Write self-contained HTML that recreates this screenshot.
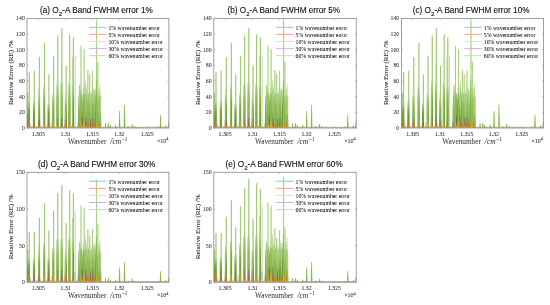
<!DOCTYPE html><html><head><meta charset="utf-8"><style>html,body{margin:0;padding:0;background:#fff;}svg{display:block}</style></head><body>
<svg width="550" height="305" viewBox="0 0 550 305">
<defs><filter id="bl" x="-2%" y="-2%" width="104%" height="104%"><feGaussianBlur stdDeviation="0.3"/></filter><linearGradient id="gb" x1="0" y1="0" x2="0" y2="1"><stop offset="0" stop-color="rgb(162,202,118)" stop-opacity="0.62"/><stop offset="0.35" stop-color="rgb(120,170,56)" stop-opacity="0.93"/><stop offset="1" stop-color="rgb(100,145,40)" stop-opacity="1"/></linearGradient><linearGradient id="gc" x1="0" y1="0" x2="0" y2="1"><stop offset="0" stop-color="rgb(120,172,55)" stop-opacity="0"/><stop offset="0.4" stop-color="rgb(110,160,45)" stop-opacity="0.7"/><stop offset="1" stop-color="rgb(100,145,40)" stop-opacity="0.9"/></linearGradient></defs>
<rect width="550" height="305" fill="#fff"/>
<filter id="gbl" x="0" y="0" width="100%" height="100%"><feGaussianBlur stdDeviation="0.25"/></filter><g filter="url(#gbl)">
<clipPath id="c0"><rect x="27" y="18.4" width="141.9" height="109.6"/></clipPath>
<g clip-path="url(#c0)" filter="url(#bl)">
<rect x="78.4" y="95.12" width="22" height="32.88" fill="url(#gb)" fill-opacity="0.7"/>
<path d="M77.6 128L78.3 102.75L78.9 102.75L79.6 128Z" fill="rgb(130,180,70)" fill-opacity="0.55"/>
<path d="M78.18 128L78.88 91.49L79.48 91.49L80.18 128Z" fill="rgb(130,180,70)" fill-opacity="0.55"/>
<path d="M78.71 128L79.41 95.45L80.01 95.45L80.71 128Z" fill="rgb(130,180,70)" fill-opacity="0.55"/>
<path d="M79.39 128L80.09 111.91L80.69 111.91L81.39 128Z" fill="rgb(130,180,70)" fill-opacity="0.55"/>
<path d="M80.15 128L80.85 112.62L81.45 112.62L82.15 128Z" fill="rgb(130,180,70)" fill-opacity="0.55"/>
<path d="M80.87 128L81.57 111.5L82.17 111.5L82.87 128Z" fill="rgb(130,180,70)" fill-opacity="0.55"/>
<path d="M81.41 128L82.11 99.29L82.71 99.29L83.41 128Z" fill="rgb(130,180,70)" fill-opacity="0.55"/>
<path d="M82.32 128L83.02 109.64L83.62 109.64L84.32 128Z" fill="rgb(130,180,70)" fill-opacity="0.55"/>
<path d="M82.94 128L83.64 92.3L84.24 92.3L84.94 128Z" fill="rgb(130,180,70)" fill-opacity="0.55"/>
<path d="M83.91 128L84.61 94.03L85.21 94.03L85.91 128Z" fill="rgb(130,180,70)" fill-opacity="0.55"/>
<path d="M84.61 128L85.31 80.28L85.91 80.28L86.61 128Z" fill="rgb(130,180,70)" fill-opacity="0.55"/>
<path d="M85.13 128L85.83 84.34L86.43 84.34L87.13 128Z" fill="rgb(130,180,70)" fill-opacity="0.55"/>
<path d="M85.78 128L86.48 108.94L87.08 108.94L87.78 128Z" fill="rgb(130,180,70)" fill-opacity="0.55"/>
<path d="M86.33 128L87.03 103.28L87.63 103.28L88.33 128Z" fill="rgb(130,180,70)" fill-opacity="0.55"/>
<path d="M87.24 128L87.94 107.68L88.54 107.68L89.24 128Z" fill="rgb(130,180,70)" fill-opacity="0.55"/>
<path d="M88.03 128L88.73 91.9L89.33 91.9L90.03 128Z" fill="rgb(130,180,70)" fill-opacity="0.55"/>
<path d="M88.72 128L89.42 95.04L90.02 95.04L90.72 128Z" fill="rgb(130,180,70)" fill-opacity="0.55"/>
<path d="M89.25 128L89.95 111.86L90.55 111.86L91.25 128Z" fill="rgb(130,180,70)" fill-opacity="0.55"/>
<path d="M89.85 128L90.55 90.47L91.15 90.47L91.85 128Z" fill="rgb(130,180,70)" fill-opacity="0.55"/>
<path d="M90.57 128L91.27 103.09L91.87 103.09L92.57 128Z" fill="rgb(130,180,70)" fill-opacity="0.55"/>
<path d="M91.36 128L92.06 98.3L92.66 98.3L93.36 128Z" fill="rgb(130,180,70)" fill-opacity="0.55"/>
<path d="M92.01 128L92.71 86.55L93.31 86.55L94.01 128Z" fill="rgb(130,180,70)" fill-opacity="0.55"/>
<path d="M92.86 128L93.56 105.5L94.16 105.5L94.86 128Z" fill="rgb(130,180,70)" fill-opacity="0.55"/>
<path d="M93.65 128L94.35 95.82L94.95 95.82L95.65 128Z" fill="rgb(130,180,70)" fill-opacity="0.55"/>
<path d="M94.58 128L95.28 88.78L95.88 88.78L96.58 128Z" fill="rgb(130,180,70)" fill-opacity="0.55"/>
<path d="M95.23 128L95.93 80.15L96.53 80.15L97.23 128Z" fill="rgb(130,180,70)" fill-opacity="0.55"/>
<path d="M95.79 128L96.49 99.51L97.09 99.51L97.79 128Z" fill="rgb(130,180,70)" fill-opacity="0.55"/>
<path d="M96.67 128L97.37 108.67L97.97 108.67L98.67 128Z" fill="rgb(130,180,70)" fill-opacity="0.55"/>
<path d="M97.41 128L98.11 112.56L98.71 112.56L99.41 128Z" fill="rgb(130,180,70)" fill-opacity="0.55"/>
<path d="M98.24 128L98.94 87.57L99.54 87.57L100.24 128Z" fill="rgb(130,180,70)" fill-opacity="0.55"/>
<path d="M99.03 128L99.73 83.75L100.33 83.75L101.03 128Z" fill="rgb(130,180,70)" fill-opacity="0.55"/>
<rect x="78.55" y="95.91" width="0.9" height="32.09" fill="rgb(100,145,45)" fill-opacity="0.6"/>
<rect x="80.03" y="97.99" width="0.9" height="30.01" fill="rgb(100,145,45)" fill-opacity="0.6"/>
<rect x="81.39" y="93.3" width="0.9" height="34.7" fill="rgb(100,145,45)" fill-opacity="0.6"/>
<rect x="83.15" y="99.89" width="0.9" height="28.11" fill="rgb(100,145,45)" fill-opacity="0.6"/>
<rect x="84.68" y="107.34" width="0.9" height="20.66" fill="rgb(100,145,45)" fill-opacity="0.6"/>
<rect x="86.24" y="96.78" width="0.9" height="31.22" fill="rgb(100,145,45)" fill-opacity="0.6"/>
<rect x="88.03" y="93.63" width="0.9" height="34.37" fill="rgb(100,145,45)" fill-opacity="0.6"/>
<rect x="89.26" y="101.48" width="0.9" height="26.52" fill="rgb(100,145,45)" fill-opacity="0.6"/>
<rect x="90.8" y="108.02" width="0.9" height="19.98" fill="rgb(100,145,45)" fill-opacity="0.6"/>
<rect x="92.17" y="105.4" width="0.9" height="22.6" fill="rgb(100,145,45)" fill-opacity="0.6"/>
<rect x="93.26" y="107.37" width="0.9" height="20.63" fill="rgb(100,145,45)" fill-opacity="0.6"/>
<rect x="94.87" y="106.1" width="0.9" height="21.9" fill="rgb(100,145,45)" fill-opacity="0.6"/>
<rect x="96.07" y="101.39" width="0.9" height="26.61" fill="rgb(100,145,45)" fill-opacity="0.6"/>
<rect x="97.77" y="106.98" width="0.9" height="21.02" fill="rgb(100,145,45)" fill-opacity="0.6"/>
<rect x="99.13" y="98.54" width="0.9" height="29.46" fill="rgb(100,145,45)" fill-opacity="0.6"/>
<rect x="78.4" y="113.91" width="21.9" height="14.09" fill="rgb(105,150,45)" fill-opacity="0.35"/>
<path d="M79.5 128L80.05 88.86L80.95 88.86L81.5 128Z" fill="url(#gb)" fill-opacity="1"/>
<path d="M82.6 128L83.15 87.29L84.05 87.29L84.6 128Z" fill="url(#gb)" fill-opacity="1"/>
<path d="M86 128L86.55 91.99L87.45 91.99L88 128Z" fill="url(#gb)" fill-opacity="1"/>
<path d="M88 128L88.55 96.69L89.45 96.69L90 128Z" fill="url(#gb)" fill-opacity="1"/>
<path d="M90.6 128L91.15 93.55L92.05 93.55L92.6 128Z" fill="url(#gb)" fill-opacity="1"/>
<path d="M93 128L93.55 88.86L94.45 88.86L95 128Z" fill="url(#gb)" fill-opacity="1"/>
<path d="M95.4 128L95.95 84.94L96.85 84.94L97.4 128Z" fill="url(#gb)" fill-opacity="1"/>
<path d="M97 128L97.55 90.42L98.45 90.42L99 128Z" fill="url(#gb)" fill-opacity="1"/>
<rect x="27.2" y="92.77" width="1.2" height="35.23" fill="rgb(168,207,125)" fill-opacity="0.95"/>
<rect x="27.6" y="93.48" width="0.4" height="34.52" fill="rgb(120,172,55)" fill-opacity="0.5"/>
<rect x="26.4" y="107.65" width="2.15" height="20.35" fill="url(#gb)"/>
<rect x="26.8" y="110.7" width="1.4" height="17.3" fill="url(#gc)"/>
<rect x="28.6" y="72.03" width="1.2" height="55.97" fill="rgb(168,207,125)" fill-opacity="0.95"/>
<rect x="29" y="73.15" width="0.4" height="54.85" fill="rgb(120,172,55)" fill-opacity="0.5"/>
<rect x="27.8" y="102.25" width="2.15" height="25.75" fill="url(#gb)"/>
<rect x="28.2" y="106.11" width="1.4" height="21.89" fill="url(#gc)"/>
<rect x="33.7" y="70.62" width="1.2" height="57.38" fill="rgb(168,207,125)" fill-opacity="0.95"/>
<rect x="34.1" y="71.76" width="0.4" height="56.24" fill="rgb(120,172,55)" fill-opacity="0.5"/>
<rect x="32.9" y="101.6" width="2.15" height="26.4" fill="url(#gb)"/>
<rect x="33.3" y="105.56" width="1.4" height="22.44" fill="url(#gc)"/>
<rect x="38.8" y="56.76" width="1.2" height="71.24" fill="rgb(168,207,125)" fill-opacity="0.95"/>
<rect x="39.2" y="58.18" width="0.4" height="69.82" fill="rgb(120,172,55)" fill-opacity="0.5"/>
<rect x="38" y="95.23" width="2.15" height="32.77" fill="url(#gb)"/>
<rect x="38.4" y="100.15" width="1.4" height="27.85" fill="url(#gc)"/>
<rect x="43.9" y="42.67" width="1.2" height="85.33" fill="rgb(168,207,125)" fill-opacity="0.95"/>
<rect x="44.3" y="44.38" width="0.4" height="83.62" fill="rgb(120,172,55)" fill-opacity="0.5"/>
<rect x="43.1" y="88.75" width="2.15" height="39.25" fill="url(#gb)"/>
<rect x="43.5" y="94.64" width="1.4" height="33.36" fill="url(#gc)"/>
<rect x="48.3" y="74.53" width="1.2" height="53.47" fill="rgb(168,207,125)" fill-opacity="0.95"/>
<rect x="48.7" y="75.6" width="0.4" height="52.4" fill="rgb(120,172,55)" fill-opacity="0.5"/>
<rect x="47.5" y="103.4" width="2.15" height="24.6" fill="url(#gb)"/>
<rect x="47.9" y="107.09" width="1.4" height="20.91" fill="url(#gc)"/>
<rect x="53" y="55.98" width="1.2" height="72.02" fill="rgb(168,207,125)" fill-opacity="0.95"/>
<rect x="53.4" y="57.42" width="0.4" height="70.58" fill="rgb(120,172,55)" fill-opacity="0.5"/>
<rect x="52.2" y="94.87" width="2.15" height="33.13" fill="url(#gb)"/>
<rect x="52.6" y="99.84" width="1.4" height="28.16" fill="url(#gc)"/>
<rect x="57.2" y="35.23" width="1.2" height="92.77" fill="rgb(168,207,125)" fill-opacity="0.95"/>
<rect x="57.6" y="37.09" width="0.4" height="90.91" fill="rgb(120,172,55)" fill-opacity="0.5"/>
<rect x="56.4" y="85.33" width="2.15" height="42.67" fill="url(#gb)"/>
<rect x="56.8" y="91.73" width="1.4" height="36.27" fill="url(#gc)"/>
<rect x="61.3" y="28.03" width="1.2" height="99.97" fill="rgb(168,207,125)" fill-opacity="0.95"/>
<rect x="61.7" y="30.03" width="0.4" height="97.97" fill="rgb(120,172,55)" fill-opacity="0.5"/>
<rect x="60.5" y="82.59" width="2.15" height="45.41" fill="url(#gb)"/>
<rect x="60.9" y="89.41" width="1.4" height="38.59" fill="url(#gc)"/>
<rect x="65.5" y="65.61" width="1.2" height="62.39" fill="rgb(168,207,125)" fill-opacity="0.95"/>
<rect x="65.9" y="66.85" width="0.4" height="61.15" fill="rgb(120,172,55)" fill-opacity="0.5"/>
<rect x="64.7" y="99.3" width="2.15" height="28.7" fill="url(#gb)"/>
<rect x="65.1" y="103.6" width="1.4" height="24.4" fill="url(#gc)"/>
<rect x="69.1" y="34.06" width="1.2" height="93.94" fill="rgb(168,207,125)" fill-opacity="0.95"/>
<rect x="69.5" y="35.94" width="0.4" height="92.06" fill="rgb(120,172,55)" fill-opacity="0.5"/>
<rect x="68.3" y="84.79" width="2.15" height="43.21" fill="url(#gb)"/>
<rect x="68.7" y="91.27" width="1.4" height="36.73" fill="url(#gc)"/>
<rect x="72.8" y="37.19" width="1.2" height="90.81" fill="rgb(168,207,125)" fill-opacity="0.95"/>
<rect x="73.2" y="39" width="0.4" height="89" fill="rgb(120,172,55)" fill-opacity="0.5"/>
<rect x="72" y="86.23" width="2.15" height="41.77" fill="url(#gb)"/>
<rect x="72.4" y="92.49" width="1.4" height="35.51" fill="url(#gc)"/>
<rect x="61.05" y="63.81" width="0.9" height="64.19" fill="rgb(165,206,120)" fill-opacity="0.75"/>
<rect x="72.05" y="56.99" width="0.9" height="71.01" fill="rgb(165,206,120)" fill-opacity="0.75"/>
<rect x="74.75" y="55.27" width="0.9" height="72.73" fill="rgb(165,206,120)" fill-opacity="0.75"/>
<rect x="38.35" y="88.86" width="0.9" height="39.14" fill="rgb(165,206,120)" fill-opacity="0.75"/>
<rect x="43.45" y="84.94" width="0.9" height="43.06" fill="rgb(165,206,120)" fill-opacity="0.75"/>
<rect x="52.55" y="92.77" width="0.9" height="35.23" fill="rgb(165,206,120)" fill-opacity="0.75"/>
<rect x="56.75" y="81.03" width="0.9" height="46.97" fill="rgb(165,206,120)" fill-opacity="0.75"/>
<rect x="65.05" y="92.77" width="0.9" height="35.23" fill="rgb(165,206,120)" fill-opacity="0.75"/>
<rect x="68.65" y="82.59" width="0.9" height="45.41" fill="rgb(165,206,120)" fill-opacity="0.75"/>
<rect x="79" y="84.94" width="1.2" height="43.06" fill="rgb(178,214,140)" fill-opacity="0.95"/>
<rect x="79.4" y="85.8" width="0.4" height="42.2" fill="rgb(125,176,62)" fill-opacity="0.45"/>
<path d="M78.6 128L79.3 108.62L79.9 108.62L80.6 128Z" fill="rgb(120,170,55)" fill-opacity="0.55"/>
<rect x="80.4" y="45.8" width="1.2" height="82.2" fill="rgb(178,214,140)" fill-opacity="0.95"/>
<rect x="80.8" y="47.44" width="0.4" height="80.56" fill="rgb(125,176,62)" fill-opacity="0.45"/>
<path d="M80 128L80.7 91.01L81.3 91.01L82 128Z" fill="rgb(120,170,55)" fill-opacity="0.55"/>
<rect x="83.5" y="48.93" width="1.2" height="79.07" fill="rgb(178,214,140)" fill-opacity="0.95"/>
<rect x="83.9" y="50.51" width="0.4" height="77.49" fill="rgb(125,176,62)" fill-opacity="0.45"/>
<path d="M83.1 128L83.8 92.42L84.4 92.42L85.1 128Z" fill="rgb(120,170,55)" fill-opacity="0.55"/>
<rect x="85.4" y="88.86" width="1.2" height="39.14" fill="rgb(178,214,140)" fill-opacity="0.95"/>
<rect x="85.8" y="89.64" width="0.4" height="38.36" fill="rgb(125,176,62)" fill-opacity="0.45"/>
<path d="M85 128L85.7 110.39L86.3 110.39L87 128Z" fill="rgb(120,170,55)" fill-opacity="0.55"/>
<rect x="87.3" y="69.83" width="1.2" height="58.17" fill="rgb(178,214,140)" fill-opacity="0.95"/>
<rect x="87.7" y="71" width="0.4" height="57" fill="rgb(125,176,62)" fill-opacity="0.45"/>
<path d="M86.9 128L87.6 101.83L88.2 101.83L88.9 128Z" fill="rgb(120,170,55)" fill-opacity="0.55"/>
<rect x="89.1" y="73.98" width="1.2" height="54.02" fill="rgb(178,214,140)" fill-opacity="0.95"/>
<rect x="89.5" y="75.06" width="0.4" height="52.94" fill="rgb(125,176,62)" fill-opacity="0.45"/>
<path d="M88.7 128L89.4 103.69L90 103.69L90.7 128Z" fill="rgb(120,170,55)" fill-opacity="0.55"/>
<rect x="90.4" y="92.77" width="1.2" height="35.23" fill="rgb(178,214,140)" fill-opacity="0.95"/>
<rect x="90.8" y="93.48" width="0.4" height="34.52" fill="rgb(125,176,62)" fill-opacity="0.45"/>
<path d="M90 128L90.7 112.15L91.3 112.15L92 128Z" fill="rgb(120,170,55)" fill-opacity="0.55"/>
<rect x="91.9" y="70.62" width="1.2" height="57.38" fill="rgb(178,214,140)" fill-opacity="0.95"/>
<rect x="92.3" y="71.76" width="0.4" height="56.24" fill="rgb(125,176,62)" fill-opacity="0.45"/>
<path d="M91.5 128L92.2 102.18L92.8 102.18L93.5 128Z" fill="rgb(120,170,55)" fill-opacity="0.55"/>
<rect x="93.7" y="90.42" width="1.2" height="37.58" fill="rgb(178,214,140)" fill-opacity="0.95"/>
<rect x="94.1" y="91.17" width="0.4" height="36.83" fill="rgb(125,176,62)" fill-opacity="0.45"/>
<path d="M93.3 128L94 111.09L94.6 111.09L95.3 128Z" fill="rgb(120,170,55)" fill-opacity="0.55"/>
<rect x="95.9" y="19.18" width="1.2" height="108.82" fill="rgb(178,214,140)" fill-opacity="0.95"/>
<rect x="96.3" y="21.36" width="0.4" height="106.64" fill="rgb(125,176,62)" fill-opacity="0.45"/>
<path d="M95.5 128L96.2 79.03L96.8 79.03L97.5 128Z" fill="rgb(120,170,55)" fill-opacity="0.55"/>
<rect x="97.3" y="61.61" width="1.2" height="66.39" fill="rgb(178,214,140)" fill-opacity="0.95"/>
<rect x="97.7" y="62.94" width="0.4" height="65.06" fill="rgb(125,176,62)" fill-opacity="0.45"/>
<path d="M96.9 128L97.6 98.13L98.2 98.13L98.9 128Z" fill="rgb(120,170,55)" fill-opacity="0.55"/>
<rect x="98.6" y="96.69" width="1.2" height="31.31" fill="rgb(178,214,140)" fill-opacity="0.95"/>
<rect x="99" y="97.31" width="0.4" height="30.69" fill="rgb(125,176,62)" fill-opacity="0.45"/>
<path d="M98.2 128L98.9 113.91L99.5 113.91L100.2 128Z" fill="rgb(120,170,55)" fill-opacity="0.55"/>
<rect x="100" y="95.9" width="1.2" height="32.1" fill="rgb(178,214,140)" fill-opacity="0.95"/>
<rect x="100.4" y="96.54" width="0.4" height="31.46" fill="rgb(125,176,62)" fill-opacity="0.45"/>
<path d="M99.6 128L100.3 113.56L100.9 113.56L101.6 128Z" fill="rgb(120,170,55)" fill-opacity="0.55"/>
<path d="M104.7 128L105.25 122.99L105.95 122.99L106.5 128Z" fill="rgb(150,196,100)" fill-opacity="0.85"/>
<path d="M105.15 128L105.45 122.99L105.75 122.99L106.05 128Z" fill="rgb(110,160,45)" fill-opacity="0.8"/>
<path d="M107.5 128L108.05 122.99L108.75 122.99L109.3 128Z" fill="rgb(150,196,100)" fill-opacity="0.85"/>
<path d="M107.95 128L108.25 122.99L108.55 122.99L108.85 128Z" fill="rgb(110,160,45)" fill-opacity="0.8"/>
<path d="M109.4 128L109.95 125.03L110.65 125.03L111.2 128Z" fill="rgb(150,196,100)" fill-opacity="0.85"/>
<path d="M109.85 128L110.15 125.03L110.45 125.03L110.75 128Z" fill="rgb(110,160,45)" fill-opacity="0.8"/>
<path d="M114.8 128L115.35 124.71L116.05 124.71L116.6 128Z" fill="rgb(150,196,100)" fill-opacity="0.85"/>
<path d="M115.25 128L115.55 124.71L115.85 124.71L116.15 128Z" fill="rgb(110,160,45)" fill-opacity="0.8"/>
<path d="M118.7 128L119.25 110.93L119.95 110.93L120.5 128Z" fill="rgb(150,196,100)" fill-opacity="0.85"/>
<path d="M119.15 128L119.45 110.93L119.75 110.93L120.05 128Z" fill="rgb(110,160,45)" fill-opacity="0.8"/>
<path d="M123.6 128L124.15 104.83L124.85 104.83L125.4 128Z" fill="rgb(150,196,100)" fill-opacity="0.85"/>
<path d="M124.05 128L124.35 104.83L124.65 104.83L124.95 128Z" fill="rgb(110,160,45)" fill-opacity="0.8"/>
<path d="M127.3 128L127.85 125.96L128.55 125.96L129.1 128Z" fill="rgb(150,196,100)" fill-opacity="0.85"/>
<path d="M127.75 128L128.05 125.96L128.35 125.96L128.65 128Z" fill="rgb(110,160,45)" fill-opacity="0.8"/>
<path d="M131.2 128L131.75 124.01L132.45 124.01L133 128Z" fill="rgb(150,196,100)" fill-opacity="0.85"/>
<path d="M131.65 128L131.95 124.01L132.25 124.01L132.55 128Z" fill="rgb(110,160,45)" fill-opacity="0.8"/>
<path d="M133.7 128L134.25 126.04L134.95 126.04L135.5 128Z" fill="rgb(150,196,100)" fill-opacity="0.85"/>
<path d="M134.15 128L134.45 126.04L134.75 126.04L135.05 128Z" fill="rgb(110,160,45)" fill-opacity="0.8"/>
<path d="M139.1 128L139.65 127.22L140.35 127.22L140.9 128Z" fill="rgb(150,196,100)" fill-opacity="0.85"/>
<path d="M139.55 128L139.85 127.22L140.15 127.22L140.45 128Z" fill="rgb(110,160,45)" fill-opacity="0.8"/>
<path d="M146.6 128L147.15 127.22L147.85 127.22L148.4 128Z" fill="rgb(150,196,100)" fill-opacity="0.85"/>
<path d="M147.05 128L147.35 127.22L147.65 127.22L147.95 128Z" fill="rgb(110,160,45)" fill-opacity="0.8"/>
<path d="M156.9 128L157.45 126.43L158.15 126.43L158.7 128Z" fill="rgb(150,196,100)" fill-opacity="0.85"/>
<path d="M157.35 128L157.65 126.43L157.95 126.43L158.25 128Z" fill="rgb(110,160,45)" fill-opacity="0.8"/>
<path d="M159.6 128L160.15 115.08L160.85 115.08L161.4 128Z" fill="rgb(150,196,100)" fill-opacity="0.85"/>
<path d="M160.05 128L160.35 115.08L160.65 115.08L160.95 128Z" fill="rgb(110,160,45)" fill-opacity="0.8"/>
<path d="M165.1 128L165.65 125.26L166.35 125.26L166.9 128Z" fill="rgb(150,196,100)" fill-opacity="0.85"/>
<path d="M165.55 128L165.85 125.26L166.15 125.26L166.45 128Z" fill="rgb(110,160,45)" fill-opacity="0.8"/>
<path d="M167.8 128L168.35 121.74L169.05 121.74L169.6 128Z" fill="rgb(150,196,100)" fill-opacity="0.85"/>
<path d="M168.25 128L168.55 121.74L168.85 121.74L169.15 128Z" fill="rgb(110,160,45)" fill-opacity="0.8"/>
<rect x="27" y="126.04" width="73.5" height="1.96" fill="rgb(180,150,70)" fill-opacity="0.2"/>
<path d="M26 128L26.45 122.39L26.75 122.39L27.2 128Z" fill="rgb(225,150,40)" fill-opacity="0.6"/>
<path d="M26.9 128L27.35 122.52L27.65 122.52L28.1 128Z" fill="rgb(217,83,25)" fill-opacity="0.6"/>
<path d="M27.7 128L28.15 122.82L28.45 122.82L28.9 128Z" fill="rgb(225,150,40)" fill-opacity="0.6"/>
<path d="M27.4 128L27.85 123.18L28.15 123.18L28.6 128Z" fill="rgb(217,83,25)" fill-opacity="0.6"/>
<path d="M28.3 128L28.75 121.06L29.05 121.06L29.5 128Z" fill="rgb(225,150,40)" fill-opacity="0.6"/>
<path d="M29.1 128L29.55 120.7L29.85 120.7L30.3 128Z" fill="rgb(225,150,40)" fill-opacity="0.6"/>
<path d="M32.5 128L32.95 125.83L33.25 125.83L33.7 128Z" fill="rgb(217,83,25)" fill-opacity="0.6"/>
<path d="M33.4 128L33.85 123.22L34.15 123.22L34.6 128Z" fill="rgb(225,150,40)" fill-opacity="0.6"/>
<path d="M34.2 128L34.65 123.32L34.95 123.32L35.4 128Z" fill="rgb(217,83,25)" fill-opacity="0.6"/>
<path d="M37.6 128L38.05 120.07L38.35 120.07L38.8 128Z" fill="rgb(217,83,25)" fill-opacity="0.6"/>
<path d="M38.5 128L38.95 124.54L39.25 124.54L39.7 128Z" fill="rgb(217,83,25)" fill-opacity="0.6"/>
<path d="M39.3 128L39.75 122.73L40.05 122.73L40.5 128Z" fill="rgb(200,120,30)" fill-opacity="0.6"/>
<path d="M42.7 128L43.15 123.09L43.45 123.09L43.9 128Z" fill="rgb(237,177,32)" fill-opacity="0.6"/>
<path d="M43.6 128L44.05 120.56L44.35 120.56L44.8 128Z" fill="rgb(225,150,40)" fill-opacity="0.6"/>
<path d="M44.4 128L44.85 123.67L45.15 123.67L45.6 128Z" fill="rgb(225,150,40)" fill-opacity="0.6"/>
<path d="M47.1 128L47.55 123.7L47.85 123.7L48.3 128Z" fill="rgb(200,120,30)" fill-opacity="0.6"/>
<path d="M48 128L48.45 120.7L48.75 120.7L49.2 128Z" fill="rgb(217,83,25)" fill-opacity="0.6"/>
<path d="M48.8 128L49.25 125.09L49.55 125.09L50 128Z" fill="rgb(217,83,25)" fill-opacity="0.6"/>
<path d="M51.8 128L52.25 125.97L52.55 125.97L53 128Z" fill="rgb(200,120,30)" fill-opacity="0.6"/>
<path d="M52.7 128L53.15 120.43L53.45 120.43L53.9 128Z" fill="rgb(237,177,32)" fill-opacity="0.6"/>
<path d="M53.5 128L53.95 121.24L54.25 121.24L54.7 128Z" fill="rgb(237,177,32)" fill-opacity="0.6"/>
<path d="M56 128L56.45 122.89L56.75 122.89L57.2 128Z" fill="rgb(237,177,32)" fill-opacity="0.6"/>
<path d="M56.9 128L57.35 119.1L57.65 119.1L58.1 128Z" fill="rgb(237,177,32)" fill-opacity="0.6"/>
<path d="M57.7 128L58.15 123.09L58.45 123.09L58.9 128Z" fill="rgb(200,120,30)" fill-opacity="0.6"/>
<path d="M60.1 128L60.55 125.22L60.85 125.22L61.3 128Z" fill="rgb(200,120,30)" fill-opacity="0.6"/>
<path d="M61 128L61.45 119.07L61.75 119.07L62.2 128Z" fill="rgb(217,83,25)" fill-opacity="0.6"/>
<path d="M61.8 128L62.25 124.14L62.55 124.14L63 128Z" fill="rgb(225,150,40)" fill-opacity="0.6"/>
<path d="M64.3 128L64.75 119.01L65.05 119.01L65.5 128Z" fill="rgb(217,83,25)" fill-opacity="0.6"/>
<path d="M65.2 128L65.65 124.56L65.95 124.56L66.4 128Z" fill="rgb(200,120,30)" fill-opacity="0.6"/>
<path d="M66 128L66.45 119.03L66.75 119.03L67.2 128Z" fill="rgb(217,83,25)" fill-opacity="0.6"/>
<path d="M67.9 128L68.35 125.75L68.65 125.75L69.1 128Z" fill="rgb(237,177,32)" fill-opacity="0.6"/>
<path d="M68.8 128L69.25 124.54L69.55 124.54L70 128Z" fill="rgb(225,150,40)" fill-opacity="0.6"/>
<path d="M69.6 128L70.05 125.98L70.35 125.98L70.8 128Z" fill="rgb(225,150,40)" fill-opacity="0.6"/>
<path d="M71.6 128L72.05 120.19L72.35 120.19L72.8 128Z" fill="rgb(200,120,30)" fill-opacity="0.6"/>
<path d="M72.5 128L72.95 125.53L73.25 125.53L73.7 128Z" fill="rgb(217,83,25)" fill-opacity="0.6"/>
<path d="M73.3 128L73.75 124.57L74.05 124.57L74.5 128Z" fill="rgb(237,177,32)" fill-opacity="0.6"/>
<path d="M78 128L78.45 125.93L78.75 125.93L79.2 128Z" fill="rgb(225,150,40)" fill-opacity="0.6"/>
<path d="M78.73 128L79.18 123.42L79.48 123.42L79.93 128Z" fill="rgb(200,120,30)" fill-opacity="0.6"/>
<path d="M79.5 128L79.95 125.15L80.25 125.15L80.7 128Z" fill="rgb(200,120,30)" fill-opacity="0.6"/>
<path d="M80.42 128L80.87 120.18L81.17 120.18L81.62 128Z" fill="rgb(237,177,32)" fill-opacity="0.6"/>
<path d="M81.16 128L81.61 119.94L81.91 119.94L82.36 128Z" fill="rgb(237,177,32)" fill-opacity="0.6"/>
<path d="M81.91 128L82.36 121.62L82.66 121.62L83.11 128Z" fill="rgb(225,150,40)" fill-opacity="0.6"/>
<path d="M82.7 128L83.15 119.64L83.45 119.64L83.9 128Z" fill="rgb(237,177,32)" fill-opacity="0.6"/>
<path d="M83.32 128L83.77 120.93L84.07 120.93L84.52 128Z" fill="rgb(237,177,32)" fill-opacity="0.6"/>
<path d="M84.08 128L84.53 120.83L84.83 120.83L85.28 128Z" fill="rgb(237,177,32)" fill-opacity="0.6"/>
<path d="M84.88 128L85.33 121.2L85.63 121.2L86.08 128Z" fill="rgb(200,120,30)" fill-opacity="0.6"/>
<path d="M85.75 128L86.2 119.83L86.5 119.83L86.95 128Z" fill="rgb(217,83,25)" fill-opacity="0.6"/>
<path d="M86.33 128L86.78 123.07L87.08 123.07L87.53 128Z" fill="rgb(217,83,25)" fill-opacity="0.6"/>
<path d="M87.01 128L87.46 125.27L87.76 125.27L88.21 128Z" fill="rgb(225,150,40)" fill-opacity="0.6"/>
<path d="M87.59 128L88.04 124.36L88.34 124.36L88.79 128Z" fill="rgb(200,120,30)" fill-opacity="0.6"/>
<path d="M88.47 128L88.92 124.23L89.22 124.23L89.67 128Z" fill="rgb(200,120,30)" fill-opacity="0.6"/>
<path d="M89.29 128L89.74 123.98L90.04 123.98L90.49 128Z" fill="rgb(237,177,32)" fill-opacity="0.6"/>
<path d="M89.86 128L90.31 119.5L90.61 119.5L91.06 128Z" fill="rgb(217,83,25)" fill-opacity="0.6"/>
<path d="M90.8 128L91.25 125.15L91.55 125.15L92 128Z" fill="rgb(200,120,30)" fill-opacity="0.6"/>
<path d="M91.74 128L92.19 122.1L92.49 122.1L92.94 128Z" fill="rgb(217,83,25)" fill-opacity="0.6"/>
<path d="M92.55 128L93 124.07L93.3 124.07L93.75 128Z" fill="rgb(237,177,32)" fill-opacity="0.6"/>
<path d="M93.35 128L93.8 120.77L94.1 120.77L94.55 128Z" fill="rgb(217,83,25)" fill-opacity="0.6"/>
<path d="M93.96 128L94.41 124.15L94.71 124.15L95.16 128Z" fill="rgb(200,120,30)" fill-opacity="0.6"/>
<path d="M94.52 128L94.97 124.29L95.27 124.29L95.72 128Z" fill="rgb(217,83,25)" fill-opacity="0.6"/>
<path d="M95.28 128L95.73 124.8L96.03 124.8L96.48 128Z" fill="rgb(225,150,40)" fill-opacity="0.6"/>
<path d="M95.85 128L96.3 122.3L96.6 122.3L97.05 128Z" fill="rgb(237,177,32)" fill-opacity="0.6"/>
<path d="M96.48 128L96.93 125.39L97.23 125.39L97.68 128Z" fill="rgb(237,177,32)" fill-opacity="0.6"/>
<path d="M97.12 128L97.57 119.77L97.87 119.77L98.32 128Z" fill="rgb(225,150,40)" fill-opacity="0.6"/>
<path d="M97.69 128L98.14 121.41L98.44 121.41L98.89 128Z" fill="rgb(237,177,32)" fill-opacity="0.6"/>
<path d="M98.42 128L98.87 121.89L99.17 121.89L99.62 128Z" fill="rgb(217,83,25)" fill-opacity="0.6"/>
<path d="M99.15 128L99.6 122.7L99.9 122.7L100.35 128Z" fill="rgb(225,150,40)" fill-opacity="0.6"/>
<rect x="77.67" y="122.64" width="0.8" height="4.97" fill="rgb(0,114,189)" fill-opacity="0.4"/>
<rect x="30.09" y="123.66" width="0.8" height="3.95" fill="rgb(0,114,189)" fill-opacity="0.4"/>
<rect x="62.36" y="123.36" width="0.8" height="4.24" fill="rgb(0,114,189)" fill-opacity="0.4"/>
<rect x="50.92" y="122.52" width="0.8" height="5.09" fill="rgb(0,114,189)" fill-opacity="0.4"/>
<rect x="39.32" y="119.17" width="1" height="6.48" fill="rgb(126,47,142)" fill-opacity="0.35"/>
<rect x="81.67" y="117.51" width="1" height="8.14" fill="rgb(126,47,142)" fill-opacity="0.35"/>
<rect x="81.67" y="118.43" width="1" height="7.22" fill="rgb(126,47,142)" fill-opacity="0.35"/>
<rect x="85.27" y="117.44" width="1" height="8.21" fill="rgb(126,47,142)" fill-opacity="0.35"/>
<rect x="57.02" y="118.52" width="1" height="7.13" fill="rgb(126,47,142)" fill-opacity="0.35"/>
<rect x="92.15" y="117.65" width="1" height="8.01" fill="rgb(126,47,142)" fill-opacity="0.35"/>
<rect x="61.2" y="118.02" width="1" height="7.63" fill="rgb(126,47,142)" fill-opacity="0.35"/>
<rect x="89.76" y="119.05" width="1" height="6.6" fill="rgb(126,47,142)" fill-opacity="0.35"/>
<line x1="27" y1="127.3" x2="168.9" y2="127.3" stroke="rgb(185,170,90)" stroke-width="0.9"/>
</g>
<rect x="27" y="18.4" width="141.9" height="109.6" fill="none" stroke="#8e8e8e" stroke-width="0.85"/>
<g stroke="#999" stroke-width="0.7"><line x1="38.3" y1="128" x2="38.3" y2="126.6"/><line x1="38.3" y1="18.4" x2="38.3" y2="19.8"/><line x1="65.7" y1="128" x2="65.7" y2="126.6"/><line x1="65.7" y1="18.4" x2="65.7" y2="19.8"/><line x1="92.4" y1="128" x2="92.4" y2="126.6"/><line x1="92.4" y1="18.4" x2="92.4" y2="19.8"/><line x1="119.4" y1="128" x2="119.4" y2="126.6"/><line x1="119.4" y1="18.4" x2="119.4" y2="19.8"/><line x1="147.2" y1="128" x2="147.2" y2="126.6"/><line x1="147.2" y1="18.4" x2="147.2" y2="19.8"/><line x1="27" y1="128" x2="28.4" y2="128"/><line x1="168.9" y1="128" x2="167.5" y2="128"/><line x1="27" y1="112.34" x2="28.4" y2="112.34"/><line x1="168.9" y1="112.34" x2="167.5" y2="112.34"/><line x1="27" y1="96.69" x2="28.4" y2="96.69"/><line x1="168.9" y1="96.69" x2="167.5" y2="96.69"/><line x1="27" y1="81.03" x2="28.4" y2="81.03"/><line x1="168.9" y1="81.03" x2="167.5" y2="81.03"/><line x1="27" y1="65.37" x2="28.4" y2="65.37"/><line x1="168.9" y1="65.37" x2="167.5" y2="65.37"/><line x1="27" y1="49.71" x2="28.4" y2="49.71"/><line x1="168.9" y1="49.71" x2="167.5" y2="49.71"/><line x1="27" y1="34.06" x2="28.4" y2="34.06"/><line x1="168.9" y1="34.06" x2="167.5" y2="34.06"/><line x1="27" y1="18.4" x2="28.4" y2="18.4"/><line x1="168.9" y1="18.4" x2="167.5" y2="18.4"/></g>
<g font-family="Liberation Serif, serif" font-size="5.8" fill="#3a3a3a" stroke="#3a3a3a" stroke-width="0.08"><text x="38.3" y="135.8" text-anchor="middle">1.305</text><text x="65.7" y="135.8" text-anchor="middle">1.31</text><text x="92.4" y="135.8" text-anchor="middle">1.315</text><text x="119.4" y="135.8" text-anchor="middle">1.32</text><text x="147.2" y="135.8" text-anchor="middle">1.325</text><text x="24.8" y="129.9" text-anchor="end">0</text><text x="24.8" y="114.24" text-anchor="end">20</text><text x="24.8" y="98.59" text-anchor="end">40</text><text x="24.8" y="82.93" text-anchor="end">60</text><text x="24.8" y="67.27" text-anchor="end">80</text><text x="24.8" y="51.61" text-anchor="end">100</text><text x="24.8" y="35.96" text-anchor="end">120</text><text x="24.8" y="20.3" text-anchor="end">140</text></g>
<text x="156.9" y="142.9" font-family="Liberation Serif, serif" font-size="6" fill="#3a3a3a" stroke="#3a3a3a" stroke-width="0.08">×10<tspan dy="-2.6" font-size="4.2">4</tspan></text>
<g font-family="Liberation Serif, serif" fill="#3a3a3a" stroke="#3a3a3a" stroke-width="0.04"><text x="67.9" y="144.1" font-size="7.25">Wavenumber</text><text x="110.35" y="144.1" font-size="7.5" font-style="italic">/cm</text><text x="121.95" y="141" font-size="5.2">−1</text></g>
<text transform="translate(13.4 72.7) rotate(-90)" text-anchor="middle" font-family="Liberation Serif, serif" font-size="7" fill="#2a2a2a" stroke="#2a2a2a" stroke-width="0.07">Relative Error (RE) /%</text>
<text x="96.4" y="12.6" text-anchor="middle" font-family="Liberation Sans, Arial, sans-serif" font-size="8.2" fill="#111" stroke="#111" stroke-width="0.12">(a) O<tspan dy="3.0" font-size="6.2">2</tspan><tspan dy="-3.0">-A Band FWHM error 1%</tspan></text>
<g font-family="Liberation Serif, serif" font-size="5.78" fill="#000" stroke="#000" stroke-width="0.03"><line x1="89" y1="27.3" x2="106.4" y2="27.3" stroke="rgb(140,196,234)" stroke-width="1"/><text x="108.4" y="29.6">1% wavenumber error</text><line x1="89" y1="34.4" x2="106.4" y2="34.4" stroke="rgb(243,166,142)" stroke-width="1"/><text x="108.4" y="36.7">5% wavenumber error</text><line x1="89" y1="41.5" x2="106.4" y2="41.5" stroke="rgb(250,220,160)" stroke-width="1"/><text x="108.4" y="43.8">10% wavenumber error</text><line x1="89" y1="48.6" x2="106.4" y2="48.6" stroke="rgb(208,176,223)" stroke-width="1"/><text x="108.4" y="50.9">30% wavenumber error</text><line x1="89" y1="55.7" x2="106.4" y2="55.7" stroke="rgb(198,222,175)" stroke-width="1"/><text x="108.4" y="58">60% wavenumber error</text></g>
<clipPath id="c1"><rect x="213.8" y="18.4" width="142.4" height="109.6"/></clipPath>
<g clip-path="url(#c1)" filter="url(#bl)">
<rect x="265.38" y="95.12" width="22.08" height="32.88" fill="url(#gb)" fill-opacity="0.7"/>
<path d="M264.58 128L265.28 102.75L265.88 102.75L266.58 128Z" fill="rgb(130,180,70)" fill-opacity="0.55"/>
<path d="M265.16 128L265.86 91.49L266.46 91.49L267.16 128Z" fill="rgb(130,180,70)" fill-opacity="0.55"/>
<path d="M265.7 128L266.4 95.45L267 95.45L267.7 128Z" fill="rgb(130,180,70)" fill-opacity="0.55"/>
<path d="M266.38 128L267.08 111.91L267.68 111.91L268.38 128Z" fill="rgb(130,180,70)" fill-opacity="0.55"/>
<path d="M267.14 128L267.84 112.62L268.44 112.62L269.14 128Z" fill="rgb(130,180,70)" fill-opacity="0.55"/>
<path d="M267.86 128L268.56 111.5L269.16 111.5L269.86 128Z" fill="rgb(130,180,70)" fill-opacity="0.55"/>
<path d="M268.41 128L269.11 99.29L269.71 99.29L270.41 128Z" fill="rgb(130,180,70)" fill-opacity="0.55"/>
<path d="M269.32 128L270.02 109.64L270.62 109.64L271.32 128Z" fill="rgb(130,180,70)" fill-opacity="0.55"/>
<path d="M269.94 128L270.64 92.3L271.24 92.3L271.94 128Z" fill="rgb(130,180,70)" fill-opacity="0.55"/>
<path d="M270.91 128L271.61 94.03L272.21 94.03L272.91 128Z" fill="rgb(130,180,70)" fill-opacity="0.55"/>
<path d="M271.61 128L272.31 80.28L272.91 80.28L273.61 128Z" fill="rgb(130,180,70)" fill-opacity="0.55"/>
<path d="M272.14 128L272.84 84.34L273.44 84.34L274.14 128Z" fill="rgb(130,180,70)" fill-opacity="0.55"/>
<path d="M272.79 128L273.49 108.94L274.09 108.94L274.79 128Z" fill="rgb(130,180,70)" fill-opacity="0.55"/>
<path d="M273.35 128L274.05 103.28L274.65 103.28L275.35 128Z" fill="rgb(130,180,70)" fill-opacity="0.55"/>
<path d="M274.26 128L274.96 107.68L275.56 107.68L276.26 128Z" fill="rgb(130,180,70)" fill-opacity="0.55"/>
<path d="M275.05 128L275.75 91.9L276.35 91.9L277.05 128Z" fill="rgb(130,180,70)" fill-opacity="0.55"/>
<path d="M275.74 128L276.44 95.04L277.04 95.04L277.74 128Z" fill="rgb(130,180,70)" fill-opacity="0.55"/>
<path d="M276.27 128L276.97 111.86L277.57 111.86L278.27 128Z" fill="rgb(130,180,70)" fill-opacity="0.55"/>
<path d="M276.88 128L277.58 90.47L278.18 90.47L278.88 128Z" fill="rgb(130,180,70)" fill-opacity="0.55"/>
<path d="M277.6 128L278.3 103.09L278.9 103.09L279.6 128Z" fill="rgb(130,180,70)" fill-opacity="0.55"/>
<path d="M278.39 128L279.09 98.3L279.69 98.3L280.39 128Z" fill="rgb(130,180,70)" fill-opacity="0.55"/>
<path d="M279.04 128L279.74 86.55L280.34 86.55L281.04 128Z" fill="rgb(130,180,70)" fill-opacity="0.55"/>
<path d="M279.9 128L280.6 105.5L281.2 105.5L281.9 128Z" fill="rgb(130,180,70)" fill-opacity="0.55"/>
<path d="M280.69 128L281.39 95.82L281.99 95.82L282.69 128Z" fill="rgb(130,180,70)" fill-opacity="0.55"/>
<path d="M281.63 128L282.33 88.78L282.93 88.78L283.63 128Z" fill="rgb(130,180,70)" fill-opacity="0.55"/>
<path d="M282.27 128L282.97 80.15L283.57 80.15L284.27 128Z" fill="rgb(130,180,70)" fill-opacity="0.55"/>
<path d="M282.83 128L283.53 99.51L284.13 99.51L284.83 128Z" fill="rgb(130,180,70)" fill-opacity="0.55"/>
<path d="M283.72 128L284.42 108.67L285.02 108.67L285.72 128Z" fill="rgb(130,180,70)" fill-opacity="0.55"/>
<path d="M284.46 128L285.16 112.56L285.76 112.56L286.46 128Z" fill="rgb(130,180,70)" fill-opacity="0.55"/>
<path d="M285.3 128L286 87.57L286.6 87.57L287.3 128Z" fill="rgb(130,180,70)" fill-opacity="0.55"/>
<path d="M286.09 128L286.79 83.75L287.39 83.75L288.09 128Z" fill="rgb(130,180,70)" fill-opacity="0.55"/>
<rect x="265.53" y="95.91" width="0.9" height="32.09" fill="rgb(100,145,45)" fill-opacity="0.6"/>
<rect x="267.01" y="97.99" width="0.9" height="30.01" fill="rgb(100,145,45)" fill-opacity="0.6"/>
<rect x="268.38" y="93.3" width="0.9" height="34.7" fill="rgb(100,145,45)" fill-opacity="0.6"/>
<rect x="270.15" y="99.89" width="0.9" height="28.11" fill="rgb(100,145,45)" fill-opacity="0.6"/>
<rect x="271.68" y="107.34" width="0.9" height="20.66" fill="rgb(100,145,45)" fill-opacity="0.6"/>
<rect x="273.25" y="96.78" width="0.9" height="31.22" fill="rgb(100,145,45)" fill-opacity="0.6"/>
<rect x="275.05" y="93.63" width="0.9" height="34.37" fill="rgb(100,145,45)" fill-opacity="0.6"/>
<rect x="276.28" y="101.48" width="0.9" height="26.52" fill="rgb(100,145,45)" fill-opacity="0.6"/>
<rect x="277.82" y="108.02" width="0.9" height="19.98" fill="rgb(100,145,45)" fill-opacity="0.6"/>
<rect x="279.2" y="105.4" width="0.9" height="22.6" fill="rgb(100,145,45)" fill-opacity="0.6"/>
<rect x="280.29" y="107.37" width="0.9" height="20.63" fill="rgb(100,145,45)" fill-opacity="0.6"/>
<rect x="281.91" y="106.1" width="0.9" height="21.9" fill="rgb(100,145,45)" fill-opacity="0.6"/>
<rect x="283.12" y="101.39" width="0.9" height="26.61" fill="rgb(100,145,45)" fill-opacity="0.6"/>
<rect x="284.82" y="106.98" width="0.9" height="21.02" fill="rgb(100,145,45)" fill-opacity="0.6"/>
<rect x="286.18" y="98.54" width="0.9" height="29.46" fill="rgb(100,145,45)" fill-opacity="0.6"/>
<rect x="265.38" y="113.91" width="21.98" height="14.09" fill="rgb(105,150,45)" fill-opacity="0.35"/>
<path d="M266.49 128L267.04 88.86L267.94 88.86L268.49 128Z" fill="url(#gb)" fill-opacity="1"/>
<path d="M269.6 128L270.15 87.29L271.05 87.29L271.6 128Z" fill="url(#gb)" fill-opacity="1"/>
<path d="M273.01 128L273.56 91.99L274.46 91.99L275.01 128Z" fill="url(#gb)" fill-opacity="1"/>
<path d="M275.02 128L275.57 96.69L276.47 96.69L277.02 128Z" fill="url(#gb)" fill-opacity="1"/>
<path d="M277.63 128L278.18 93.55L279.08 93.55L279.63 128Z" fill="url(#gb)" fill-opacity="1"/>
<path d="M280.04 128L280.59 88.86L281.49 88.86L282.04 128Z" fill="url(#gb)" fill-opacity="1"/>
<path d="M282.44 128L282.99 84.94L283.89 84.94L284.44 128Z" fill="url(#gb)" fill-opacity="1"/>
<path d="M284.05 128L284.6 90.42L285.5 90.42L286.05 128Z" fill="url(#gb)" fill-opacity="1"/>
<rect x="214" y="92.77" width="1.2" height="35.23" fill="rgb(168,207,125)" fill-opacity="0.95"/>
<rect x="214.4" y="93.48" width="0.4" height="34.52" fill="rgb(120,172,55)" fill-opacity="0.5"/>
<rect x="213.2" y="107.65" width="2.15" height="20.35" fill="url(#gb)"/>
<rect x="213.6" y="110.7" width="1.4" height="17.3" fill="url(#gc)"/>
<rect x="215.41" y="72.03" width="1.2" height="55.97" fill="rgb(168,207,125)" fill-opacity="0.95"/>
<rect x="215.81" y="73.15" width="0.4" height="54.85" fill="rgb(120,172,55)" fill-opacity="0.5"/>
<rect x="214.61" y="102.25" width="2.15" height="25.75" fill="url(#gb)"/>
<rect x="215.01" y="106.11" width="1.4" height="21.89" fill="url(#gc)"/>
<rect x="220.53" y="70.62" width="1.2" height="57.38" fill="rgb(168,207,125)" fill-opacity="0.95"/>
<rect x="220.93" y="71.76" width="0.4" height="56.24" fill="rgb(120,172,55)" fill-opacity="0.5"/>
<rect x="219.73" y="101.6" width="2.15" height="26.4" fill="url(#gb)"/>
<rect x="220.13" y="105.56" width="1.4" height="22.44" fill="url(#gc)"/>
<rect x="225.64" y="56.76" width="1.2" height="71.24" fill="rgb(168,207,125)" fill-opacity="0.95"/>
<rect x="226.04" y="58.18" width="0.4" height="69.82" fill="rgb(120,172,55)" fill-opacity="0.5"/>
<rect x="224.84" y="95.23" width="2.15" height="32.77" fill="url(#gb)"/>
<rect x="225.24" y="100.15" width="1.4" height="27.85" fill="url(#gc)"/>
<rect x="230.76" y="42.67" width="1.2" height="85.33" fill="rgb(168,207,125)" fill-opacity="0.95"/>
<rect x="231.16" y="44.38" width="0.4" height="83.62" fill="rgb(120,172,55)" fill-opacity="0.5"/>
<rect x="229.96" y="88.75" width="2.15" height="39.25" fill="url(#gb)"/>
<rect x="230.36" y="94.64" width="1.4" height="33.36" fill="url(#gc)"/>
<rect x="235.18" y="74.53" width="1.2" height="53.47" fill="rgb(168,207,125)" fill-opacity="0.95"/>
<rect x="235.58" y="75.6" width="0.4" height="52.4" fill="rgb(120,172,55)" fill-opacity="0.5"/>
<rect x="234.38" y="103.4" width="2.15" height="24.6" fill="url(#gb)"/>
<rect x="234.78" y="107.09" width="1.4" height="20.91" fill="url(#gc)"/>
<rect x="239.89" y="55.98" width="1.2" height="72.02" fill="rgb(168,207,125)" fill-opacity="0.95"/>
<rect x="240.29" y="57.42" width="0.4" height="70.58" fill="rgb(120,172,55)" fill-opacity="0.5"/>
<rect x="239.09" y="94.87" width="2.15" height="33.13" fill="url(#gb)"/>
<rect x="239.49" y="99.84" width="1.4" height="28.16" fill="url(#gc)"/>
<rect x="244.11" y="35.23" width="1.2" height="92.77" fill="rgb(168,207,125)" fill-opacity="0.95"/>
<rect x="244.51" y="37.09" width="0.4" height="90.91" fill="rgb(120,172,55)" fill-opacity="0.5"/>
<rect x="243.31" y="85.33" width="2.15" height="42.67" fill="url(#gb)"/>
<rect x="243.71" y="91.73" width="1.4" height="36.27" fill="url(#gc)"/>
<rect x="248.22" y="28.03" width="1.2" height="99.97" fill="rgb(168,207,125)" fill-opacity="0.95"/>
<rect x="248.62" y="30.03" width="0.4" height="97.97" fill="rgb(120,172,55)" fill-opacity="0.5"/>
<rect x="247.42" y="82.59" width="2.15" height="45.41" fill="url(#gb)"/>
<rect x="247.82" y="89.41" width="1.4" height="38.59" fill="url(#gc)"/>
<rect x="252.44" y="65.61" width="1.2" height="62.39" fill="rgb(168,207,125)" fill-opacity="0.95"/>
<rect x="252.84" y="66.85" width="0.4" height="61.15" fill="rgb(120,172,55)" fill-opacity="0.5"/>
<rect x="251.64" y="99.3" width="2.15" height="28.7" fill="url(#gb)"/>
<rect x="252.04" y="103.6" width="1.4" height="24.4" fill="url(#gc)"/>
<rect x="256.05" y="34.06" width="1.2" height="93.94" fill="rgb(168,207,125)" fill-opacity="0.95"/>
<rect x="256.45" y="35.94" width="0.4" height="92.06" fill="rgb(120,172,55)" fill-opacity="0.5"/>
<rect x="255.25" y="84.79" width="2.15" height="43.21" fill="url(#gb)"/>
<rect x="255.65" y="91.27" width="1.4" height="36.73" fill="url(#gc)"/>
<rect x="259.76" y="37.19" width="1.2" height="90.81" fill="rgb(168,207,125)" fill-opacity="0.95"/>
<rect x="260.16" y="39" width="0.4" height="89" fill="rgb(120,172,55)" fill-opacity="0.5"/>
<rect x="258.96" y="86.23" width="2.15" height="41.77" fill="url(#gb)"/>
<rect x="259.36" y="92.49" width="1.4" height="35.51" fill="url(#gc)"/>
<rect x="247.97" y="63.81" width="0.9" height="64.19" fill="rgb(165,206,120)" fill-opacity="0.75"/>
<rect x="259.01" y="56.99" width="0.9" height="71.01" fill="rgb(165,206,120)" fill-opacity="0.75"/>
<rect x="261.72" y="55.27" width="0.9" height="72.73" fill="rgb(165,206,120)" fill-opacity="0.75"/>
<rect x="225.19" y="88.86" width="0.9" height="39.14" fill="rgb(165,206,120)" fill-opacity="0.75"/>
<rect x="230.31" y="84.94" width="0.9" height="43.06" fill="rgb(165,206,120)" fill-opacity="0.75"/>
<rect x="239.44" y="92.77" width="0.9" height="35.23" fill="rgb(165,206,120)" fill-opacity="0.75"/>
<rect x="243.66" y="81.03" width="0.9" height="46.97" fill="rgb(165,206,120)" fill-opacity="0.75"/>
<rect x="251.99" y="92.77" width="0.9" height="35.23" fill="rgb(165,206,120)" fill-opacity="0.75"/>
<rect x="255.6" y="82.59" width="0.9" height="45.41" fill="rgb(165,206,120)" fill-opacity="0.75"/>
<rect x="265.99" y="84.94" width="1.2" height="43.06" fill="rgb(178,214,140)" fill-opacity="0.95"/>
<rect x="266.39" y="85.8" width="0.4" height="42.2" fill="rgb(125,176,62)" fill-opacity="0.45"/>
<path d="M265.59 128L266.29 108.62L266.89 108.62L267.59 128Z" fill="rgb(120,170,55)" fill-opacity="0.55"/>
<rect x="267.39" y="45.8" width="1.2" height="82.2" fill="rgb(178,214,140)" fill-opacity="0.95"/>
<rect x="267.79" y="47.44" width="0.4" height="80.56" fill="rgb(125,176,62)" fill-opacity="0.45"/>
<path d="M266.99 128L267.69 91.01L268.29 91.01L268.99 128Z" fill="rgb(120,170,55)" fill-opacity="0.55"/>
<rect x="270.5" y="48.93" width="1.2" height="79.07" fill="rgb(178,214,140)" fill-opacity="0.95"/>
<rect x="270.9" y="50.51" width="0.4" height="77.49" fill="rgb(125,176,62)" fill-opacity="0.45"/>
<path d="M270.1 128L270.8 92.42L271.4 92.42L272.1 128Z" fill="rgb(120,170,55)" fill-opacity="0.55"/>
<rect x="272.41" y="88.86" width="1.2" height="39.14" fill="rgb(178,214,140)" fill-opacity="0.95"/>
<rect x="272.81" y="89.64" width="0.4" height="38.36" fill="rgb(125,176,62)" fill-opacity="0.45"/>
<path d="M272.01 128L272.71 110.39L273.31 110.39L274.01 128Z" fill="rgb(120,170,55)" fill-opacity="0.55"/>
<rect x="274.31" y="69.83" width="1.2" height="58.17" fill="rgb(178,214,140)" fill-opacity="0.95"/>
<rect x="274.71" y="71" width="0.4" height="57" fill="rgb(125,176,62)" fill-opacity="0.45"/>
<path d="M273.91 128L274.61 101.83L275.21 101.83L275.91 128Z" fill="rgb(120,170,55)" fill-opacity="0.55"/>
<rect x="276.12" y="73.98" width="1.2" height="54.02" fill="rgb(178,214,140)" fill-opacity="0.95"/>
<rect x="276.52" y="75.06" width="0.4" height="52.94" fill="rgb(125,176,62)" fill-opacity="0.45"/>
<path d="M275.72 128L276.42 103.69L277.02 103.69L277.72 128Z" fill="rgb(120,170,55)" fill-opacity="0.55"/>
<rect x="277.43" y="92.77" width="1.2" height="35.23" fill="rgb(178,214,140)" fill-opacity="0.95"/>
<rect x="277.83" y="93.48" width="0.4" height="34.52" fill="rgb(125,176,62)" fill-opacity="0.45"/>
<path d="M277.03 128L277.73 112.15L278.33 112.15L279.03 128Z" fill="rgb(120,170,55)" fill-opacity="0.55"/>
<rect x="278.93" y="70.62" width="1.2" height="57.38" fill="rgb(178,214,140)" fill-opacity="0.95"/>
<rect x="279.33" y="71.76" width="0.4" height="56.24" fill="rgb(125,176,62)" fill-opacity="0.45"/>
<path d="M278.53 128L279.23 102.18L279.83 102.18L280.53 128Z" fill="rgb(120,170,55)" fill-opacity="0.55"/>
<rect x="280.74" y="90.42" width="1.2" height="37.58" fill="rgb(178,214,140)" fill-opacity="0.95"/>
<rect x="281.14" y="91.17" width="0.4" height="36.83" fill="rgb(125,176,62)" fill-opacity="0.45"/>
<path d="M280.34 128L281.04 111.09L281.64 111.09L282.34 128Z" fill="rgb(120,170,55)" fill-opacity="0.55"/>
<rect x="282.94" y="19.18" width="1.2" height="108.82" fill="rgb(178,214,140)" fill-opacity="0.95"/>
<rect x="283.34" y="21.36" width="0.4" height="106.64" fill="rgb(125,176,62)" fill-opacity="0.45"/>
<path d="M282.54 128L283.24 79.03L283.84 79.03L284.54 128Z" fill="rgb(120,170,55)" fill-opacity="0.55"/>
<rect x="284.35" y="61.61" width="1.2" height="66.39" fill="rgb(178,214,140)" fill-opacity="0.95"/>
<rect x="284.75" y="62.94" width="0.4" height="65.06" fill="rgb(125,176,62)" fill-opacity="0.45"/>
<path d="M283.95 128L284.65 98.13L285.25 98.13L285.95 128Z" fill="rgb(120,170,55)" fill-opacity="0.55"/>
<rect x="285.65" y="96.69" width="1.2" height="31.31" fill="rgb(178,214,140)" fill-opacity="0.95"/>
<rect x="286.05" y="97.31" width="0.4" height="30.69" fill="rgb(125,176,62)" fill-opacity="0.45"/>
<path d="M285.25 128L285.95 113.91L286.55 113.91L287.25 128Z" fill="rgb(120,170,55)" fill-opacity="0.55"/>
<rect x="287.06" y="95.9" width="1.2" height="32.1" fill="rgb(178,214,140)" fill-opacity="0.95"/>
<rect x="287.46" y="96.54" width="0.4" height="31.46" fill="rgb(125,176,62)" fill-opacity="0.45"/>
<path d="M286.66 128L287.36 113.56L287.96 113.56L288.66 128Z" fill="rgb(120,170,55)" fill-opacity="0.55"/>
<path d="M291.78 128L292.33 122.99L293.03 122.99L293.58 128Z" fill="rgb(150,196,100)" fill-opacity="0.85"/>
<path d="M292.23 128L292.53 122.99L292.83 122.99L293.13 128Z" fill="rgb(110,160,45)" fill-opacity="0.8"/>
<path d="M294.59 128L295.14 122.99L295.84 122.99L296.39 128Z" fill="rgb(150,196,100)" fill-opacity="0.85"/>
<path d="M295.04 128L295.34 122.99L295.64 122.99L295.94 128Z" fill="rgb(110,160,45)" fill-opacity="0.8"/>
<path d="M296.49 128L297.04 125.03L297.74 125.03L298.29 128Z" fill="rgb(150,196,100)" fill-opacity="0.85"/>
<path d="M296.94 128L297.24 125.03L297.54 125.03L297.84 128Z" fill="rgb(110,160,45)" fill-opacity="0.8"/>
<path d="M301.91 128L302.46 124.71L303.16 124.71L303.71 128Z" fill="rgb(150,196,100)" fill-opacity="0.85"/>
<path d="M302.36 128L302.66 124.71L302.96 124.71L303.26 128Z" fill="rgb(110,160,45)" fill-opacity="0.8"/>
<path d="M305.83 128L306.38 110.93L307.08 110.93L307.63 128Z" fill="rgb(150,196,100)" fill-opacity="0.85"/>
<path d="M306.28 128L306.58 110.93L306.88 110.93L307.18 128Z" fill="rgb(110,160,45)" fill-opacity="0.8"/>
<path d="M310.74 128L311.29 104.83L311.99 104.83L312.54 128Z" fill="rgb(150,196,100)" fill-opacity="0.85"/>
<path d="M311.19 128L311.49 104.83L311.79 104.83L312.09 128Z" fill="rgb(110,160,45)" fill-opacity="0.8"/>
<path d="M314.46 128L315.01 125.96L315.71 125.96L316.26 128Z" fill="rgb(150,196,100)" fill-opacity="0.85"/>
<path d="M314.91 128L315.21 125.96L315.51 125.96L315.81 128Z" fill="rgb(110,160,45)" fill-opacity="0.8"/>
<path d="M318.37 128L318.92 124.01L319.62 124.01L320.17 128Z" fill="rgb(150,196,100)" fill-opacity="0.85"/>
<path d="M318.82 128L319.12 124.01L319.42 124.01L319.72 128Z" fill="rgb(110,160,45)" fill-opacity="0.8"/>
<path d="M320.88 128L321.43 126.04L322.13 126.04L322.68 128Z" fill="rgb(150,196,100)" fill-opacity="0.85"/>
<path d="M321.33 128L321.63 126.04L321.93 126.04L322.23 128Z" fill="rgb(110,160,45)" fill-opacity="0.8"/>
<path d="M326.3 128L326.85 127.22L327.55 127.22L328.1 128Z" fill="rgb(150,196,100)" fill-opacity="0.85"/>
<path d="M326.75 128L327.05 127.22L327.35 127.22L327.65 128Z" fill="rgb(110,160,45)" fill-opacity="0.8"/>
<path d="M333.82 128L334.37 127.22L335.07 127.22L335.62 128Z" fill="rgb(150,196,100)" fill-opacity="0.85"/>
<path d="M334.27 128L334.57 127.22L334.87 127.22L335.17 128Z" fill="rgb(110,160,45)" fill-opacity="0.8"/>
<path d="M344.16 128L344.71 126.43L345.41 126.43L345.96 128Z" fill="rgb(150,196,100)" fill-opacity="0.85"/>
<path d="M344.61 128L344.91 126.43L345.21 126.43L345.51 128Z" fill="rgb(110,160,45)" fill-opacity="0.8"/>
<path d="M346.87 128L347.42 115.08L348.12 115.08L348.67 128Z" fill="rgb(150,196,100)" fill-opacity="0.85"/>
<path d="M347.32 128L347.62 115.08L347.92 115.08L348.22 128Z" fill="rgb(110,160,45)" fill-opacity="0.8"/>
<path d="M352.39 128L352.94 125.26L353.64 125.26L354.19 128Z" fill="rgb(150,196,100)" fill-opacity="0.85"/>
<path d="M352.84 128L353.14 125.26L353.44 125.26L353.74 128Z" fill="rgb(110,160,45)" fill-opacity="0.8"/>
<path d="M355.1 128L355.65 121.74L356.35 121.74L356.9 128Z" fill="rgb(150,196,100)" fill-opacity="0.85"/>
<path d="M355.55 128L355.85 121.74L356.15 121.74L356.45 128Z" fill="rgb(110,160,45)" fill-opacity="0.8"/>
<rect x="213.8" y="126.04" width="73.76" height="1.96" fill="rgb(180,150,70)" fill-opacity="0.2"/>
<path d="M212.8 128L213.25 122.39L213.55 122.39L214 128Z" fill="rgb(225,150,40)" fill-opacity="0.6"/>
<path d="M213.7 128L214.15 122.52L214.45 122.52L214.9 128Z" fill="rgb(217,83,25)" fill-opacity="0.6"/>
<path d="M214.5 128L214.95 122.82L215.25 122.82L215.7 128Z" fill="rgb(225,150,40)" fill-opacity="0.6"/>
<path d="M214.2 128L214.65 123.18L214.95 123.18L215.4 128Z" fill="rgb(217,83,25)" fill-opacity="0.6"/>
<path d="M215.11 128L215.56 121.06L215.86 121.06L216.31 128Z" fill="rgb(225,150,40)" fill-opacity="0.6"/>
<path d="M215.91 128L216.36 120.7L216.66 120.7L217.11 128Z" fill="rgb(225,150,40)" fill-opacity="0.6"/>
<path d="M219.32 128L219.77 125.83L220.07 125.83L220.52 128Z" fill="rgb(217,83,25)" fill-opacity="0.6"/>
<path d="M220.22 128L220.67 123.22L220.97 123.22L221.42 128Z" fill="rgb(225,150,40)" fill-opacity="0.6"/>
<path d="M221.03 128L221.48 123.32L221.78 123.32L222.23 128Z" fill="rgb(217,83,25)" fill-opacity="0.6"/>
<path d="M224.44 128L224.89 120.07L225.19 120.07L225.64 128Z" fill="rgb(217,83,25)" fill-opacity="0.6"/>
<path d="M225.34 128L225.79 124.54L226.09 124.54L226.54 128Z" fill="rgb(217,83,25)" fill-opacity="0.6"/>
<path d="M226.15 128L226.6 122.73L226.9 122.73L227.35 128Z" fill="rgb(200,120,30)" fill-opacity="0.6"/>
<path d="M229.56 128L230.01 123.09L230.31 123.09L230.76 128Z" fill="rgb(237,177,32)" fill-opacity="0.6"/>
<path d="M230.46 128L230.91 120.56L231.21 120.56L231.66 128Z" fill="rgb(225,150,40)" fill-opacity="0.6"/>
<path d="M231.26 128L231.71 123.67L232.01 123.67L232.46 128Z" fill="rgb(225,150,40)" fill-opacity="0.6"/>
<path d="M233.97 128L234.42 123.7L234.72 123.7L235.17 128Z" fill="rgb(200,120,30)" fill-opacity="0.6"/>
<path d="M234.88 128L235.33 120.7L235.63 120.7L236.08 128Z" fill="rgb(217,83,25)" fill-opacity="0.6"/>
<path d="M235.68 128L236.13 125.09L236.43 125.09L236.88 128Z" fill="rgb(217,83,25)" fill-opacity="0.6"/>
<path d="M238.69 128L239.14 125.97L239.44 125.97L239.89 128Z" fill="rgb(200,120,30)" fill-opacity="0.6"/>
<path d="M239.59 128L240.04 120.43L240.34 120.43L240.79 128Z" fill="rgb(237,177,32)" fill-opacity="0.6"/>
<path d="M240.4 128L240.85 121.24L241.15 121.24L241.6 128Z" fill="rgb(237,177,32)" fill-opacity="0.6"/>
<path d="M242.9 128L243.35 122.89L243.65 122.89L244.1 128Z" fill="rgb(237,177,32)" fill-opacity="0.6"/>
<path d="M243.81 128L244.26 119.1L244.56 119.1L245.01 128Z" fill="rgb(237,177,32)" fill-opacity="0.6"/>
<path d="M244.61 128L245.06 123.09L245.36 123.09L245.81 128Z" fill="rgb(200,120,30)" fill-opacity="0.6"/>
<path d="M247.02 128L247.47 125.22L247.77 125.22L248.22 128Z" fill="rgb(200,120,30)" fill-opacity="0.6"/>
<path d="M247.92 128L248.37 119.07L248.67 119.07L249.12 128Z" fill="rgb(217,83,25)" fill-opacity="0.6"/>
<path d="M248.72 128L249.17 124.14L249.47 124.14L249.92 128Z" fill="rgb(225,150,40)" fill-opacity="0.6"/>
<path d="M251.23 128L251.68 119.01L251.98 119.01L252.43 128Z" fill="rgb(217,83,25)" fill-opacity="0.6"/>
<path d="M252.14 128L252.59 124.56L252.89 124.56L253.34 128Z" fill="rgb(200,120,30)" fill-opacity="0.6"/>
<path d="M252.94 128L253.39 119.03L253.69 119.03L254.14 128Z" fill="rgb(217,83,25)" fill-opacity="0.6"/>
<path d="M254.85 128L255.3 125.75L255.6 125.75L256.05 128Z" fill="rgb(237,177,32)" fill-opacity="0.6"/>
<path d="M255.75 128L256.2 124.54L256.5 124.54L256.95 128Z" fill="rgb(225,150,40)" fill-opacity="0.6"/>
<path d="M256.55 128L257 125.98L257.3 125.98L257.75 128Z" fill="rgb(225,150,40)" fill-opacity="0.6"/>
<path d="M258.56 128L259.01 120.19L259.31 120.19L259.76 128Z" fill="rgb(200,120,30)" fill-opacity="0.6"/>
<path d="M259.46 128L259.91 125.53L260.21 125.53L260.66 128Z" fill="rgb(217,83,25)" fill-opacity="0.6"/>
<path d="M260.27 128L260.72 124.57L261.02 124.57L261.47 128Z" fill="rgb(237,177,32)" fill-opacity="0.6"/>
<path d="M264.98 128L265.43 125.93L265.73 125.93L266.18 128Z" fill="rgb(225,150,40)" fill-opacity="0.6"/>
<path d="M265.72 128L266.17 123.42L266.47 123.42L266.92 128Z" fill="rgb(200,120,30)" fill-opacity="0.6"/>
<path d="M266.49 128L266.94 125.15L267.24 125.15L267.69 128Z" fill="rgb(200,120,30)" fill-opacity="0.6"/>
<path d="M267.41 128L267.86 120.18L268.16 120.18L268.61 128Z" fill="rgb(237,177,32)" fill-opacity="0.6"/>
<path d="M268.15 128L268.6 119.94L268.9 119.94L269.35 128Z" fill="rgb(237,177,32)" fill-opacity="0.6"/>
<path d="M268.91 128L269.36 121.62L269.66 121.62L270.11 128Z" fill="rgb(225,150,40)" fill-opacity="0.6"/>
<path d="M269.7 128L270.15 119.64L270.45 119.64L270.9 128Z" fill="rgb(237,177,32)" fill-opacity="0.6"/>
<path d="M270.32 128L270.77 120.93L271.07 120.93L271.52 128Z" fill="rgb(237,177,32)" fill-opacity="0.6"/>
<path d="M271.08 128L271.53 120.83L271.83 120.83L272.28 128Z" fill="rgb(237,177,32)" fill-opacity="0.6"/>
<path d="M271.89 128L272.34 121.2L272.64 121.2L273.09 128Z" fill="rgb(200,120,30)" fill-opacity="0.6"/>
<path d="M272.76 128L273.21 119.83L273.51 119.83L273.96 128Z" fill="rgb(217,83,25)" fill-opacity="0.6"/>
<path d="M273.35 128L273.8 123.07L274.1 123.07L274.55 128Z" fill="rgb(217,83,25)" fill-opacity="0.6"/>
<path d="M274.02 128L274.47 125.27L274.77 125.27L275.22 128Z" fill="rgb(225,150,40)" fill-opacity="0.6"/>
<path d="M274.61 128L275.06 124.36L275.36 124.36L275.81 128Z" fill="rgb(200,120,30)" fill-opacity="0.6"/>
<path d="M275.48 128L275.93 124.23L276.23 124.23L276.68 128Z" fill="rgb(200,120,30)" fill-opacity="0.6"/>
<path d="M276.31 128L276.76 123.98L277.06 123.98L277.51 128Z" fill="rgb(237,177,32)" fill-opacity="0.6"/>
<path d="M276.88 128L277.33 119.5L277.63 119.5L278.08 128Z" fill="rgb(217,83,25)" fill-opacity="0.6"/>
<path d="M277.83 128L278.28 125.15L278.58 125.15L279.03 128Z" fill="rgb(200,120,30)" fill-opacity="0.6"/>
<path d="M278.77 128L279.22 122.1L279.52 122.1L279.97 128Z" fill="rgb(217,83,25)" fill-opacity="0.6"/>
<path d="M279.58 128L280.03 124.07L280.33 124.07L280.78 128Z" fill="rgb(237,177,32)" fill-opacity="0.6"/>
<path d="M280.38 128L280.83 120.77L281.13 120.77L281.58 128Z" fill="rgb(217,83,25)" fill-opacity="0.6"/>
<path d="M281 128L281.45 124.15L281.75 124.15L282.2 128Z" fill="rgb(200,120,30)" fill-opacity="0.6"/>
<path d="M281.56 128L282.01 124.29L282.31 124.29L282.76 128Z" fill="rgb(217,83,25)" fill-opacity="0.6"/>
<path d="M282.32 128L282.77 124.8L283.07 124.8L283.52 128Z" fill="rgb(225,150,40)" fill-opacity="0.6"/>
<path d="M282.9 128L283.35 122.3L283.65 122.3L284.1 128Z" fill="rgb(237,177,32)" fill-opacity="0.6"/>
<path d="M283.52 128L283.97 125.39L284.27 125.39L284.72 128Z" fill="rgb(237,177,32)" fill-opacity="0.6"/>
<path d="M284.17 128L284.62 119.77L284.92 119.77L285.37 128Z" fill="rgb(225,150,40)" fill-opacity="0.6"/>
<path d="M284.74 128L285.19 121.41L285.49 121.41L285.94 128Z" fill="rgb(237,177,32)" fill-opacity="0.6"/>
<path d="M285.47 128L285.92 121.89L286.22 121.89L286.67 128Z" fill="rgb(217,83,25)" fill-opacity="0.6"/>
<path d="M286.2 128L286.65 122.7L286.95 122.7L287.4 128Z" fill="rgb(225,150,40)" fill-opacity="0.6"/>
<rect x="264.65" y="122.64" width="0.8" height="4.97" fill="rgb(0,114,189)" fill-opacity="0.4"/>
<rect x="216.9" y="123.66" width="0.8" height="3.95" fill="rgb(0,114,189)" fill-opacity="0.4"/>
<rect x="249.28" y="123.36" width="0.8" height="4.24" fill="rgb(0,114,189)" fill-opacity="0.4"/>
<rect x="237.81" y="122.52" width="0.8" height="5.09" fill="rgb(0,114,189)" fill-opacity="0.4"/>
<rect x="226.16" y="119.17" width="1" height="6.48" fill="rgb(126,47,142)" fill-opacity="0.35"/>
<rect x="268.66" y="117.51" width="1" height="8.14" fill="rgb(126,47,142)" fill-opacity="0.35"/>
<rect x="268.67" y="118.43" width="1" height="7.22" fill="rgb(126,47,142)" fill-opacity="0.35"/>
<rect x="272.28" y="117.44" width="1" height="8.21" fill="rgb(126,47,142)" fill-opacity="0.35"/>
<rect x="243.92" y="118.52" width="1" height="7.13" fill="rgb(126,47,142)" fill-opacity="0.35"/>
<rect x="279.18" y="117.65" width="1" height="8.01" fill="rgb(126,47,142)" fill-opacity="0.35"/>
<rect x="248.12" y="118.02" width="1" height="7.63" fill="rgb(126,47,142)" fill-opacity="0.35"/>
<rect x="276.79" y="119.05" width="1" height="6.6" fill="rgb(126,47,142)" fill-opacity="0.35"/>
<line x1="213.8" y1="127.3" x2="356.2" y2="127.3" stroke="rgb(185,170,90)" stroke-width="0.9"/>
</g>
<rect x="213.8" y="18.4" width="142.4" height="109.6" fill="none" stroke="#8e8e8e" stroke-width="0.85"/>
<g stroke="#999" stroke-width="0.7"><line x1="225.14" y1="128" x2="225.14" y2="126.6"/><line x1="225.14" y1="18.4" x2="225.14" y2="19.8"/><line x1="252.64" y1="128" x2="252.64" y2="126.6"/><line x1="252.64" y1="18.4" x2="252.64" y2="19.8"/><line x1="279.43" y1="128" x2="279.43" y2="126.6"/><line x1="279.43" y1="18.4" x2="279.43" y2="19.8"/><line x1="306.53" y1="128" x2="306.53" y2="126.6"/><line x1="306.53" y1="18.4" x2="306.53" y2="19.8"/><line x1="334.42" y1="128" x2="334.42" y2="126.6"/><line x1="334.42" y1="18.4" x2="334.42" y2="19.8"/><line x1="213.8" y1="128" x2="215.2" y2="128"/><line x1="356.2" y1="128" x2="354.8" y2="128"/><line x1="213.8" y1="112.34" x2="215.2" y2="112.34"/><line x1="356.2" y1="112.34" x2="354.8" y2="112.34"/><line x1="213.8" y1="96.69" x2="215.2" y2="96.69"/><line x1="356.2" y1="96.69" x2="354.8" y2="96.69"/><line x1="213.8" y1="81.03" x2="215.2" y2="81.03"/><line x1="356.2" y1="81.03" x2="354.8" y2="81.03"/><line x1="213.8" y1="65.37" x2="215.2" y2="65.37"/><line x1="356.2" y1="65.37" x2="354.8" y2="65.37"/><line x1="213.8" y1="49.71" x2="215.2" y2="49.71"/><line x1="356.2" y1="49.71" x2="354.8" y2="49.71"/><line x1="213.8" y1="34.06" x2="215.2" y2="34.06"/><line x1="356.2" y1="34.06" x2="354.8" y2="34.06"/><line x1="213.8" y1="18.4" x2="215.2" y2="18.4"/><line x1="356.2" y1="18.4" x2="354.8" y2="18.4"/></g>
<g font-family="Liberation Serif, serif" font-size="5.8" fill="#3a3a3a" stroke="#3a3a3a" stroke-width="0.08"><text x="225.14" y="135.8" text-anchor="middle">1.305</text><text x="252.64" y="135.8" text-anchor="middle">1.31</text><text x="279.43" y="135.8" text-anchor="middle">1.315</text><text x="306.53" y="135.8" text-anchor="middle">1.32</text><text x="334.42" y="135.8" text-anchor="middle">1.325</text><text x="211.6" y="129.9" text-anchor="end">0</text><text x="211.6" y="114.24" text-anchor="end">20</text><text x="211.6" y="98.59" text-anchor="end">40</text><text x="211.6" y="82.93" text-anchor="end">60</text><text x="211.6" y="67.27" text-anchor="end">80</text><text x="211.6" y="51.61" text-anchor="end">100</text><text x="211.6" y="35.96" text-anchor="end">120</text><text x="211.6" y="20.3" text-anchor="end">140</text></g>
<text x="344.2" y="142.9" font-family="Liberation Serif, serif" font-size="6" fill="#3a3a3a" stroke="#3a3a3a" stroke-width="0.08">×10<tspan dy="-2.6" font-size="4.2">4</tspan></text>
<g font-family="Liberation Serif, serif" fill="#3a3a3a" stroke="#3a3a3a" stroke-width="0.04"><text x="254.95" y="144.1" font-size="7.25">Wavenumber</text><text x="297.4" y="144.1" font-size="7.5" font-style="italic">/cm</text><text x="309" y="141" font-size="5.2">−1</text></g>
<text transform="translate(200.2 72.7) rotate(-90)" text-anchor="middle" font-family="Liberation Serif, serif" font-size="7" fill="#2a2a2a" stroke="#2a2a2a" stroke-width="0.07">Relative Error (RE) /%</text>
<text x="283.8" y="12.6" text-anchor="middle" font-family="Liberation Sans, Arial, sans-serif" font-size="8.2" fill="#111" stroke="#111" stroke-width="0.12">(b) O<tspan dy="3.0" font-size="6.2">2</tspan><tspan dy="-3.0">-A Band FWHM error 5%</tspan></text>
<g font-family="Liberation Serif, serif" font-size="5.78" fill="#000" stroke="#000" stroke-width="0.03"><line x1="276.1" y1="27.3" x2="293.5" y2="27.3" stroke="rgb(140,196,234)" stroke-width="1"/><text x="295.5" y="29.6">1% wavenumber error</text><line x1="276.1" y1="34.4" x2="293.5" y2="34.4" stroke="rgb(243,166,142)" stroke-width="1"/><text x="295.5" y="36.7">5% wavenumber error</text><line x1="276.1" y1="41.5" x2="293.5" y2="41.5" stroke="rgb(250,220,160)" stroke-width="1"/><text x="295.5" y="43.8">10% wavenumber error</text><line x1="276.1" y1="48.6" x2="293.5" y2="48.6" stroke="rgb(208,176,223)" stroke-width="1"/><text x="295.5" y="50.9">30% wavenumber error</text><line x1="276.1" y1="55.7" x2="293.5" y2="55.7" stroke="rgb(198,222,175)" stroke-width="1"/><text x="295.5" y="58">60% wavenumber error</text></g>
<clipPath id="c2"><rect x="401.4" y="18.4" width="142" height="109.6"/></clipPath>
<g clip-path="url(#c2)" filter="url(#bl)">
<rect x="452.84" y="95.12" width="22.02" height="32.88" fill="url(#gb)" fill-opacity="0.7"/>
<path d="M452.04 128L452.74 102.75L453.34 102.75L454.04 128Z" fill="rgb(130,180,70)" fill-opacity="0.55"/>
<path d="M452.61 128L453.31 91.49L453.91 91.49L454.61 128Z" fill="rgb(130,180,70)" fill-opacity="0.55"/>
<path d="M453.15 128L453.85 95.45L454.45 95.45L455.15 128Z" fill="rgb(130,180,70)" fill-opacity="0.55"/>
<path d="M453.83 128L454.53 111.91L455.13 111.91L455.83 128Z" fill="rgb(130,180,70)" fill-opacity="0.55"/>
<path d="M454.59 128L455.29 112.62L455.89 112.62L456.59 128Z" fill="rgb(130,180,70)" fill-opacity="0.55"/>
<path d="M455.3 128L456 111.5L456.6 111.5L457.3 128Z" fill="rgb(130,180,70)" fill-opacity="0.55"/>
<path d="M455.85 128L456.55 99.29L457.15 99.29L457.85 128Z" fill="rgb(130,180,70)" fill-opacity="0.55"/>
<path d="M456.76 128L457.46 109.64L458.06 109.64L458.76 128Z" fill="rgb(130,180,70)" fill-opacity="0.55"/>
<path d="M457.38 128L458.08 92.3L458.68 92.3L459.38 128Z" fill="rgb(130,180,70)" fill-opacity="0.55"/>
<path d="M458.35 128L459.05 94.03L459.65 94.03L460.35 128Z" fill="rgb(130,180,70)" fill-opacity="0.55"/>
<path d="M459.05 128L459.75 80.28L460.35 80.28L461.05 128Z" fill="rgb(130,180,70)" fill-opacity="0.55"/>
<path d="M459.57 128L460.27 84.34L460.87 84.34L461.57 128Z" fill="rgb(130,180,70)" fill-opacity="0.55"/>
<path d="M460.22 128L460.92 108.94L461.52 108.94L462.22 128Z" fill="rgb(130,180,70)" fill-opacity="0.55"/>
<path d="M460.78 128L461.48 103.28L462.08 103.28L462.78 128Z" fill="rgb(130,180,70)" fill-opacity="0.55"/>
<path d="M461.69 128L462.39 107.68L462.99 107.68L463.69 128Z" fill="rgb(130,180,70)" fill-opacity="0.55"/>
<path d="M462.48 128L463.18 91.9L463.78 91.9L464.48 128Z" fill="rgb(130,180,70)" fill-opacity="0.55"/>
<path d="M463.16 128L463.86 95.04L464.46 95.04L465.16 128Z" fill="rgb(130,180,70)" fill-opacity="0.55"/>
<path d="M463.7 128L464.4 111.86L465 111.86L465.7 128Z" fill="rgb(130,180,70)" fill-opacity="0.55"/>
<path d="M464.3 128L465 90.47L465.6 90.47L466.3 128Z" fill="rgb(130,180,70)" fill-opacity="0.55"/>
<path d="M465.01 128L465.71 103.09L466.31 103.09L467.01 128Z" fill="rgb(130,180,70)" fill-opacity="0.55"/>
<path d="M465.81 128L466.51 98.3L467.11 98.3L467.81 128Z" fill="rgb(130,180,70)" fill-opacity="0.55"/>
<path d="M466.46 128L467.16 86.55L467.76 86.55L468.46 128Z" fill="rgb(130,180,70)" fill-opacity="0.55"/>
<path d="M467.31 128L468.01 105.5L468.61 105.5L469.31 128Z" fill="rgb(130,180,70)" fill-opacity="0.55"/>
<path d="M468.09 128L468.79 95.82L469.39 95.82L470.09 128Z" fill="rgb(130,180,70)" fill-opacity="0.55"/>
<path d="M469.03 128L469.73 88.78L470.33 88.78L471.03 128Z" fill="rgb(130,180,70)" fill-opacity="0.55"/>
<path d="M469.68 128L470.38 80.15L470.98 80.15L471.68 128Z" fill="rgb(130,180,70)" fill-opacity="0.55"/>
<path d="M470.24 128L470.94 99.51L471.54 99.51L472.24 128Z" fill="rgb(130,180,70)" fill-opacity="0.55"/>
<path d="M471.12 128L471.82 108.67L472.42 108.67L473.12 128Z" fill="rgb(130,180,70)" fill-opacity="0.55"/>
<path d="M471.86 128L472.56 112.56L473.16 112.56L473.86 128Z" fill="rgb(130,180,70)" fill-opacity="0.55"/>
<path d="M472.7 128L473.4 87.57L474 87.57L474.7 128Z" fill="rgb(130,180,70)" fill-opacity="0.55"/>
<path d="M473.48 128L474.18 83.75L474.78 83.75L475.48 128Z" fill="rgb(130,180,70)" fill-opacity="0.55"/>
<rect x="452.99" y="95.91" width="0.9" height="32.09" fill="rgb(100,145,45)" fill-opacity="0.6"/>
<rect x="454.46" y="97.99" width="0.9" height="30.01" fill="rgb(100,145,45)" fill-opacity="0.6"/>
<rect x="455.83" y="93.3" width="0.9" height="34.7" fill="rgb(100,145,45)" fill-opacity="0.6"/>
<rect x="457.59" y="99.89" width="0.9" height="28.11" fill="rgb(100,145,45)" fill-opacity="0.6"/>
<rect x="459.12" y="107.34" width="0.9" height="20.66" fill="rgb(100,145,45)" fill-opacity="0.6"/>
<rect x="460.68" y="96.78" width="0.9" height="31.22" fill="rgb(100,145,45)" fill-opacity="0.6"/>
<rect x="462.48" y="93.63" width="0.9" height="34.37" fill="rgb(100,145,45)" fill-opacity="0.6"/>
<rect x="463.71" y="101.48" width="0.9" height="26.52" fill="rgb(100,145,45)" fill-opacity="0.6"/>
<rect x="465.24" y="108.02" width="0.9" height="19.98" fill="rgb(100,145,45)" fill-opacity="0.6"/>
<rect x="466.61" y="105.4" width="0.9" height="22.6" fill="rgb(100,145,45)" fill-opacity="0.6"/>
<rect x="467.71" y="107.37" width="0.9" height="20.63" fill="rgb(100,145,45)" fill-opacity="0.6"/>
<rect x="469.32" y="106.1" width="0.9" height="21.9" fill="rgb(100,145,45)" fill-opacity="0.6"/>
<rect x="470.52" y="101.39" width="0.9" height="26.61" fill="rgb(100,145,45)" fill-opacity="0.6"/>
<rect x="472.22" y="106.98" width="0.9" height="21.02" fill="rgb(100,145,45)" fill-opacity="0.6"/>
<rect x="473.58" y="98.54" width="0.9" height="29.46" fill="rgb(100,145,45)" fill-opacity="0.6"/>
<rect x="452.84" y="113.91" width="21.92" height="14.09" fill="rgb(105,150,45)" fill-opacity="0.35"/>
<path d="M453.94 128L454.49 88.86L455.39 88.86L455.94 128Z" fill="url(#gb)" fill-opacity="1"/>
<path d="M457.04 128L457.59 87.29L458.49 87.29L459.04 128Z" fill="url(#gb)" fill-opacity="1"/>
<path d="M460.44 128L460.99 91.99L461.89 91.99L462.44 128Z" fill="url(#gb)" fill-opacity="1"/>
<path d="M462.44 128L462.99 96.69L463.89 96.69L464.44 128Z" fill="url(#gb)" fill-opacity="1"/>
<path d="M465.05 128L465.6 93.55L466.5 93.55L467.05 128Z" fill="url(#gb)" fill-opacity="1"/>
<path d="M467.45 128L468 88.86L468.9 88.86L469.45 128Z" fill="url(#gb)" fill-opacity="1"/>
<path d="M469.85 128L470.4 84.94L471.3 84.94L471.85 128Z" fill="url(#gb)" fill-opacity="1"/>
<path d="M471.45 128L472 90.42L472.9 90.42L473.45 128Z" fill="url(#gb)" fill-opacity="1"/>
<rect x="401.6" y="92.77" width="1.2" height="35.23" fill="rgb(168,207,125)" fill-opacity="0.95"/>
<rect x="402" y="93.48" width="0.4" height="34.52" fill="rgb(120,172,55)" fill-opacity="0.5"/>
<rect x="400.8" y="107.65" width="2.15" height="20.35" fill="url(#gb)"/>
<rect x="401.2" y="110.7" width="1.4" height="17.3" fill="url(#gc)"/>
<rect x="403" y="72.03" width="1.2" height="55.97" fill="rgb(168,207,125)" fill-opacity="0.95"/>
<rect x="403.4" y="73.15" width="0.4" height="54.85" fill="rgb(120,172,55)" fill-opacity="0.5"/>
<rect x="402.2" y="102.25" width="2.15" height="25.75" fill="url(#gb)"/>
<rect x="402.6" y="106.11" width="1.4" height="21.89" fill="url(#gc)"/>
<rect x="408.11" y="70.62" width="1.2" height="57.38" fill="rgb(168,207,125)" fill-opacity="0.95"/>
<rect x="408.51" y="71.76" width="0.4" height="56.24" fill="rgb(120,172,55)" fill-opacity="0.5"/>
<rect x="407.31" y="101.6" width="2.15" height="26.4" fill="url(#gb)"/>
<rect x="407.71" y="105.56" width="1.4" height="22.44" fill="url(#gc)"/>
<rect x="413.21" y="56.76" width="1.2" height="71.24" fill="rgb(168,207,125)" fill-opacity="0.95"/>
<rect x="413.61" y="58.18" width="0.4" height="69.82" fill="rgb(120,172,55)" fill-opacity="0.5"/>
<rect x="412.41" y="95.23" width="2.15" height="32.77" fill="url(#gb)"/>
<rect x="412.81" y="100.15" width="1.4" height="27.85" fill="url(#gc)"/>
<rect x="418.31" y="42.67" width="1.2" height="85.33" fill="rgb(168,207,125)" fill-opacity="0.95"/>
<rect x="418.71" y="44.38" width="0.4" height="83.62" fill="rgb(120,172,55)" fill-opacity="0.5"/>
<rect x="417.51" y="88.75" width="2.15" height="39.25" fill="url(#gb)"/>
<rect x="417.91" y="94.64" width="1.4" height="33.36" fill="url(#gc)"/>
<rect x="422.72" y="74.53" width="1.2" height="53.47" fill="rgb(168,207,125)" fill-opacity="0.95"/>
<rect x="423.12" y="75.6" width="0.4" height="52.4" fill="rgb(120,172,55)" fill-opacity="0.5"/>
<rect x="421.92" y="103.4" width="2.15" height="24.6" fill="url(#gb)"/>
<rect x="422.32" y="107.09" width="1.4" height="20.91" fill="url(#gc)"/>
<rect x="427.42" y="55.98" width="1.2" height="72.02" fill="rgb(168,207,125)" fill-opacity="0.95"/>
<rect x="427.82" y="57.42" width="0.4" height="70.58" fill="rgb(120,172,55)" fill-opacity="0.5"/>
<rect x="426.62" y="94.87" width="2.15" height="33.13" fill="url(#gb)"/>
<rect x="427.02" y="99.84" width="1.4" height="28.16" fill="url(#gc)"/>
<rect x="431.62" y="35.23" width="1.2" height="92.77" fill="rgb(168,207,125)" fill-opacity="0.95"/>
<rect x="432.02" y="37.09" width="0.4" height="90.91" fill="rgb(120,172,55)" fill-opacity="0.5"/>
<rect x="430.82" y="85.33" width="2.15" height="42.67" fill="url(#gb)"/>
<rect x="431.22" y="91.73" width="1.4" height="36.27" fill="url(#gc)"/>
<rect x="435.72" y="28.03" width="1.2" height="99.97" fill="rgb(168,207,125)" fill-opacity="0.95"/>
<rect x="436.12" y="30.03" width="0.4" height="97.97" fill="rgb(120,172,55)" fill-opacity="0.5"/>
<rect x="434.92" y="82.59" width="2.15" height="45.41" fill="url(#gb)"/>
<rect x="435.32" y="89.41" width="1.4" height="38.59" fill="url(#gc)"/>
<rect x="439.93" y="65.61" width="1.2" height="62.39" fill="rgb(168,207,125)" fill-opacity="0.95"/>
<rect x="440.33" y="66.85" width="0.4" height="61.15" fill="rgb(120,172,55)" fill-opacity="0.5"/>
<rect x="439.13" y="99.3" width="2.15" height="28.7" fill="url(#gb)"/>
<rect x="439.53" y="103.6" width="1.4" height="24.4" fill="url(#gc)"/>
<rect x="443.53" y="34.06" width="1.2" height="93.94" fill="rgb(168,207,125)" fill-opacity="0.95"/>
<rect x="443.93" y="35.94" width="0.4" height="92.06" fill="rgb(120,172,55)" fill-opacity="0.5"/>
<rect x="442.73" y="84.79" width="2.15" height="43.21" fill="url(#gb)"/>
<rect x="443.13" y="91.27" width="1.4" height="36.73" fill="url(#gc)"/>
<rect x="447.23" y="37.19" width="1.2" height="90.81" fill="rgb(168,207,125)" fill-opacity="0.95"/>
<rect x="447.63" y="39" width="0.4" height="89" fill="rgb(120,172,55)" fill-opacity="0.5"/>
<rect x="446.43" y="86.23" width="2.15" height="41.77" fill="url(#gb)"/>
<rect x="446.83" y="92.49" width="1.4" height="35.51" fill="url(#gc)"/>
<rect x="435.47" y="63.81" width="0.9" height="64.19" fill="rgb(165,206,120)" fill-opacity="0.75"/>
<rect x="446.48" y="56.99" width="0.9" height="71.01" fill="rgb(165,206,120)" fill-opacity="0.75"/>
<rect x="449.18" y="55.27" width="0.9" height="72.73" fill="rgb(165,206,120)" fill-opacity="0.75"/>
<rect x="412.76" y="88.86" width="0.9" height="39.14" fill="rgb(165,206,120)" fill-opacity="0.75"/>
<rect x="417.86" y="84.94" width="0.9" height="43.06" fill="rgb(165,206,120)" fill-opacity="0.75"/>
<rect x="426.97" y="92.77" width="0.9" height="35.23" fill="rgb(165,206,120)" fill-opacity="0.75"/>
<rect x="431.17" y="81.03" width="0.9" height="46.97" fill="rgb(165,206,120)" fill-opacity="0.75"/>
<rect x="439.48" y="92.77" width="0.9" height="35.23" fill="rgb(165,206,120)" fill-opacity="0.75"/>
<rect x="443.08" y="82.59" width="0.9" height="45.41" fill="rgb(165,206,120)" fill-opacity="0.75"/>
<rect x="453.44" y="84.94" width="1.2" height="43.06" fill="rgb(178,214,140)" fill-opacity="0.95"/>
<rect x="453.84" y="85.8" width="0.4" height="42.2" fill="rgb(125,176,62)" fill-opacity="0.45"/>
<path d="M453.04 128L453.74 108.62L454.34 108.62L455.04 128Z" fill="rgb(120,170,55)" fill-opacity="0.55"/>
<rect x="454.84" y="45.8" width="1.2" height="82.2" fill="rgb(178,214,140)" fill-opacity="0.95"/>
<rect x="455.24" y="47.44" width="0.4" height="80.56" fill="rgb(125,176,62)" fill-opacity="0.45"/>
<path d="M454.44 128L455.14 91.01L455.74 91.01L456.44 128Z" fill="rgb(120,170,55)" fill-opacity="0.55"/>
<rect x="457.94" y="48.93" width="1.2" height="79.07" fill="rgb(178,214,140)" fill-opacity="0.95"/>
<rect x="458.34" y="50.51" width="0.4" height="77.49" fill="rgb(125,176,62)" fill-opacity="0.45"/>
<path d="M457.54 128L458.24 92.42L458.84 92.42L459.54 128Z" fill="rgb(120,170,55)" fill-opacity="0.55"/>
<rect x="459.84" y="88.86" width="1.2" height="39.14" fill="rgb(178,214,140)" fill-opacity="0.95"/>
<rect x="460.24" y="89.64" width="0.4" height="38.36" fill="rgb(125,176,62)" fill-opacity="0.45"/>
<path d="M459.44 128L460.14 110.39L460.74 110.39L461.44 128Z" fill="rgb(120,170,55)" fill-opacity="0.55"/>
<rect x="461.74" y="69.83" width="1.2" height="58.17" fill="rgb(178,214,140)" fill-opacity="0.95"/>
<rect x="462.14" y="71" width="0.4" height="57" fill="rgb(125,176,62)" fill-opacity="0.45"/>
<path d="M461.34 128L462.04 101.83L462.64 101.83L463.34 128Z" fill="rgb(120,170,55)" fill-opacity="0.55"/>
<rect x="463.54" y="73.98" width="1.2" height="54.02" fill="rgb(178,214,140)" fill-opacity="0.95"/>
<rect x="463.94" y="75.06" width="0.4" height="52.94" fill="rgb(125,176,62)" fill-opacity="0.45"/>
<path d="M463.14 128L463.84 103.69L464.44 103.69L465.14 128Z" fill="rgb(120,170,55)" fill-opacity="0.55"/>
<rect x="464.85" y="92.77" width="1.2" height="35.23" fill="rgb(178,214,140)" fill-opacity="0.95"/>
<rect x="465.25" y="93.48" width="0.4" height="34.52" fill="rgb(125,176,62)" fill-opacity="0.45"/>
<path d="M464.45 128L465.15 112.15L465.75 112.15L466.45 128Z" fill="rgb(120,170,55)" fill-opacity="0.55"/>
<rect x="466.35" y="70.62" width="1.2" height="57.38" fill="rgb(178,214,140)" fill-opacity="0.95"/>
<rect x="466.75" y="71.76" width="0.4" height="56.24" fill="rgb(125,176,62)" fill-opacity="0.45"/>
<path d="M465.95 128L466.65 102.18L467.25 102.18L467.95 128Z" fill="rgb(120,170,55)" fill-opacity="0.55"/>
<rect x="468.15" y="90.42" width="1.2" height="37.58" fill="rgb(178,214,140)" fill-opacity="0.95"/>
<rect x="468.55" y="91.17" width="0.4" height="36.83" fill="rgb(125,176,62)" fill-opacity="0.45"/>
<path d="M467.75 128L468.45 111.09L469.05 111.09L469.75 128Z" fill="rgb(120,170,55)" fill-opacity="0.55"/>
<rect x="470.35" y="19.18" width="1.2" height="108.82" fill="rgb(178,214,140)" fill-opacity="0.95"/>
<rect x="470.75" y="21.36" width="0.4" height="106.64" fill="rgb(125,176,62)" fill-opacity="0.45"/>
<path d="M469.95 128L470.65 79.03L471.25 79.03L471.95 128Z" fill="rgb(120,170,55)" fill-opacity="0.55"/>
<rect x="471.75" y="61.61" width="1.2" height="66.39" fill="rgb(178,214,140)" fill-opacity="0.95"/>
<rect x="472.15" y="62.94" width="0.4" height="65.06" fill="rgb(125,176,62)" fill-opacity="0.45"/>
<path d="M471.35 128L472.05 98.13L472.65 98.13L473.35 128Z" fill="rgb(120,170,55)" fill-opacity="0.55"/>
<rect x="473.05" y="96.69" width="1.2" height="31.31" fill="rgb(178,214,140)" fill-opacity="0.95"/>
<rect x="473.45" y="97.31" width="0.4" height="30.69" fill="rgb(125,176,62)" fill-opacity="0.45"/>
<path d="M472.65 128L473.35 113.91L473.95 113.91L474.65 128Z" fill="rgb(120,170,55)" fill-opacity="0.55"/>
<rect x="474.45" y="95.9" width="1.2" height="32.1" fill="rgb(178,214,140)" fill-opacity="0.95"/>
<rect x="474.85" y="96.54" width="0.4" height="31.46" fill="rgb(125,176,62)" fill-opacity="0.45"/>
<path d="M474.05 128L474.75 113.56L475.35 113.56L476.05 128Z" fill="rgb(120,170,55)" fill-opacity="0.55"/>
<path d="M479.16 128L479.71 122.99L480.41 122.99L480.96 128Z" fill="rgb(150,196,100)" fill-opacity="0.85"/>
<path d="M479.61 128L479.91 122.99L480.21 122.99L480.51 128Z" fill="rgb(110,160,45)" fill-opacity="0.8"/>
<path d="M481.96 128L482.51 122.99L483.21 122.99L483.76 128Z" fill="rgb(150,196,100)" fill-opacity="0.85"/>
<path d="M482.41 128L482.71 122.99L483.01 122.99L483.31 128Z" fill="rgb(110,160,45)" fill-opacity="0.8"/>
<path d="M483.86 128L484.41 125.03L485.11 125.03L485.66 128Z" fill="rgb(150,196,100)" fill-opacity="0.85"/>
<path d="M484.31 128L484.61 125.03L484.91 125.03L485.21 128Z" fill="rgb(110,160,45)" fill-opacity="0.8"/>
<path d="M489.26 128L489.81 124.71L490.51 124.71L491.06 128Z" fill="rgb(150,196,100)" fill-opacity="0.85"/>
<path d="M489.71 128L490.01 124.71L490.31 124.71L490.61 128Z" fill="rgb(110,160,45)" fill-opacity="0.8"/>
<path d="M493.17 128L493.72 110.93L494.42 110.93L494.97 128Z" fill="rgb(150,196,100)" fill-opacity="0.85"/>
<path d="M493.62 128L493.92 110.93L494.22 110.93L494.52 128Z" fill="rgb(110,160,45)" fill-opacity="0.8"/>
<path d="M498.07 128L498.62 104.83L499.32 104.83L499.87 128Z" fill="rgb(150,196,100)" fill-opacity="0.85"/>
<path d="M498.52 128L498.82 104.83L499.12 104.83L499.42 128Z" fill="rgb(110,160,45)" fill-opacity="0.8"/>
<path d="M501.77 128L502.32 125.96L503.02 125.96L503.57 128Z" fill="rgb(150,196,100)" fill-opacity="0.85"/>
<path d="M502.22 128L502.52 125.96L502.82 125.96L503.12 128Z" fill="rgb(110,160,45)" fill-opacity="0.8"/>
<path d="M505.67 128L506.22 124.01L506.92 124.01L507.47 128Z" fill="rgb(150,196,100)" fill-opacity="0.85"/>
<path d="M506.12 128L506.42 124.01L506.72 124.01L507.02 128Z" fill="rgb(110,160,45)" fill-opacity="0.8"/>
<path d="M508.18 128L508.73 126.04L509.43 126.04L509.98 128Z" fill="rgb(150,196,100)" fill-opacity="0.85"/>
<path d="M508.63 128L508.93 126.04L509.23 126.04L509.53 128Z" fill="rgb(110,160,45)" fill-opacity="0.8"/>
<path d="M513.58 128L514.13 127.22L514.83 127.22L515.38 128Z" fill="rgb(150,196,100)" fill-opacity="0.85"/>
<path d="M514.03 128L514.33 127.22L514.63 127.22L514.93 128Z" fill="rgb(110,160,45)" fill-opacity="0.8"/>
<path d="M521.08 128L521.63 127.22L522.33 127.22L522.88 128Z" fill="rgb(150,196,100)" fill-opacity="0.85"/>
<path d="M521.53 128L521.83 127.22L522.13 127.22L522.43 128Z" fill="rgb(110,160,45)" fill-opacity="0.8"/>
<path d="M531.39 128L531.94 126.43L532.64 126.43L533.19 128Z" fill="rgb(150,196,100)" fill-opacity="0.85"/>
<path d="M531.84 128L532.14 126.43L532.44 126.43L532.74 128Z" fill="rgb(110,160,45)" fill-opacity="0.8"/>
<path d="M534.09 128L534.64 115.08L535.34 115.08L535.89 128Z" fill="rgb(150,196,100)" fill-opacity="0.85"/>
<path d="M534.54 128L534.84 115.08L535.14 115.08L535.44 128Z" fill="rgb(110,160,45)" fill-opacity="0.8"/>
<path d="M539.6 128L540.15 125.26L540.85 125.26L541.4 128Z" fill="rgb(150,196,100)" fill-opacity="0.85"/>
<path d="M540.05 128L540.35 125.26L540.65 125.26L540.95 128Z" fill="rgb(110,160,45)" fill-opacity="0.8"/>
<path d="M542.3 128L542.85 121.74L543.55 121.74L544.1 128Z" fill="rgb(150,196,100)" fill-opacity="0.85"/>
<path d="M542.75 128L543.05 121.74L543.35 121.74L543.65 128Z" fill="rgb(110,160,45)" fill-opacity="0.8"/>
<rect x="401.4" y="125.85" width="73.55" height="2.15" fill="rgb(180,150,70)" fill-opacity="0.2"/>
<path d="M400.4 128L400.85 121.82L401.15 121.82L401.6 128Z" fill="rgb(225,150,40)" fill-opacity="0.6"/>
<path d="M401.3 128L401.75 121.97L402.05 121.97L402.5 128Z" fill="rgb(217,83,25)" fill-opacity="0.6"/>
<path d="M402.1 128L402.55 122.3L402.85 122.3L403.3 128Z" fill="rgb(225,150,40)" fill-opacity="0.6"/>
<path d="M401.8 128L402.25 122.69L402.55 122.69L403 128Z" fill="rgb(217,83,25)" fill-opacity="0.6"/>
<path d="M402.7 128L403.15 120.36L403.45 120.36L403.9 128Z" fill="rgb(225,150,40)" fill-opacity="0.6"/>
<path d="M403.5 128L403.95 119.97L404.25 119.97L404.7 128Z" fill="rgb(225,150,40)" fill-opacity="0.6"/>
<path d="M406.9 128L407.35 125.62L407.65 125.62L408.1 128Z" fill="rgb(217,83,25)" fill-opacity="0.6"/>
<path d="M407.8 128L408.25 122.74L408.55 122.74L409 128Z" fill="rgb(225,150,40)" fill-opacity="0.6"/>
<path d="M408.61 128L409.06 122.85L409.36 122.85L409.81 128Z" fill="rgb(217,83,25)" fill-opacity="0.6"/>
<path d="M412.01 128L412.46 119.28L412.76 119.28L413.21 128Z" fill="rgb(217,83,25)" fill-opacity="0.6"/>
<path d="M412.91 128L413.36 124.19L413.66 124.19L414.11 128Z" fill="rgb(217,83,25)" fill-opacity="0.6"/>
<path d="M413.71 128L414.16 122.2L414.46 122.2L414.91 128Z" fill="rgb(200,120,30)" fill-opacity="0.6"/>
<path d="M417.11 128L417.56 122.59L417.86 122.59L418.31 128Z" fill="rgb(237,177,32)" fill-opacity="0.6"/>
<path d="M418.01 128L418.46 119.81L418.76 119.81L419.21 128Z" fill="rgb(225,150,40)" fill-opacity="0.6"/>
<path d="M418.81 128L419.26 123.24L419.56 123.24L420.01 128Z" fill="rgb(225,150,40)" fill-opacity="0.6"/>
<path d="M421.51 128L421.96 123.27L422.26 123.27L422.71 128Z" fill="rgb(200,120,30)" fill-opacity="0.6"/>
<path d="M422.42 128L422.87 119.97L423.17 119.97L423.62 128Z" fill="rgb(217,83,25)" fill-opacity="0.6"/>
<path d="M423.22 128L423.67 124.8L423.97 124.8L424.42 128Z" fill="rgb(217,83,25)" fill-opacity="0.6"/>
<path d="M426.22 128L426.67 125.76L426.97 125.76L427.42 128Z" fill="rgb(200,120,30)" fill-opacity="0.6"/>
<path d="M427.12 128L427.57 119.67L427.87 119.67L428.32 128Z" fill="rgb(237,177,32)" fill-opacity="0.6"/>
<path d="M427.92 128L428.37 120.56L428.67 120.56L429.12 128Z" fill="rgb(237,177,32)" fill-opacity="0.6"/>
<path d="M430.42 128L430.87 122.38L431.17 122.38L431.62 128Z" fill="rgb(237,177,32)" fill-opacity="0.6"/>
<path d="M431.32 128L431.77 118.21L432.07 118.21L432.52 128Z" fill="rgb(237,177,32)" fill-opacity="0.6"/>
<path d="M432.12 128L432.57 122.6L432.87 122.6L433.32 128Z" fill="rgb(200,120,30)" fill-opacity="0.6"/>
<path d="M434.52 128L434.97 124.94L435.27 124.94L435.72 128Z" fill="rgb(200,120,30)" fill-opacity="0.6"/>
<path d="M435.42 128L435.87 118.17L436.17 118.17L436.62 128Z" fill="rgb(217,83,25)" fill-opacity="0.6"/>
<path d="M436.22 128L436.67 123.76L436.97 123.76L437.42 128Z" fill="rgb(225,150,40)" fill-opacity="0.6"/>
<path d="M438.73 128L439.18 118.11L439.48 118.11L439.93 128Z" fill="rgb(217,83,25)" fill-opacity="0.6"/>
<path d="M439.63 128L440.08 124.21L440.38 124.21L440.83 128Z" fill="rgb(200,120,30)" fill-opacity="0.6"/>
<path d="M440.43 128L440.88 118.13L441.18 118.13L441.63 128Z" fill="rgb(217,83,25)" fill-opacity="0.6"/>
<path d="M442.33 128L442.78 125.52L443.08 125.52L443.53 128Z" fill="rgb(237,177,32)" fill-opacity="0.6"/>
<path d="M443.23 128L443.68 124.19L443.98 124.19L444.43 128Z" fill="rgb(225,150,40)" fill-opacity="0.6"/>
<path d="M444.03 128L444.48 125.77L444.78 125.77L445.23 128Z" fill="rgb(225,150,40)" fill-opacity="0.6"/>
<path d="M446.03 128L446.48 119.41L446.78 119.41L447.23 128Z" fill="rgb(200,120,30)" fill-opacity="0.6"/>
<path d="M446.93 128L447.38 125.28L447.68 125.28L448.13 128Z" fill="rgb(217,83,25)" fill-opacity="0.6"/>
<path d="M447.73 128L448.18 124.23L448.48 124.23L448.93 128Z" fill="rgb(237,177,32)" fill-opacity="0.6"/>
<path d="M452.44 128L452.89 125.73L453.19 125.73L453.64 128Z" fill="rgb(225,150,40)" fill-opacity="0.6"/>
<path d="M453.17 128L453.62 122.97L453.92 122.97L454.37 128Z" fill="rgb(200,120,30)" fill-opacity="0.6"/>
<path d="M453.94 128L454.39 124.86L454.69 124.86L455.14 128Z" fill="rgb(200,120,30)" fill-opacity="0.6"/>
<path d="M454.86 128L455.31 119.4L455.61 119.4L456.06 128Z" fill="rgb(237,177,32)" fill-opacity="0.6"/>
<path d="M455.6 128L456.05 119.13L456.35 119.13L456.8 128Z" fill="rgb(237,177,32)" fill-opacity="0.6"/>
<path d="M456.35 128L456.8 120.99L457.1 120.99L457.55 128Z" fill="rgb(225,150,40)" fill-opacity="0.6"/>
<path d="M457.14 128L457.59 118.81L457.89 118.81L458.34 128Z" fill="rgb(237,177,32)" fill-opacity="0.6"/>
<path d="M457.76 128L458.21 120.23L458.51 120.23L458.96 128Z" fill="rgb(237,177,32)" fill-opacity="0.6"/>
<path d="M458.52 128L458.97 120.12L459.27 120.12L459.72 128Z" fill="rgb(237,177,32)" fill-opacity="0.6"/>
<path d="M459.32 128L459.77 120.52L460.07 120.52L460.52 128Z" fill="rgb(200,120,30)" fill-opacity="0.6"/>
<path d="M460.19 128L460.64 119.01L460.94 119.01L461.39 128Z" fill="rgb(217,83,25)" fill-opacity="0.6"/>
<path d="M460.78 128L461.23 122.58L461.53 122.58L461.98 128Z" fill="rgb(217,83,25)" fill-opacity="0.6"/>
<path d="M461.45 128L461.9 125L462.2 125L462.65 128Z" fill="rgb(225,150,40)" fill-opacity="0.6"/>
<path d="M462.04 128L462.49 124L462.79 124L463.24 128Z" fill="rgb(200,120,30)" fill-opacity="0.6"/>
<path d="M462.91 128L463.36 123.86L463.66 123.86L464.11 128Z" fill="rgb(200,120,30)" fill-opacity="0.6"/>
<path d="M463.74 128L464.19 123.57L464.49 123.57L464.94 128Z" fill="rgb(237,177,32)" fill-opacity="0.6"/>
<path d="M464.3 128L464.75 118.65L465.05 118.65L465.5 128Z" fill="rgb(217,83,25)" fill-opacity="0.6"/>
<path d="M465.25 128L465.7 124.87L466 124.87L466.45 128Z" fill="rgb(200,120,30)" fill-opacity="0.6"/>
<path d="M466.18 128L466.63 121.51L466.93 121.51L467.38 128Z" fill="rgb(217,83,25)" fill-opacity="0.6"/>
<path d="M467 128L467.45 123.68L467.75 123.68L468.2 128Z" fill="rgb(237,177,32)" fill-opacity="0.6"/>
<path d="M467.79 128L468.24 120.04L468.54 120.04L468.99 128Z" fill="rgb(217,83,25)" fill-opacity="0.6"/>
<path d="M468.41 128L468.86 123.76L469.16 123.76L469.61 128Z" fill="rgb(200,120,30)" fill-opacity="0.6"/>
<path d="M468.96 128L469.41 123.92L469.71 123.92L470.16 128Z" fill="rgb(217,83,25)" fill-opacity="0.6"/>
<path d="M469.73 128L470.18 124.48L470.48 124.48L470.93 128Z" fill="rgb(225,150,40)" fill-opacity="0.6"/>
<path d="M470.3 128L470.75 121.73L471.05 121.73L471.5 128Z" fill="rgb(237,177,32)" fill-opacity="0.6"/>
<path d="M470.93 128L471.38 125.13L471.68 125.13L472.13 128Z" fill="rgb(237,177,32)" fill-opacity="0.6"/>
<path d="M471.57 128L472.02 118.94L472.32 118.94L472.77 128Z" fill="rgb(225,150,40)" fill-opacity="0.6"/>
<path d="M472.14 128L472.59 120.76L472.89 120.76L473.34 128Z" fill="rgb(237,177,32)" fill-opacity="0.6"/>
<path d="M472.87 128L473.32 121.28L473.62 121.28L474.07 128Z" fill="rgb(217,83,25)" fill-opacity="0.6"/>
<path d="M473.6 128L474.05 122.17L474.35 122.17L474.8 128Z" fill="rgb(225,150,40)" fill-opacity="0.6"/>
<rect x="452.1" y="122.1" width="0.8" height="5.51" fill="rgb(0,114,189)" fill-opacity="0.4"/>
<rect x="404.49" y="123.23" width="0.8" height="4.38" fill="rgb(0,114,189)" fill-opacity="0.4"/>
<rect x="436.78" y="122.9" width="0.8" height="4.71" fill="rgb(0,114,189)" fill-opacity="0.4"/>
<rect x="425.34" y="121.97" width="0.8" height="5.63" fill="rgb(0,114,189)" fill-opacity="0.4"/>
<rect x="413.73" y="118.29" width="1" height="7.36" fill="rgb(126,47,142)" fill-opacity="0.35"/>
<rect x="456.11" y="116.46" width="1" height="9.19" fill="rgb(126,47,142)" fill-opacity="0.35"/>
<rect x="456.11" y="117.47" width="1" height="8.18" fill="rgb(126,47,142)" fill-opacity="0.35"/>
<rect x="459.71" y="116.38" width="1" height="9.27" fill="rgb(126,47,142)" fill-opacity="0.35"/>
<rect x="431.44" y="117.57" width="1" height="8.08" fill="rgb(126,47,142)" fill-opacity="0.35"/>
<rect x="466.6" y="116.61" width="1" height="9.04" fill="rgb(126,47,142)" fill-opacity="0.35"/>
<rect x="435.62" y="117.03" width="1" height="8.63" fill="rgb(126,47,142)" fill-opacity="0.35"/>
<rect x="464.21" y="118.15" width="1" height="7.5" fill="rgb(126,47,142)" fill-opacity="0.35"/>
<line x1="401.4" y1="127.3" x2="543.4" y2="127.3" stroke="rgb(185,170,90)" stroke-width="0.9"/>
</g>
<rect x="401.4" y="18.4" width="142" height="109.6" fill="none" stroke="#8e8e8e" stroke-width="0.85"/>
<g stroke="#999" stroke-width="0.7"><line x1="412.71" y1="128" x2="412.71" y2="126.6"/><line x1="412.71" y1="18.4" x2="412.71" y2="19.8"/><line x1="440.13" y1="128" x2="440.13" y2="126.6"/><line x1="440.13" y1="18.4" x2="440.13" y2="19.8"/><line x1="466.85" y1="128" x2="466.85" y2="126.6"/><line x1="466.85" y1="18.4" x2="466.85" y2="19.8"/><line x1="493.87" y1="128" x2="493.87" y2="126.6"/><line x1="493.87" y1="18.4" x2="493.87" y2="19.8"/><line x1="521.68" y1="128" x2="521.68" y2="126.6"/><line x1="521.68" y1="18.4" x2="521.68" y2="19.8"/><line x1="401.4" y1="128" x2="402.8" y2="128"/><line x1="543.4" y1="128" x2="542" y2="128"/><line x1="401.4" y1="112.34" x2="402.8" y2="112.34"/><line x1="543.4" y1="112.34" x2="542" y2="112.34"/><line x1="401.4" y1="96.69" x2="402.8" y2="96.69"/><line x1="543.4" y1="96.69" x2="542" y2="96.69"/><line x1="401.4" y1="81.03" x2="402.8" y2="81.03"/><line x1="543.4" y1="81.03" x2="542" y2="81.03"/><line x1="401.4" y1="65.37" x2="402.8" y2="65.37"/><line x1="543.4" y1="65.37" x2="542" y2="65.37"/><line x1="401.4" y1="49.71" x2="402.8" y2="49.71"/><line x1="543.4" y1="49.71" x2="542" y2="49.71"/><line x1="401.4" y1="34.06" x2="402.8" y2="34.06"/><line x1="543.4" y1="34.06" x2="542" y2="34.06"/><line x1="401.4" y1="18.4" x2="402.8" y2="18.4"/><line x1="543.4" y1="18.4" x2="542" y2="18.4"/></g>
<g font-family="Liberation Serif, serif" font-size="5.8" fill="#3a3a3a" stroke="#3a3a3a" stroke-width="0.08"><text x="412.71" y="135.8" text-anchor="middle">1.305</text><text x="440.13" y="135.8" text-anchor="middle">1.31</text><text x="466.85" y="135.8" text-anchor="middle">1.315</text><text x="493.87" y="135.8" text-anchor="middle">1.32</text><text x="521.68" y="135.8" text-anchor="middle">1.325</text><text x="399.2" y="129.9" text-anchor="end">0</text><text x="399.2" y="114.24" text-anchor="end">20</text><text x="399.2" y="98.59" text-anchor="end">40</text><text x="399.2" y="82.93" text-anchor="end">60</text><text x="399.2" y="67.27" text-anchor="end">80</text><text x="399.2" y="51.61" text-anchor="end">100</text><text x="399.2" y="35.96" text-anchor="end">120</text><text x="399.2" y="20.3" text-anchor="end">140</text></g>
<text x="531.4" y="142.9" font-family="Liberation Serif, serif" font-size="6" fill="#3a3a3a" stroke="#3a3a3a" stroke-width="0.08">×10<tspan dy="-2.6" font-size="4.2">4</tspan></text>
<g font-family="Liberation Serif, serif" fill="#3a3a3a" stroke="#3a3a3a" stroke-width="0.04"><text x="442.35" y="144.1" font-size="7.25">Wavenumber</text><text x="484.8" y="144.1" font-size="7.5" font-style="italic">/cm</text><text x="496.4" y="141" font-size="5.2">−1</text></g>
<text transform="translate(387.8 72.7) rotate(-90)" text-anchor="middle" font-family="Liberation Serif, serif" font-size="7" fill="#2a2a2a" stroke="#2a2a2a" stroke-width="0.07">Relative Error (RE) /%</text>
<text x="471.1" y="12.6" text-anchor="middle" font-family="Liberation Sans, Arial, sans-serif" font-size="8.2" fill="#111" stroke="#111" stroke-width="0.12">(c) O<tspan dy="3.0" font-size="6.2">2</tspan><tspan dy="-3.0">-A Band FWHM error 10%</tspan></text>
<g font-family="Liberation Serif, serif" font-size="5.78" fill="#000" stroke="#000" stroke-width="0.03"><line x1="464.4" y1="27.3" x2="481.8" y2="27.3" stroke="rgb(140,196,234)" stroke-width="1"/><text x="483.8" y="29.6">1% wavenumber error</text><line x1="464.4" y1="34.4" x2="481.8" y2="34.4" stroke="rgb(243,166,142)" stroke-width="1"/><text x="483.8" y="36.7">5% wavenumber error</text><line x1="464.4" y1="41.5" x2="481.8" y2="41.5" stroke="rgb(250,220,160)" stroke-width="1"/><text x="483.8" y="43.8">10% wavenumber error</text><line x1="464.4" y1="48.6" x2="481.8" y2="48.6" stroke="rgb(208,176,223)" stroke-width="1"/><text x="483.8" y="50.9">30% wavenumber error</text><line x1="464.4" y1="55.7" x2="481.8" y2="55.7" stroke="rgb(198,222,175)" stroke-width="1"/><text x="483.8" y="58">60% wavenumber error</text></g>
<clipPath id="c3"><rect x="27" y="172.3" width="141.9" height="110"/></clipPath>
<g clip-path="url(#c3)" filter="url(#bl)">
<rect x="78.4" y="250.58" width="22" height="31.72" fill="url(#gb)" fill-opacity="0.7"/>
<path d="M77.6 282.3L78.3 257.94L78.9 257.94L79.6 282.3Z" fill="rgb(130,180,70)" fill-opacity="0.55"/>
<path d="M78.18 282.3L78.88 247.07L79.48 247.07L80.18 282.3Z" fill="rgb(130,180,70)" fill-opacity="0.55"/>
<path d="M78.71 282.3L79.41 250.89L80.01 250.89L80.71 282.3Z" fill="rgb(130,180,70)" fill-opacity="0.55"/>
<path d="M79.39 282.3L80.09 266.78L80.69 266.78L81.39 282.3Z" fill="rgb(130,180,70)" fill-opacity="0.55"/>
<path d="M80.15 282.3L80.85 267.46L81.45 267.46L82.15 282.3Z" fill="rgb(130,180,70)" fill-opacity="0.55"/>
<path d="M80.87 282.3L81.57 266.38L82.17 266.38L82.87 282.3Z" fill="rgb(130,180,70)" fill-opacity="0.55"/>
<path d="M81.41 282.3L82.11 254.6L82.71 254.6L83.41 282.3Z" fill="rgb(130,180,70)" fill-opacity="0.55"/>
<path d="M82.32 282.3L83.02 264.59L83.62 264.59L84.32 282.3Z" fill="rgb(130,180,70)" fill-opacity="0.55"/>
<path d="M82.94 282.3L83.64 247.85L84.24 247.85L84.94 282.3Z" fill="rgb(130,180,70)" fill-opacity="0.55"/>
<path d="M83.91 282.3L84.61 249.52L85.21 249.52L85.91 282.3Z" fill="rgb(130,180,70)" fill-opacity="0.55"/>
<path d="M84.61 282.3L85.31 236.26L85.91 236.26L86.61 282.3Z" fill="rgb(130,180,70)" fill-opacity="0.55"/>
<path d="M85.13 282.3L85.83 240.17L86.43 240.17L87.13 282.3Z" fill="rgb(130,180,70)" fill-opacity="0.55"/>
<path d="M85.78 282.3L86.48 263.91L87.08 263.91L87.78 282.3Z" fill="rgb(130,180,70)" fill-opacity="0.55"/>
<path d="M86.33 282.3L87.03 258.45L87.63 258.45L88.33 282.3Z" fill="rgb(130,180,70)" fill-opacity="0.55"/>
<path d="M87.24 282.3L87.94 262.7L88.54 262.7L89.24 282.3Z" fill="rgb(130,180,70)" fill-opacity="0.55"/>
<path d="M88.03 282.3L88.73 247.47L89.33 247.47L90.03 282.3Z" fill="rgb(130,180,70)" fill-opacity="0.55"/>
<path d="M88.72 282.3L89.42 250.5L90.02 250.5L90.72 282.3Z" fill="rgb(130,180,70)" fill-opacity="0.55"/>
<path d="M89.25 282.3L89.95 266.72L90.55 266.72L91.25 282.3Z" fill="rgb(130,180,70)" fill-opacity="0.55"/>
<path d="M89.85 282.3L90.55 246.09L91.15 246.09L91.85 282.3Z" fill="rgb(130,180,70)" fill-opacity="0.55"/>
<path d="M90.57 282.3L91.27 258.26L91.87 258.26L92.57 282.3Z" fill="rgb(130,180,70)" fill-opacity="0.55"/>
<path d="M91.36 282.3L92.06 253.64L92.66 253.64L93.36 282.3Z" fill="rgb(130,180,70)" fill-opacity="0.55"/>
<path d="M92.01 282.3L92.71 242.3L93.31 242.3L94.01 282.3Z" fill="rgb(130,180,70)" fill-opacity="0.55"/>
<path d="M92.86 282.3L93.56 260.59L94.16 260.59L94.86 282.3Z" fill="rgb(130,180,70)" fill-opacity="0.55"/>
<path d="M93.65 282.3L94.35 251.25L94.95 251.25L95.65 282.3Z" fill="rgb(130,180,70)" fill-opacity="0.55"/>
<path d="M94.58 282.3L95.28 244.46L95.88 244.46L96.58 282.3Z" fill="rgb(130,180,70)" fill-opacity="0.55"/>
<path d="M95.23 282.3L95.93 236.13L96.53 236.13L97.23 282.3Z" fill="rgb(130,180,70)" fill-opacity="0.55"/>
<path d="M95.79 282.3L96.49 254.81L97.09 254.81L97.79 282.3Z" fill="rgb(130,180,70)" fill-opacity="0.55"/>
<path d="M96.67 282.3L97.37 263.65L97.97 263.65L98.67 282.3Z" fill="rgb(130,180,70)" fill-opacity="0.55"/>
<path d="M97.41 282.3L98.11 267.4L98.71 267.4L99.41 282.3Z" fill="rgb(130,180,70)" fill-opacity="0.55"/>
<path d="M98.24 282.3L98.94 243.29L99.54 243.29L100.24 282.3Z" fill="rgb(130,180,70)" fill-opacity="0.55"/>
<path d="M99.03 282.3L99.73 239.61L100.33 239.61L101.03 282.3Z" fill="rgb(130,180,70)" fill-opacity="0.55"/>
<rect x="78.55" y="251.34" width="0.9" height="30.96" fill="rgb(100,145,45)" fill-opacity="0.6"/>
<rect x="80.03" y="253.34" width="0.9" height="28.96" fill="rgb(100,145,45)" fill-opacity="0.6"/>
<rect x="81.39" y="248.82" width="0.9" height="33.48" fill="rgb(100,145,45)" fill-opacity="0.6"/>
<rect x="83.15" y="255.18" width="0.9" height="27.12" fill="rgb(100,145,45)" fill-opacity="0.6"/>
<rect x="84.68" y="262.36" width="0.9" height="19.94" fill="rgb(100,145,45)" fill-opacity="0.6"/>
<rect x="86.24" y="252.17" width="0.9" height="30.13" fill="rgb(100,145,45)" fill-opacity="0.6"/>
<rect x="88.03" y="249.14" width="0.9" height="33.16" fill="rgb(100,145,45)" fill-opacity="0.6"/>
<rect x="89.26" y="256.71" width="0.9" height="25.59" fill="rgb(100,145,45)" fill-opacity="0.6"/>
<rect x="90.8" y="263.02" width="0.9" height="19.28" fill="rgb(100,145,45)" fill-opacity="0.6"/>
<rect x="92.17" y="260.5" width="0.9" height="21.8" fill="rgb(100,145,45)" fill-opacity="0.6"/>
<rect x="93.26" y="262.39" width="0.9" height="19.91" fill="rgb(100,145,45)" fill-opacity="0.6"/>
<rect x="94.87" y="261.17" width="0.9" height="21.13" fill="rgb(100,145,45)" fill-opacity="0.6"/>
<rect x="96.07" y="256.62" width="0.9" height="25.68" fill="rgb(100,145,45)" fill-opacity="0.6"/>
<rect x="97.77" y="262.02" width="0.9" height="20.28" fill="rgb(100,145,45)" fill-opacity="0.6"/>
<rect x="99.13" y="253.87" width="0.9" height="28.43" fill="rgb(100,145,45)" fill-opacity="0.6"/>
<rect x="78.4" y="268.7" width="21.9" height="13.6" fill="rgb(105,150,45)" fill-opacity="0.35"/>
<path d="M79.5 282.3L80.05 244.53L80.95 244.53L81.5 282.3Z" fill="url(#gb)" fill-opacity="1"/>
<path d="M82.6 282.3L83.15 243.02L84.05 243.02L84.6 282.3Z" fill="url(#gb)" fill-opacity="1"/>
<path d="M86 282.3L86.55 247.55L87.45 247.55L88 282.3Z" fill="url(#gb)" fill-opacity="1"/>
<path d="M88 282.3L88.55 252.09L89.45 252.09L90 282.3Z" fill="url(#gb)" fill-opacity="1"/>
<path d="M90.6 282.3L91.15 249.07L92.05 249.07L92.6 282.3Z" fill="url(#gb)" fill-opacity="1"/>
<path d="M93 282.3L93.55 244.53L94.45 244.53L95 282.3Z" fill="url(#gb)" fill-opacity="1"/>
<path d="M95.4 282.3L95.95 240.76L96.85 240.76L97.4 282.3Z" fill="url(#gb)" fill-opacity="1"/>
<path d="M97 282.3L97.55 246.04L98.45 246.04L99 282.3Z" fill="url(#gb)" fill-opacity="1"/>
<rect x="27.2" y="249.3" width="1.2" height="33" fill="rgb(168,207,125)" fill-opacity="0.95"/>
<rect x="27.6" y="249.96" width="0.4" height="32.34" fill="rgb(120,172,55)" fill-opacity="0.5"/>
<rect x="26.4" y="262.66" width="2.15" height="19.64" fill="url(#gb)"/>
<rect x="26.8" y="265.61" width="1.4" height="16.69" fill="url(#gc)"/>
<rect x="28.6" y="231.77" width="1.2" height="50.53" fill="rgb(168,207,125)" fill-opacity="0.95"/>
<rect x="29" y="232.78" width="0.4" height="49.52" fill="rgb(120,172,55)" fill-opacity="0.5"/>
<rect x="27.8" y="258.36" width="2.15" height="23.94" fill="url(#gb)"/>
<rect x="28.2" y="261.95" width="1.4" height="20.35" fill="url(#gc)"/>
<rect x="33.7" y="231.77" width="1.2" height="50.53" fill="rgb(168,207,125)" fill-opacity="0.95"/>
<rect x="34.1" y="232.78" width="0.4" height="49.52" fill="rgb(120,172,55)" fill-opacity="0.5"/>
<rect x="32.9" y="258.36" width="2.15" height="23.94" fill="url(#gb)"/>
<rect x="33.3" y="261.95" width="1.4" height="20.35" fill="url(#gc)"/>
<rect x="38.8" y="217.47" width="1.2" height="64.83" fill="rgb(168,207,125)" fill-opacity="0.95"/>
<rect x="39.2" y="218.77" width="0.4" height="63.53" fill="rgb(120,172,55)" fill-opacity="0.5"/>
<rect x="38" y="251.59" width="2.15" height="30.71" fill="url(#gb)"/>
<rect x="38.4" y="256.19" width="1.4" height="26.11" fill="url(#gc)"/>
<rect x="43.9" y="203.1" width="1.2" height="79.2" fill="rgb(168,207,125)" fill-opacity="0.95"/>
<rect x="44.3" y="204.68" width="0.4" height="77.62" fill="rgb(120,172,55)" fill-opacity="0.5"/>
<rect x="43.1" y="244.78" width="2.15" height="37.52" fill="url(#gb)"/>
<rect x="43.5" y="250.4" width="1.4" height="31.9" fill="url(#gc)"/>
<rect x="48.3" y="230.23" width="1.2" height="52.07" fill="rgb(168,207,125)" fill-opacity="0.95"/>
<rect x="48.7" y="231.27" width="0.4" height="51.03" fill="rgb(120,172,55)" fill-opacity="0.5"/>
<rect x="47.5" y="257.63" width="2.15" height="24.67" fill="url(#gb)"/>
<rect x="47.9" y="261.33" width="1.4" height="20.97" fill="url(#gc)"/>
<rect x="53" y="210.73" width="1.2" height="71.57" fill="rgb(168,207,125)" fill-opacity="0.95"/>
<rect x="53.4" y="212.16" width="0.4" height="70.14" fill="rgb(120,172,55)" fill-opacity="0.5"/>
<rect x="52.2" y="248.39" width="2.15" height="33.91" fill="url(#gb)"/>
<rect x="52.6" y="253.48" width="1.4" height="28.82" fill="url(#gc)"/>
<rect x="57.2" y="192.91" width="1.2" height="89.39" fill="rgb(168,207,125)" fill-opacity="0.95"/>
<rect x="57.6" y="194.69" width="0.4" height="87.61" fill="rgb(120,172,55)" fill-opacity="0.5"/>
<rect x="56.4" y="239.95" width="2.15" height="42.35" fill="url(#gb)"/>
<rect x="56.8" y="246.3" width="1.4" height="36" fill="url(#gc)"/>
<rect x="61.3" y="185.13" width="1.2" height="97.17" fill="rgb(168,207,125)" fill-opacity="0.95"/>
<rect x="61.7" y="187.08" width="0.4" height="95.22" fill="rgb(120,172,55)" fill-opacity="0.5"/>
<rect x="60.5" y="238.49" width="2.15" height="43.81" fill="url(#gb)"/>
<rect x="60.9" y="245.06" width="1.4" height="37.24" fill="url(#gc)"/>
<rect x="65.5" y="222.9" width="1.2" height="59.4" fill="rgb(168,207,125)" fill-opacity="0.95"/>
<rect x="65.9" y="224.09" width="0.4" height="58.21" fill="rgb(120,172,55)" fill-opacity="0.5"/>
<rect x="64.7" y="254.16" width="2.15" height="28.14" fill="url(#gb)"/>
<rect x="65.1" y="258.38" width="1.4" height="23.92" fill="url(#gc)"/>
<rect x="69.1" y="189.9" width="1.2" height="92.4" fill="rgb(168,207,125)" fill-opacity="0.95"/>
<rect x="69.5" y="191.75" width="0.4" height="90.55" fill="rgb(120,172,55)" fill-opacity="0.5"/>
<rect x="68.3" y="238.52" width="2.15" height="43.78" fill="url(#gb)"/>
<rect x="68.7" y="245.09" width="1.4" height="37.21" fill="url(#gc)"/>
<rect x="72.8" y="193.79" width="1.2" height="88.51" fill="rgb(168,207,125)" fill-opacity="0.95"/>
<rect x="73.2" y="195.56" width="0.4" height="86.74" fill="rgb(120,172,55)" fill-opacity="0.5"/>
<rect x="72" y="240.36" width="2.15" height="41.94" fill="url(#gb)"/>
<rect x="72.4" y="246.65" width="1.4" height="35.65" fill="url(#gc)"/>
<rect x="61.05" y="222.17" width="0.9" height="60.13" fill="rgb(165,206,120)" fill-opacity="0.75"/>
<rect x="72.05" y="217.77" width="0.9" height="64.53" fill="rgb(165,206,120)" fill-opacity="0.75"/>
<rect x="74.75" y="211.17" width="0.9" height="71.13" fill="rgb(165,206,120)" fill-opacity="0.75"/>
<rect x="38.35" y="245.63" width="0.9" height="36.67" fill="rgb(165,206,120)" fill-opacity="0.75"/>
<rect x="43.45" y="241.97" width="0.9" height="40.33" fill="rgb(165,206,120)" fill-opacity="0.75"/>
<rect x="52.55" y="249.3" width="0.9" height="33" fill="rgb(165,206,120)" fill-opacity="0.75"/>
<rect x="56.75" y="238.3" width="0.9" height="44" fill="rgb(165,206,120)" fill-opacity="0.75"/>
<rect x="65.05" y="249.3" width="0.9" height="33" fill="rgb(165,206,120)" fill-opacity="0.75"/>
<rect x="68.65" y="239.77" width="0.9" height="42.53" fill="rgb(165,206,120)" fill-opacity="0.75"/>
<rect x="79" y="241.97" width="1.2" height="40.33" fill="rgb(178,214,140)" fill-opacity="0.95"/>
<rect x="79.4" y="242.77" width="0.4" height="39.53" fill="rgb(125,176,62)" fill-opacity="0.45"/>
<path d="M78.6 282.3L79.3 264.15L79.9 264.15L80.6 282.3Z" fill="rgb(120,170,55)" fill-opacity="0.55"/>
<rect x="80.4" y="205.3" width="1.2" height="77" fill="rgb(178,214,140)" fill-opacity="0.95"/>
<rect x="80.8" y="206.84" width="0.4" height="75.46" fill="rgb(125,176,62)" fill-opacity="0.45"/>
<path d="M80 282.3L80.7 247.65L81.3 247.65L82 282.3Z" fill="rgb(120,170,55)" fill-opacity="0.55"/>
<rect x="83.5" y="207.5" width="1.2" height="74.8" fill="rgb(178,214,140)" fill-opacity="0.95"/>
<rect x="83.9" y="209" width="0.4" height="73.3" fill="rgb(125,176,62)" fill-opacity="0.45"/>
<path d="M83.1 282.3L83.8 248.64L84.4 248.64L85.1 282.3Z" fill="rgb(120,170,55)" fill-opacity="0.55"/>
<rect x="85.4" y="245.63" width="1.2" height="36.67" fill="rgb(178,214,140)" fill-opacity="0.95"/>
<rect x="85.8" y="246.37" width="0.4" height="35.93" fill="rgb(125,176,62)" fill-opacity="0.45"/>
<path d="M85 282.3L85.7 265.8L86.3 265.8L87 282.3Z" fill="rgb(120,170,55)" fill-opacity="0.55"/>
<rect x="87.3" y="228.99" width="1.2" height="53.31" fill="rgb(178,214,140)" fill-opacity="0.95"/>
<rect x="87.7" y="230.05" width="0.4" height="52.25" fill="rgb(125,176,62)" fill-opacity="0.45"/>
<path d="M86.9 282.3L87.6 258.31L88.2 258.31L88.9 282.3Z" fill="rgb(120,170,55)" fill-opacity="0.55"/>
<rect x="89.1" y="235.51" width="1.2" height="46.79" fill="rgb(178,214,140)" fill-opacity="0.95"/>
<rect x="89.5" y="236.45" width="0.4" height="45.85" fill="rgb(125,176,62)" fill-opacity="0.45"/>
<path d="M88.7 282.3L89.4 261.25L90 261.25L90.7 282.3Z" fill="rgb(120,170,55)" fill-opacity="0.55"/>
<rect x="90.4" y="249.3" width="1.2" height="33" fill="rgb(178,214,140)" fill-opacity="0.95"/>
<rect x="90.8" y="249.96" width="0.4" height="32.34" fill="rgb(125,176,62)" fill-opacity="0.45"/>
<path d="M90 282.3L90.7 267.45L91.3 267.45L92 282.3Z" fill="rgb(120,170,55)" fill-opacity="0.55"/>
<rect x="91.9" y="228.99" width="1.2" height="53.31" fill="rgb(178,214,140)" fill-opacity="0.95"/>
<rect x="92.3" y="230.05" width="0.4" height="52.25" fill="rgb(125,176,62)" fill-opacity="0.45"/>
<path d="M91.5 282.3L92.2 258.31L92.8 258.31L93.5 282.3Z" fill="rgb(120,170,55)" fill-opacity="0.55"/>
<rect x="93.7" y="247.1" width="1.2" height="35.2" fill="rgb(178,214,140)" fill-opacity="0.95"/>
<rect x="94.1" y="247.8" width="0.4" height="34.5" fill="rgb(125,176,62)" fill-opacity="0.45"/>
<path d="M93.3 282.3L94 266.46L94.6 266.46L95.3 282.3Z" fill="rgb(120,170,55)" fill-opacity="0.55"/>
<rect x="95.9" y="179.27" width="1.2" height="103.03" fill="rgb(178,214,140)" fill-opacity="0.95"/>
<rect x="96.3" y="181.33" width="0.4" height="100.97" fill="rgb(125,176,62)" fill-opacity="0.45"/>
<path d="M95.5 282.3L96.2 235.94L96.8 235.94L97.5 282.3Z" fill="rgb(120,170,55)" fill-opacity="0.55"/>
<rect x="97.3" y="223.63" width="1.2" height="58.67" fill="rgb(178,214,140)" fill-opacity="0.95"/>
<rect x="97.7" y="224.81" width="0.4" height="57.49" fill="rgb(125,176,62)" fill-opacity="0.45"/>
<path d="M96.9 282.3L97.6 255.9L98.2 255.9L98.9 282.3Z" fill="rgb(120,170,55)" fill-opacity="0.55"/>
<rect x="98.6" y="252.97" width="1.2" height="29.33" fill="rgb(178,214,140)" fill-opacity="0.95"/>
<rect x="99" y="253.55" width="0.4" height="28.75" fill="rgb(125,176,62)" fill-opacity="0.45"/>
<path d="M98.2 282.3L98.9 269.1L99.5 269.1L100.2 282.3Z" fill="rgb(120,170,55)" fill-opacity="0.55"/>
<rect x="100" y="252.97" width="1.2" height="29.33" fill="rgb(178,214,140)" fill-opacity="0.95"/>
<rect x="100.4" y="253.55" width="0.4" height="28.75" fill="rgb(125,176,62)" fill-opacity="0.45"/>
<path d="M99.6 282.3L100.3 269.1L100.9 269.1L101.6 282.3Z" fill="rgb(120,170,55)" fill-opacity="0.55"/>
<path d="M104.7 282.3L105.25 277.98L105.95 277.98L106.5 282.3Z" fill="rgb(150,196,100)" fill-opacity="0.85"/>
<path d="M105.15 282.3L105.45 277.98L105.75 277.98L106.05 282.3Z" fill="rgb(110,160,45)" fill-opacity="0.8"/>
<path d="M107.5 282.3L108.05 277.98L108.75 277.98L109.3 282.3Z" fill="rgb(150,196,100)" fill-opacity="0.85"/>
<path d="M107.95 282.3L108.25 277.98L108.55 277.98L108.85 282.3Z" fill="rgb(110,160,45)" fill-opacity="0.8"/>
<path d="M109.4 282.3L109.95 279.74L110.65 279.74L111.2 282.3Z" fill="rgb(150,196,100)" fill-opacity="0.85"/>
<path d="M109.85 282.3L110.15 279.74L110.45 279.74L110.75 282.3Z" fill="rgb(110,160,45)" fill-opacity="0.8"/>
<path d="M114.8 282.3L115.35 279.47L116.05 279.47L116.6 282.3Z" fill="rgb(150,196,100)" fill-opacity="0.85"/>
<path d="M115.25 282.3L115.55 279.47L115.85 279.47L116.15 282.3Z" fill="rgb(110,160,45)" fill-opacity="0.8"/>
<path d="M118.7 282.3L119.25 267.59L119.95 267.59L120.5 282.3Z" fill="rgb(150,196,100)" fill-opacity="0.85"/>
<path d="M119.15 282.3L119.45 267.59L119.75 267.59L120.05 282.3Z" fill="rgb(110,160,45)" fill-opacity="0.8"/>
<path d="M123.6 282.3L124.15 262.33L124.85 262.33L125.4 282.3Z" fill="rgb(150,196,100)" fill-opacity="0.85"/>
<path d="M124.05 282.3L124.35 262.33L124.65 262.33L124.95 282.3Z" fill="rgb(110,160,45)" fill-opacity="0.8"/>
<path d="M127.3 282.3L127.85 280.55L128.55 280.55L129.1 282.3Z" fill="rgb(150,196,100)" fill-opacity="0.85"/>
<path d="M127.75 282.3L128.05 280.55L128.35 280.55L128.65 282.3Z" fill="rgb(110,160,45)" fill-opacity="0.8"/>
<path d="M131.2 282.3L131.75 278.86L132.45 278.86L133 282.3Z" fill="rgb(150,196,100)" fill-opacity="0.85"/>
<path d="M131.65 282.3L131.95 278.86L132.25 278.86L132.55 282.3Z" fill="rgb(110,160,45)" fill-opacity="0.8"/>
<path d="M133.7 282.3L134.25 280.61L134.95 280.61L135.5 282.3Z" fill="rgb(150,196,100)" fill-opacity="0.85"/>
<path d="M134.15 282.3L134.45 280.61L134.75 280.61L135.05 282.3Z" fill="rgb(110,160,45)" fill-opacity="0.8"/>
<path d="M139.1 282.3L139.65 281.63L140.35 281.63L140.9 282.3Z" fill="rgb(150,196,100)" fill-opacity="0.85"/>
<path d="M139.55 282.3L139.85 281.63L140.15 281.63L140.45 282.3Z" fill="rgb(110,160,45)" fill-opacity="0.8"/>
<path d="M146.6 282.3L147.15 281.63L147.85 281.63L148.4 282.3Z" fill="rgb(150,196,100)" fill-opacity="0.85"/>
<path d="M147.05 282.3L147.35 281.63L147.65 281.63L147.95 282.3Z" fill="rgb(110,160,45)" fill-opacity="0.8"/>
<path d="M156.9 282.3L157.45 280.95L158.15 280.95L158.7 282.3Z" fill="rgb(150,196,100)" fill-opacity="0.85"/>
<path d="M157.35 282.3L157.65 280.95L157.95 280.95L158.25 282.3Z" fill="rgb(110,160,45)" fill-opacity="0.8"/>
<path d="M159.6 282.3L160.15 271.17L160.85 271.17L161.4 282.3Z" fill="rgb(150,196,100)" fill-opacity="0.85"/>
<path d="M160.05 282.3L160.35 271.17L160.65 271.17L160.95 282.3Z" fill="rgb(110,160,45)" fill-opacity="0.8"/>
<path d="M165.1 282.3L165.65 279.94L166.35 279.94L166.9 282.3Z" fill="rgb(150,196,100)" fill-opacity="0.85"/>
<path d="M165.55 282.3L165.85 279.94L166.15 279.94L166.45 282.3Z" fill="rgb(110,160,45)" fill-opacity="0.8"/>
<path d="M167.8 282.3L168.35 276.9L169.05 276.9L169.6 282.3Z" fill="rgb(150,196,100)" fill-opacity="0.85"/>
<path d="M168.25 282.3L168.55 276.9L168.85 276.9L169.15 282.3Z" fill="rgb(110,160,45)" fill-opacity="0.8"/>
<rect x="27" y="279.92" width="73.5" height="2.38" fill="rgb(180,150,70)" fill-opacity="0.2"/>
<path d="M26 282.3L26.45 275.46L26.75 275.46L27.2 282.3Z" fill="rgb(225,150,40)" fill-opacity="0.6"/>
<path d="M26.9 282.3L27.35 275.63L27.65 275.63L28.1 282.3Z" fill="rgb(217,83,25)" fill-opacity="0.6"/>
<path d="M27.7 282.3L28.15 275.99L28.45 275.99L28.9 282.3Z" fill="rgb(225,150,40)" fill-opacity="0.6"/>
<path d="M27.4 282.3L27.85 276.43L28.15 276.43L28.6 282.3Z" fill="rgb(217,83,25)" fill-opacity="0.6"/>
<path d="M28.3 282.3L28.75 273.84L29.05 273.84L29.5 282.3Z" fill="rgb(225,150,40)" fill-opacity="0.6"/>
<path d="M29.1 282.3L29.55 273.41L29.85 273.41L30.3 282.3Z" fill="rgb(225,150,40)" fill-opacity="0.6"/>
<path d="M32.5 282.3L32.95 279.66L33.25 279.66L33.7 282.3Z" fill="rgb(217,83,25)" fill-opacity="0.6"/>
<path d="M33.4 282.3L33.85 276.48L34.15 276.48L34.6 282.3Z" fill="rgb(225,150,40)" fill-opacity="0.6"/>
<path d="M34.2 282.3L34.65 276.6L34.95 276.6L35.4 282.3Z" fill="rgb(217,83,25)" fill-opacity="0.6"/>
<path d="M37.6 282.3L38.05 272.65L38.35 272.65L38.8 282.3Z" fill="rgb(217,83,25)" fill-opacity="0.6"/>
<path d="M38.5 282.3L38.95 278.08L39.25 278.08L39.7 282.3Z" fill="rgb(217,83,25)" fill-opacity="0.6"/>
<path d="M39.3 282.3L39.75 275.88L40.05 275.88L40.5 282.3Z" fill="rgb(200,120,30)" fill-opacity="0.6"/>
<path d="M42.7 282.3L43.15 276.31L43.45 276.31L43.9 282.3Z" fill="rgb(237,177,32)" fill-opacity="0.6"/>
<path d="M43.6 282.3L44.05 273.24L44.35 273.24L44.8 282.3Z" fill="rgb(225,150,40)" fill-opacity="0.6"/>
<path d="M44.4 282.3L44.85 277.03L45.15 277.03L45.6 282.3Z" fill="rgb(225,150,40)" fill-opacity="0.6"/>
<path d="M47.1 282.3L47.55 277.06L47.85 277.06L48.3 282.3Z" fill="rgb(200,120,30)" fill-opacity="0.6"/>
<path d="M48 282.3L48.45 273.41L48.75 273.41L49.2 282.3Z" fill="rgb(217,83,25)" fill-opacity="0.6"/>
<path d="M48.8 282.3L49.25 278.76L49.55 278.76L50 282.3Z" fill="rgb(217,83,25)" fill-opacity="0.6"/>
<path d="M51.8 282.3L52.25 279.82L52.55 279.82L53 282.3Z" fill="rgb(200,120,30)" fill-opacity="0.6"/>
<path d="M52.7 282.3L53.15 273.08L53.45 273.08L53.9 282.3Z" fill="rgb(237,177,32)" fill-opacity="0.6"/>
<path d="M53.5 282.3L53.95 274.06L54.25 274.06L54.7 282.3Z" fill="rgb(237,177,32)" fill-opacity="0.6"/>
<path d="M56 282.3L56.45 276.08L56.75 276.08L57.2 282.3Z" fill="rgb(237,177,32)" fill-opacity="0.6"/>
<path d="M56.9 282.3L57.35 271.46L57.65 271.46L58.1 282.3Z" fill="rgb(237,177,32)" fill-opacity="0.6"/>
<path d="M57.7 282.3L58.15 276.32L58.45 276.32L58.9 282.3Z" fill="rgb(200,120,30)" fill-opacity="0.6"/>
<path d="M60.1 282.3L60.55 278.92L60.85 278.92L61.3 282.3Z" fill="rgb(200,120,30)" fill-opacity="0.6"/>
<path d="M61 282.3L61.45 271.42L61.75 271.42L62.2 282.3Z" fill="rgb(217,83,25)" fill-opacity="0.6"/>
<path d="M61.8 282.3L62.25 277.6L62.55 277.6L63 282.3Z" fill="rgb(225,150,40)" fill-opacity="0.6"/>
<path d="M64.3 282.3L64.75 271.35L65.05 271.35L65.5 282.3Z" fill="rgb(217,83,25)" fill-opacity="0.6"/>
<path d="M65.2 282.3L65.65 278.11L65.95 278.11L66.4 282.3Z" fill="rgb(200,120,30)" fill-opacity="0.6"/>
<path d="M66 282.3L66.45 271.37L66.75 271.37L67.2 282.3Z" fill="rgb(217,83,25)" fill-opacity="0.6"/>
<path d="M67.9 282.3L68.35 279.56L68.65 279.56L69.1 282.3Z" fill="rgb(237,177,32)" fill-opacity="0.6"/>
<path d="M68.8 282.3L69.25 278.09L69.55 278.09L70 282.3Z" fill="rgb(225,150,40)" fill-opacity="0.6"/>
<path d="M69.6 282.3L70.05 279.83L70.35 279.83L70.8 282.3Z" fill="rgb(225,150,40)" fill-opacity="0.6"/>
<path d="M71.6 282.3L72.05 272.79L72.35 272.79L72.8 282.3Z" fill="rgb(200,120,30)" fill-opacity="0.6"/>
<path d="M72.5 282.3L72.95 279.29L73.25 279.29L73.7 282.3Z" fill="rgb(217,83,25)" fill-opacity="0.6"/>
<path d="M73.3 282.3L73.75 278.13L74.05 278.13L74.5 282.3Z" fill="rgb(237,177,32)" fill-opacity="0.6"/>
<path d="M78 282.3L78.45 279.78L78.75 279.78L79.2 282.3Z" fill="rgb(225,150,40)" fill-opacity="0.6"/>
<path d="M78.73 282.3L79.18 276.73L79.48 276.73L79.93 282.3Z" fill="rgb(200,120,30)" fill-opacity="0.6"/>
<path d="M79.5 282.3L79.95 278.83L80.25 278.83L80.7 282.3Z" fill="rgb(200,120,30)" fill-opacity="0.6"/>
<path d="M80.42 282.3L80.87 272.78L81.17 272.78L81.62 282.3Z" fill="rgb(237,177,32)" fill-opacity="0.6"/>
<path d="M81.16 282.3L81.61 272.48L81.91 272.48L82.36 282.3Z" fill="rgb(237,177,32)" fill-opacity="0.6"/>
<path d="M81.91 282.3L82.36 274.53L82.66 274.53L83.11 282.3Z" fill="rgb(225,150,40)" fill-opacity="0.6"/>
<path d="M82.7 282.3L83.15 272.12L83.45 272.12L83.9 282.3Z" fill="rgb(237,177,32)" fill-opacity="0.6"/>
<path d="M83.32 282.3L83.77 273.69L84.07 273.69L84.52 282.3Z" fill="rgb(237,177,32)" fill-opacity="0.6"/>
<path d="M84.08 282.3L84.53 273.57L84.83 273.57L85.28 282.3Z" fill="rgb(237,177,32)" fill-opacity="0.6"/>
<path d="M84.88 282.3L85.33 274.02L85.63 274.02L86.08 282.3Z" fill="rgb(200,120,30)" fill-opacity="0.6"/>
<path d="M85.75 282.3L86.2 272.35L86.5 272.35L86.95 282.3Z" fill="rgb(217,83,25)" fill-opacity="0.6"/>
<path d="M86.33 282.3L86.78 276.3L87.08 276.3L87.53 282.3Z" fill="rgb(217,83,25)" fill-opacity="0.6"/>
<path d="M87.01 282.3L87.46 278.98L87.76 278.98L88.21 282.3Z" fill="rgb(225,150,40)" fill-opacity="0.6"/>
<path d="M87.59 282.3L88.04 277.87L88.34 277.87L88.79 282.3Z" fill="rgb(200,120,30)" fill-opacity="0.6"/>
<path d="M88.47 282.3L88.92 277.71L89.22 277.71L89.67 282.3Z" fill="rgb(200,120,30)" fill-opacity="0.6"/>
<path d="M89.29 282.3L89.74 277.4L90.04 277.4L90.49 282.3Z" fill="rgb(237,177,32)" fill-opacity="0.6"/>
<path d="M89.86 282.3L90.31 271.94L90.61 271.94L91.06 282.3Z" fill="rgb(217,83,25)" fill-opacity="0.6"/>
<path d="M90.8 282.3L91.25 278.83L91.55 278.83L92 282.3Z" fill="rgb(200,120,30)" fill-opacity="0.6"/>
<path d="M91.74 282.3L92.19 275.12L92.49 275.12L92.94 282.3Z" fill="rgb(217,83,25)" fill-opacity="0.6"/>
<path d="M92.55 282.3L93 277.51L93.3 277.51L93.75 282.3Z" fill="rgb(237,177,32)" fill-opacity="0.6"/>
<path d="M93.35 282.3L93.8 273.49L94.1 273.49L94.55 282.3Z" fill="rgb(217,83,25)" fill-opacity="0.6"/>
<path d="M93.96 282.3L94.41 277.61L94.71 277.61L95.16 282.3Z" fill="rgb(200,120,30)" fill-opacity="0.6"/>
<path d="M94.52 282.3L94.97 277.78L95.27 277.78L95.72 282.3Z" fill="rgb(217,83,25)" fill-opacity="0.6"/>
<path d="M95.28 282.3L95.73 278.4L96.03 278.4L96.48 282.3Z" fill="rgb(225,150,40)" fill-opacity="0.6"/>
<path d="M95.85 282.3L96.3 275.36L96.6 275.36L97.05 282.3Z" fill="rgb(237,177,32)" fill-opacity="0.6"/>
<path d="M96.48 282.3L96.93 279.13L97.23 279.13L97.68 282.3Z" fill="rgb(237,177,32)" fill-opacity="0.6"/>
<path d="M97.12 282.3L97.57 272.27L97.87 272.27L98.32 282.3Z" fill="rgb(225,150,40)" fill-opacity="0.6"/>
<path d="M97.69 282.3L98.14 274.28L98.44 274.28L98.89 282.3Z" fill="rgb(237,177,32)" fill-opacity="0.6"/>
<path d="M98.42 282.3L98.87 274.86L99.17 274.86L99.62 282.3Z" fill="rgb(217,83,25)" fill-opacity="0.6"/>
<path d="M99.15 282.3L99.6 275.84L99.9 275.84L100.35 282.3Z" fill="rgb(225,150,40)" fill-opacity="0.6"/>
<rect x="77.67" y="275.77" width="0.8" height="6.16" fill="rgb(0,114,189)" fill-opacity="0.4"/>
<rect x="30.09" y="277.01" width="0.8" height="4.92" fill="rgb(0,114,189)" fill-opacity="0.4"/>
<rect x="62.36" y="276.65" width="0.8" height="5.28" fill="rgb(0,114,189)" fill-opacity="0.4"/>
<rect x="50.92" y="275.63" width="0.8" height="6.3" fill="rgb(0,114,189)" fill-opacity="0.4"/>
<rect x="33.87" y="277.36" width="0.8" height="4.58" fill="rgb(0,114,189)" fill-opacity="0.4"/>
<rect x="81.67" y="269.52" width="1" height="10.58" fill="rgb(126,47,142)" fill-opacity="0.35"/>
<rect x="81.67" y="270.65" width="1" height="9.45" fill="rgb(126,47,142)" fill-opacity="0.35"/>
<rect x="85.27" y="269.44" width="1" height="10.66" fill="rgb(126,47,142)" fill-opacity="0.35"/>
<rect x="57.02" y="270.75" width="1" height="9.35" fill="rgb(126,47,142)" fill-opacity="0.35"/>
<rect x="92.15" y="269.69" width="1" height="10.41" fill="rgb(126,47,142)" fill-opacity="0.35"/>
<rect x="61.2" y="270.15" width="1" height="9.95" fill="rgb(126,47,142)" fill-opacity="0.35"/>
<rect x="89.76" y="271.4" width="1" height="8.7" fill="rgb(126,47,142)" fill-opacity="0.35"/>
<rect x="74.5" y="272.49" width="1" height="7.61" fill="rgb(126,47,142)" fill-opacity="0.35"/>
<line x1="27" y1="281.6" x2="168.9" y2="281.6" stroke="rgb(185,170,90)" stroke-width="0.9"/>
</g>
<rect x="27" y="172.3" width="141.9" height="110" fill="none" stroke="#8e8e8e" stroke-width="0.85"/>
<g stroke="#999" stroke-width="0.7"><line x1="38.3" y1="282.3" x2="38.3" y2="280.9"/><line x1="38.3" y1="172.3" x2="38.3" y2="173.7"/><line x1="65.7" y1="282.3" x2="65.7" y2="280.9"/><line x1="65.7" y1="172.3" x2="65.7" y2="173.7"/><line x1="92.4" y1="282.3" x2="92.4" y2="280.9"/><line x1="92.4" y1="172.3" x2="92.4" y2="173.7"/><line x1="119.4" y1="282.3" x2="119.4" y2="280.9"/><line x1="119.4" y1="172.3" x2="119.4" y2="173.7"/><line x1="147.2" y1="282.3" x2="147.2" y2="280.9"/><line x1="147.2" y1="172.3" x2="147.2" y2="173.7"/><line x1="27" y1="282.3" x2="28.4" y2="282.3"/><line x1="168.9" y1="282.3" x2="167.5" y2="282.3"/><line x1="27" y1="245.63" x2="28.4" y2="245.63"/><line x1="168.9" y1="245.63" x2="167.5" y2="245.63"/><line x1="27" y1="208.97" x2="28.4" y2="208.97"/><line x1="168.9" y1="208.97" x2="167.5" y2="208.97"/><line x1="27" y1="172.3" x2="28.4" y2="172.3"/><line x1="168.9" y1="172.3" x2="167.5" y2="172.3"/></g>
<g font-family="Liberation Serif, serif" font-size="5.8" fill="#3a3a3a" stroke="#3a3a3a" stroke-width="0.08"><text x="38.3" y="290.1" text-anchor="middle">1.305</text><text x="65.7" y="290.1" text-anchor="middle">1.31</text><text x="92.4" y="290.1" text-anchor="middle">1.315</text><text x="119.4" y="290.1" text-anchor="middle">1.32</text><text x="147.2" y="290.1" text-anchor="middle">1.325</text><text x="24.8" y="284.2" text-anchor="end">0</text><text x="24.8" y="247.53" text-anchor="end">50</text><text x="24.8" y="210.87" text-anchor="end">100</text><text x="24.8" y="174.2" text-anchor="end">150</text></g>
<text x="156.9" y="297.2" font-family="Liberation Serif, serif" font-size="6" fill="#3a3a3a" stroke="#3a3a3a" stroke-width="0.08">×10<tspan dy="-2.6" font-size="4.2">4</tspan></text>
<g font-family="Liberation Serif, serif" fill="#3a3a3a" stroke="#3a3a3a" stroke-width="0.04"><text x="67.9" y="298.4" font-size="7.25">Wavenumber</text><text x="110.35" y="298.4" font-size="7.5" font-style="italic">/cm</text><text x="121.95" y="295.3" font-size="5.2">−1</text></g>
<text transform="translate(13.4 226.8) rotate(-90)" text-anchor="middle" font-family="Liberation Serif, serif" font-size="7" fill="#2a2a2a" stroke="#2a2a2a" stroke-width="0.07">Relative Error (RE) /%</text>
<text x="96.7" y="166.5" text-anchor="middle" font-family="Liberation Sans, Arial, sans-serif" font-size="8.2" fill="#111" stroke="#111" stroke-width="0.12">(d) O<tspan dy="3.0" font-size="6.2">2</tspan><tspan dy="-3.0">-A Band FWHM error 30%</tspan></text>
<g font-family="Liberation Serif, serif" font-size="5.78" fill="#000" stroke="#000" stroke-width="0.03"><line x1="89" y1="181.2" x2="106.4" y2="181.2" stroke="rgb(140,196,234)" stroke-width="1"/><text x="108.4" y="183.5">1% wavenumber error</text><line x1="89" y1="188.3" x2="106.4" y2="188.3" stroke="rgb(243,166,142)" stroke-width="1"/><text x="108.4" y="190.6">5% wavenumber error</text><line x1="89" y1="195.4" x2="106.4" y2="195.4" stroke="rgb(250,220,160)" stroke-width="1"/><text x="108.4" y="197.7">10% wavenumber error</text><line x1="89" y1="202.5" x2="106.4" y2="202.5" stroke="rgb(208,176,223)" stroke-width="1"/><text x="108.4" y="204.8">30% wavenumber error</text><line x1="89" y1="209.6" x2="106.4" y2="209.6" stroke="rgb(198,222,175)" stroke-width="1"/><text x="108.4" y="211.9">60% wavenumber error</text></g>
<clipPath id="c4"><rect x="213.8" y="172.3" width="142.4" height="110"/></clipPath>
<g clip-path="url(#c4)" filter="url(#bl)">
<rect x="265.38" y="249.04" width="22.08" height="33.26" fill="url(#gb)" fill-opacity="0.7"/>
<path d="M264.58 282.3L265.28 256.76L265.88 256.76L266.58 282.3Z" fill="rgb(130,180,70)" fill-opacity="0.55"/>
<path d="M265.16 282.3L265.86 245.36L266.46 245.36L267.16 282.3Z" fill="rgb(130,180,70)" fill-opacity="0.55"/>
<path d="M265.7 282.3L266.4 249.37L267 249.37L267.7 282.3Z" fill="rgb(130,180,70)" fill-opacity="0.55"/>
<path d="M266.38 282.3L267.08 266.02L267.68 266.02L268.38 282.3Z" fill="rgb(130,180,70)" fill-opacity="0.55"/>
<path d="M267.14 282.3L267.84 266.74L268.44 266.74L269.14 282.3Z" fill="rgb(130,180,70)" fill-opacity="0.55"/>
<path d="M267.86 282.3L268.56 265.61L269.16 265.61L269.86 282.3Z" fill="rgb(130,180,70)" fill-opacity="0.55"/>
<path d="M268.41 282.3L269.11 253.25L269.71 253.25L270.41 282.3Z" fill="rgb(130,180,70)" fill-opacity="0.55"/>
<path d="M269.32 282.3L270.02 263.73L270.62 263.73L271.32 282.3Z" fill="rgb(130,180,70)" fill-opacity="0.55"/>
<path d="M269.94 282.3L270.64 246.18L271.24 246.18L271.94 282.3Z" fill="rgb(130,180,70)" fill-opacity="0.55"/>
<path d="M270.91 282.3L271.61 247.93L272.21 247.93L272.91 282.3Z" fill="rgb(130,180,70)" fill-opacity="0.55"/>
<path d="M271.61 282.3L272.31 234.02L272.91 234.02L273.61 282.3Z" fill="rgb(130,180,70)" fill-opacity="0.55"/>
<path d="M272.14 282.3L272.84 238.13L273.44 238.13L274.14 282.3Z" fill="rgb(130,180,70)" fill-opacity="0.55"/>
<path d="M272.79 282.3L273.49 263.02L274.09 263.02L274.79 282.3Z" fill="rgb(130,180,70)" fill-opacity="0.55"/>
<path d="M273.35 282.3L274.05 257.29L274.65 257.29L275.35 282.3Z" fill="rgb(130,180,70)" fill-opacity="0.55"/>
<path d="M274.26 282.3L274.96 261.75L275.56 261.75L276.26 282.3Z" fill="rgb(130,180,70)" fill-opacity="0.55"/>
<path d="M275.05 282.3L275.75 245.78L276.35 245.78L277.05 282.3Z" fill="rgb(130,180,70)" fill-opacity="0.55"/>
<path d="M275.74 282.3L276.44 248.96L277.04 248.96L277.74 282.3Z" fill="rgb(130,180,70)" fill-opacity="0.55"/>
<path d="M276.27 282.3L276.97 265.97L277.57 265.97L278.27 282.3Z" fill="rgb(130,180,70)" fill-opacity="0.55"/>
<path d="M276.88 282.3L277.58 244.33L278.18 244.33L278.88 282.3Z" fill="rgb(130,180,70)" fill-opacity="0.55"/>
<path d="M277.6 282.3L278.3 257.1L278.9 257.1L279.6 282.3Z" fill="rgb(130,180,70)" fill-opacity="0.55"/>
<path d="M278.39 282.3L279.09 252.25L279.69 252.25L280.39 282.3Z" fill="rgb(130,180,70)" fill-opacity="0.55"/>
<path d="M279.04 282.3L279.74 240.36L280.34 240.36L281.04 282.3Z" fill="rgb(130,180,70)" fill-opacity="0.55"/>
<path d="M279.9 282.3L280.6 259.54L281.2 259.54L281.9 282.3Z" fill="rgb(130,180,70)" fill-opacity="0.55"/>
<path d="M280.69 282.3L281.39 249.74L281.99 249.74L282.69 282.3Z" fill="rgb(130,180,70)" fill-opacity="0.55"/>
<path d="M281.63 282.3L282.33 242.62L282.93 242.62L283.63 282.3Z" fill="rgb(130,180,70)" fill-opacity="0.55"/>
<path d="M282.27 282.3L282.97 233.89L283.57 233.89L284.27 282.3Z" fill="rgb(130,180,70)" fill-opacity="0.55"/>
<path d="M282.83 282.3L283.53 253.47L284.13 253.47L284.83 282.3Z" fill="rgb(130,180,70)" fill-opacity="0.55"/>
<path d="M283.72 282.3L284.42 262.75L285.02 262.75L285.72 282.3Z" fill="rgb(130,180,70)" fill-opacity="0.55"/>
<path d="M284.46 282.3L285.16 266.68L285.76 266.68L286.46 282.3Z" fill="rgb(130,180,70)" fill-opacity="0.55"/>
<path d="M285.3 282.3L286 241.4L286.6 241.4L287.3 282.3Z" fill="rgb(130,180,70)" fill-opacity="0.55"/>
<path d="M286.09 282.3L286.79 237.54L287.39 237.54L288.09 282.3Z" fill="rgb(130,180,70)" fill-opacity="0.55"/>
<rect x="265.53" y="249.83" width="0.9" height="32.47" fill="rgb(100,145,45)" fill-opacity="0.6"/>
<rect x="267.01" y="251.94" width="0.9" height="30.36" fill="rgb(100,145,45)" fill-opacity="0.6"/>
<rect x="268.38" y="247.2" width="0.9" height="35.1" fill="rgb(100,145,45)" fill-opacity="0.6"/>
<rect x="270.15" y="253.86" width="0.9" height="28.44" fill="rgb(100,145,45)" fill-opacity="0.6"/>
<rect x="271.68" y="261.39" width="0.9" height="20.91" fill="rgb(100,145,45)" fill-opacity="0.6"/>
<rect x="273.25" y="250.71" width="0.9" height="31.59" fill="rgb(100,145,45)" fill-opacity="0.6"/>
<rect x="275.05" y="247.53" width="0.9" height="34.77" fill="rgb(100,145,45)" fill-opacity="0.6"/>
<rect x="276.28" y="255.47" width="0.9" height="26.83" fill="rgb(100,145,45)" fill-opacity="0.6"/>
<rect x="277.82" y="262.09" width="0.9" height="20.21" fill="rgb(100,145,45)" fill-opacity="0.6"/>
<rect x="279.2" y="259.44" width="0.9" height="22.86" fill="rgb(100,145,45)" fill-opacity="0.6"/>
<rect x="280.29" y="261.43" width="0.9" height="20.87" fill="rgb(100,145,45)" fill-opacity="0.6"/>
<rect x="281.91" y="260.14" width="0.9" height="22.16" fill="rgb(100,145,45)" fill-opacity="0.6"/>
<rect x="283.12" y="255.38" width="0.9" height="26.92" fill="rgb(100,145,45)" fill-opacity="0.6"/>
<rect x="284.82" y="261.03" width="0.9" height="21.27" fill="rgb(100,145,45)" fill-opacity="0.6"/>
<rect x="286.18" y="252.49" width="0.9" height="29.81" fill="rgb(100,145,45)" fill-opacity="0.6"/>
<rect x="265.38" y="268.04" width="21.98" height="14.26" fill="rgb(105,150,45)" fill-opacity="0.35"/>
<path d="M266.49 282.3L267.04 242.7L267.94 242.7L268.49 282.3Z" fill="url(#gb)" fill-opacity="1"/>
<path d="M269.6 282.3L270.15 241.12L271.05 241.12L271.6 282.3Z" fill="url(#gb)" fill-opacity="1"/>
<path d="M273.01 282.3L273.56 245.87L274.46 245.87L275.01 282.3Z" fill="url(#gb)" fill-opacity="1"/>
<path d="M275.02 282.3L275.57 250.62L276.47 250.62L277.02 282.3Z" fill="url(#gb)" fill-opacity="1"/>
<path d="M277.63 282.3L278.18 247.45L279.08 247.45L279.63 282.3Z" fill="url(#gb)" fill-opacity="1"/>
<path d="M280.04 282.3L280.59 242.7L281.49 242.7L282.04 282.3Z" fill="url(#gb)" fill-opacity="1"/>
<path d="M282.44 282.3L282.99 238.74L283.89 238.74L284.44 282.3Z" fill="url(#gb)" fill-opacity="1"/>
<path d="M284.05 282.3L284.6 244.28L285.5 244.28L286.05 282.3Z" fill="url(#gb)" fill-opacity="1"/>
<rect x="214" y="249.3" width="1.2" height="33" fill="rgb(168,207,125)" fill-opacity="0.95"/>
<rect x="214.4" y="249.96" width="0.4" height="32.34" fill="rgb(120,172,55)" fill-opacity="0.5"/>
<rect x="213.2" y="261.71" width="2.15" height="20.59" fill="url(#gb)"/>
<rect x="213.6" y="264.8" width="1.4" height="17.5" fill="url(#gc)"/>
<rect x="215.41" y="232.73" width="1.2" height="49.57" fill="rgb(168,207,125)" fill-opacity="0.95"/>
<rect x="215.81" y="233.72" width="0.4" height="48.58" fill="rgb(120,172,55)" fill-opacity="0.5"/>
<rect x="214.61" y="257.67" width="2.15" height="24.63" fill="url(#gb)"/>
<rect x="215.01" y="261.37" width="1.4" height="20.93" fill="url(#gc)"/>
<rect x="220.53" y="232.73" width="1.2" height="49.57" fill="rgb(168,207,125)" fill-opacity="0.95"/>
<rect x="220.93" y="233.72" width="0.4" height="48.58" fill="rgb(120,172,55)" fill-opacity="0.5"/>
<rect x="219.73" y="257.67" width="2.15" height="24.63" fill="url(#gb)"/>
<rect x="220.13" y="261.37" width="1.4" height="20.93" fill="url(#gc)"/>
<rect x="225.64" y="216.52" width="1.2" height="65.78" fill="rgb(168,207,125)" fill-opacity="0.95"/>
<rect x="226.04" y="217.84" width="0.4" height="64.46" fill="rgb(120,172,55)" fill-opacity="0.5"/>
<rect x="224.84" y="249.62" width="2.15" height="32.68" fill="url(#gb)"/>
<rect x="225.24" y="254.52" width="1.4" height="27.78" fill="url(#gc)"/>
<rect x="230.76" y="200.17" width="1.2" height="82.13" fill="rgb(168,207,125)" fill-opacity="0.95"/>
<rect x="231.16" y="201.81" width="0.4" height="80.49" fill="rgb(120,172,55)" fill-opacity="0.5"/>
<rect x="229.96" y="241.5" width="2.15" height="40.8" fill="url(#gb)"/>
<rect x="230.36" y="247.62" width="1.4" height="34.68" fill="url(#gc)"/>
<rect x="235.18" y="227.3" width="1.2" height="55" fill="rgb(168,207,125)" fill-opacity="0.95"/>
<rect x="235.58" y="228.4" width="0.4" height="53.9" fill="rgb(120,172,55)" fill-opacity="0.5"/>
<rect x="234.38" y="254.98" width="2.15" height="27.32" fill="url(#gb)"/>
<rect x="234.78" y="259.07" width="1.4" height="23.23" fill="url(#gc)"/>
<rect x="239.89" y="206.18" width="1.2" height="76.12" fill="rgb(168,207,125)" fill-opacity="0.95"/>
<rect x="240.29" y="207.7" width="0.4" height="74.6" fill="rgb(120,172,55)" fill-opacity="0.5"/>
<rect x="239.09" y="244.48" width="2.15" height="37.82" fill="url(#gb)"/>
<rect x="239.49" y="250.16" width="1.4" height="32.14" fill="url(#gc)"/>
<rect x="244.11" y="187.99" width="1.2" height="94.31" fill="rgb(168,207,125)" fill-opacity="0.95"/>
<rect x="244.51" y="189.88" width="0.4" height="92.42" fill="rgb(120,172,55)" fill-opacity="0.5"/>
<rect x="243.31" y="236.36" width="2.15" height="45.94" fill="url(#gb)"/>
<rect x="243.71" y="243.25" width="1.4" height="39.05" fill="url(#gc)"/>
<rect x="248.22" y="178.9" width="1.2" height="103.4" fill="rgb(168,207,125)" fill-opacity="0.95"/>
<rect x="248.62" y="180.97" width="0.4" height="101.33" fill="rgb(120,172,55)" fill-opacity="0.5"/>
<rect x="247.42" y="236.36" width="2.15" height="45.94" fill="url(#gb)"/>
<rect x="247.82" y="243.25" width="1.4" height="39.05" fill="url(#gc)"/>
<rect x="252.44" y="218.87" width="1.2" height="63.43" fill="rgb(168,207,125)" fill-opacity="0.95"/>
<rect x="252.84" y="220.14" width="0.4" height="62.16" fill="rgb(120,172,55)" fill-opacity="0.5"/>
<rect x="251.64" y="250.79" width="2.15" height="31.51" fill="url(#gb)"/>
<rect x="252.04" y="255.51" width="1.4" height="26.79" fill="url(#gc)"/>
<rect x="256.05" y="182.93" width="1.2" height="99.37" fill="rgb(168,207,125)" fill-opacity="0.95"/>
<rect x="256.45" y="184.92" width="0.4" height="97.38" fill="rgb(120,172,55)" fill-opacity="0.5"/>
<rect x="255.25" y="236.36" width="2.15" height="45.94" fill="url(#gb)"/>
<rect x="255.65" y="243.25" width="1.4" height="39.05" fill="url(#gc)"/>
<rect x="259.76" y="188.73" width="1.2" height="93.57" fill="rgb(168,207,125)" fill-opacity="0.95"/>
<rect x="260.16" y="190.6" width="0.4" height="91.7" fill="rgb(120,172,55)" fill-opacity="0.5"/>
<rect x="258.96" y="236.36" width="2.15" height="45.94" fill="url(#gb)"/>
<rect x="259.36" y="243.25" width="1.4" height="39.05" fill="url(#gc)"/>
<rect x="247.97" y="222.17" width="0.9" height="60.13" fill="rgb(165,206,120)" fill-opacity="0.75"/>
<rect x="259.01" y="216.52" width="0.9" height="65.78" fill="rgb(165,206,120)" fill-opacity="0.75"/>
<rect x="261.72" y="205.59" width="0.9" height="76.71" fill="rgb(165,206,120)" fill-opacity="0.75"/>
<rect x="225.19" y="245.63" width="0.9" height="36.67" fill="rgb(165,206,120)" fill-opacity="0.75"/>
<rect x="230.31" y="241.97" width="0.9" height="40.33" fill="rgb(165,206,120)" fill-opacity="0.75"/>
<rect x="239.44" y="249.3" width="0.9" height="33" fill="rgb(165,206,120)" fill-opacity="0.75"/>
<rect x="243.66" y="238.3" width="0.9" height="44" fill="rgb(165,206,120)" fill-opacity="0.75"/>
<rect x="251.99" y="249.3" width="0.9" height="33" fill="rgb(165,206,120)" fill-opacity="0.75"/>
<rect x="255.6" y="239.77" width="0.9" height="42.53" fill="rgb(165,206,120)" fill-opacity="0.75"/>
<rect x="265.99" y="241.97" width="1.2" height="40.33" fill="rgb(178,214,140)" fill-opacity="0.95"/>
<rect x="266.39" y="242.77" width="0.4" height="39.53" fill="rgb(125,176,62)" fill-opacity="0.45"/>
<path d="M265.59 282.3L266.29 264.15L266.89 264.15L267.59 282.3Z" fill="rgb(120,170,55)" fill-opacity="0.55"/>
<rect x="267.39" y="202.51" width="1.2" height="79.79" fill="rgb(178,214,140)" fill-opacity="0.95"/>
<rect x="267.79" y="204.11" width="0.4" height="78.19" fill="rgb(125,176,62)" fill-opacity="0.45"/>
<path d="M266.99 282.3L267.69 246.4L268.29 246.4L268.99 282.3Z" fill="rgb(120,170,55)" fill-opacity="0.55"/>
<rect x="270.5" y="205.59" width="1.2" height="76.71" fill="rgb(178,214,140)" fill-opacity="0.95"/>
<rect x="270.9" y="207.13" width="0.4" height="75.17" fill="rgb(125,176,62)" fill-opacity="0.45"/>
<path d="M270.1 282.3L270.8 247.78L271.4 247.78L272.1 282.3Z" fill="rgb(120,170,55)" fill-opacity="0.55"/>
<rect x="272.41" y="245.63" width="1.2" height="36.67" fill="rgb(178,214,140)" fill-opacity="0.95"/>
<rect x="272.81" y="246.37" width="0.4" height="35.93" fill="rgb(125,176,62)" fill-opacity="0.45"/>
<path d="M272.01 282.3L272.71 265.8L273.31 265.8L274.01 282.3Z" fill="rgb(120,170,55)" fill-opacity="0.55"/>
<rect x="274.31" y="228.18" width="1.2" height="54.12" fill="rgb(178,214,140)" fill-opacity="0.95"/>
<rect x="274.71" y="229.26" width="0.4" height="53.04" fill="rgb(125,176,62)" fill-opacity="0.45"/>
<path d="M273.91 282.3L274.61 257.95L275.21 257.95L275.91 282.3Z" fill="rgb(120,170,55)" fill-opacity="0.55"/>
<rect x="276.12" y="238.3" width="1.2" height="44" fill="rgb(178,214,140)" fill-opacity="0.95"/>
<rect x="276.52" y="239.18" width="0.4" height="43.12" fill="rgb(125,176,62)" fill-opacity="0.45"/>
<path d="M275.72 282.3L276.42 262.5L277.02 262.5L277.72 282.3Z" fill="rgb(120,170,55)" fill-opacity="0.55"/>
<rect x="277.43" y="249.3" width="1.2" height="33" fill="rgb(178,214,140)" fill-opacity="0.95"/>
<rect x="277.83" y="249.96" width="0.4" height="32.34" fill="rgb(125,176,62)" fill-opacity="0.45"/>
<path d="M277.03 282.3L277.73 267.45L278.33 267.45L279.03 282.3Z" fill="rgb(120,170,55)" fill-opacity="0.55"/>
<rect x="278.93" y="230.23" width="1.2" height="52.07" fill="rgb(178,214,140)" fill-opacity="0.95"/>
<rect x="279.33" y="231.27" width="0.4" height="51.03" fill="rgb(125,176,62)" fill-opacity="0.45"/>
<path d="M278.53 282.3L279.23 258.87L279.83 258.87L280.53 282.3Z" fill="rgb(120,170,55)" fill-opacity="0.55"/>
<rect x="280.74" y="247.1" width="1.2" height="35.2" fill="rgb(178,214,140)" fill-opacity="0.95"/>
<rect x="281.14" y="247.8" width="0.4" height="34.5" fill="rgb(125,176,62)" fill-opacity="0.45"/>
<path d="M280.34 282.3L281.04 266.46L281.64 266.46L282.34 282.3Z" fill="rgb(120,170,55)" fill-opacity="0.55"/>
<rect x="282.94" y="176.7" width="1.2" height="105.6" fill="rgb(178,214,140)" fill-opacity="0.95"/>
<rect x="283.34" y="178.81" width="0.4" height="103.49" fill="rgb(125,176,62)" fill-opacity="0.45"/>
<path d="M282.54 282.3L283.24 234.78L283.84 234.78L284.54 282.3Z" fill="rgb(120,170,55)" fill-opacity="0.55"/>
<rect x="284.35" y="227.3" width="1.2" height="55" fill="rgb(178,214,140)" fill-opacity="0.95"/>
<rect x="284.75" y="228.4" width="0.4" height="53.9" fill="rgb(125,176,62)" fill-opacity="0.45"/>
<path d="M283.95 282.3L284.65 257.55L285.25 257.55L285.95 282.3Z" fill="rgb(120,170,55)" fill-opacity="0.55"/>
<rect x="285.65" y="252.97" width="1.2" height="29.33" fill="rgb(178,214,140)" fill-opacity="0.95"/>
<rect x="286.05" y="253.55" width="0.4" height="28.75" fill="rgb(125,176,62)" fill-opacity="0.45"/>
<path d="M285.25 282.3L285.95 269.1L286.55 269.1L287.25 282.3Z" fill="rgb(120,170,55)" fill-opacity="0.55"/>
<rect x="287.06" y="252.97" width="1.2" height="29.33" fill="rgb(178,214,140)" fill-opacity="0.95"/>
<rect x="287.46" y="253.55" width="0.4" height="28.75" fill="rgb(125,176,62)" fill-opacity="0.45"/>
<path d="M286.66 282.3L287.36 269.1L287.96 269.1L288.66 282.3Z" fill="rgb(120,170,55)" fill-opacity="0.55"/>
<path d="M291.78 282.3L292.33 277.98L293.03 277.98L293.58 282.3Z" fill="rgb(150,196,100)" fill-opacity="0.85"/>
<path d="M292.23 282.3L292.53 277.98L292.83 277.98L293.13 282.3Z" fill="rgb(110,160,45)" fill-opacity="0.8"/>
<path d="M294.59 282.3L295.14 277.98L295.84 277.98L296.39 282.3Z" fill="rgb(150,196,100)" fill-opacity="0.85"/>
<path d="M295.04 282.3L295.34 277.98L295.64 277.98L295.94 282.3Z" fill="rgb(110,160,45)" fill-opacity="0.8"/>
<path d="M296.49 282.3L297.04 279.74L297.74 279.74L298.29 282.3Z" fill="rgb(150,196,100)" fill-opacity="0.85"/>
<path d="M296.94 282.3L297.24 279.74L297.54 279.74L297.84 282.3Z" fill="rgb(110,160,45)" fill-opacity="0.8"/>
<path d="M301.91 282.3L302.46 279.47L303.16 279.47L303.71 282.3Z" fill="rgb(150,196,100)" fill-opacity="0.85"/>
<path d="M302.36 282.3L302.66 279.47L302.96 279.47L303.26 282.3Z" fill="rgb(110,160,45)" fill-opacity="0.8"/>
<path d="M305.83 282.3L306.38 267.59L307.08 267.59L307.63 282.3Z" fill="rgb(150,196,100)" fill-opacity="0.85"/>
<path d="M306.28 282.3L306.58 267.59L306.88 267.59L307.18 282.3Z" fill="rgb(110,160,45)" fill-opacity="0.8"/>
<path d="M310.74 282.3L311.29 262.33L311.99 262.33L312.54 282.3Z" fill="rgb(150,196,100)" fill-opacity="0.85"/>
<path d="M311.19 282.3L311.49 262.33L311.79 262.33L312.09 282.3Z" fill="rgb(110,160,45)" fill-opacity="0.8"/>
<path d="M314.46 282.3L315.01 280.55L315.71 280.55L316.26 282.3Z" fill="rgb(150,196,100)" fill-opacity="0.85"/>
<path d="M314.91 282.3L315.21 280.55L315.51 280.55L315.81 282.3Z" fill="rgb(110,160,45)" fill-opacity="0.8"/>
<path d="M318.37 282.3L318.92 278.86L319.62 278.86L320.17 282.3Z" fill="rgb(150,196,100)" fill-opacity="0.85"/>
<path d="M318.82 282.3L319.12 278.86L319.42 278.86L319.72 282.3Z" fill="rgb(110,160,45)" fill-opacity="0.8"/>
<path d="M320.88 282.3L321.43 280.61L322.13 280.61L322.68 282.3Z" fill="rgb(150,196,100)" fill-opacity="0.85"/>
<path d="M321.33 282.3L321.63 280.61L321.93 280.61L322.23 282.3Z" fill="rgb(110,160,45)" fill-opacity="0.8"/>
<path d="M326.3 282.3L326.85 281.63L327.55 281.63L328.1 282.3Z" fill="rgb(150,196,100)" fill-opacity="0.85"/>
<path d="M326.75 282.3L327.05 281.63L327.35 281.63L327.65 282.3Z" fill="rgb(110,160,45)" fill-opacity="0.8"/>
<path d="M333.82 282.3L334.37 281.63L335.07 281.63L335.62 282.3Z" fill="rgb(150,196,100)" fill-opacity="0.85"/>
<path d="M334.27 282.3L334.57 281.63L334.87 281.63L335.17 282.3Z" fill="rgb(110,160,45)" fill-opacity="0.8"/>
<path d="M344.16 282.3L344.71 280.95L345.41 280.95L345.96 282.3Z" fill="rgb(150,196,100)" fill-opacity="0.85"/>
<path d="M344.61 282.3L344.91 280.95L345.21 280.95L345.51 282.3Z" fill="rgb(110,160,45)" fill-opacity="0.8"/>
<path d="M346.87 282.3L347.42 271.17L348.12 271.17L348.67 282.3Z" fill="rgb(150,196,100)" fill-opacity="0.85"/>
<path d="M347.32 282.3L347.62 271.17L347.92 271.17L348.22 282.3Z" fill="rgb(110,160,45)" fill-opacity="0.8"/>
<path d="M352.39 282.3L352.94 279.94L353.64 279.94L354.19 282.3Z" fill="rgb(150,196,100)" fill-opacity="0.85"/>
<path d="M352.84 282.3L353.14 279.94L353.44 279.94L353.74 282.3Z" fill="rgb(110,160,45)" fill-opacity="0.8"/>
<path d="M355.1 282.3L355.65 276.9L356.35 276.9L356.9 282.3Z" fill="rgb(150,196,100)" fill-opacity="0.85"/>
<path d="M355.55 282.3L355.85 276.9L356.15 276.9L356.45 282.3Z" fill="rgb(110,160,45)" fill-opacity="0.8"/>
<rect x="213.8" y="279.64" width="73.76" height="2.66" fill="rgb(180,150,70)" fill-opacity="0.2"/>
<path d="M212.8 282.3L213.25 274.67L213.55 274.67L214 282.3Z" fill="rgb(225,150,40)" fill-opacity="0.6"/>
<path d="M213.7 282.3L214.15 274.86L214.45 274.86L214.9 282.3Z" fill="rgb(217,83,25)" fill-opacity="0.6"/>
<path d="M214.5 282.3L214.95 275.27L215.25 275.27L215.7 282.3Z" fill="rgb(225,150,40)" fill-opacity="0.6"/>
<path d="M214.2 282.3L214.65 275.75L214.95 275.75L215.4 282.3Z" fill="rgb(217,83,25)" fill-opacity="0.6"/>
<path d="M215.11 282.3L215.56 272.87L215.86 272.87L216.31 282.3Z" fill="rgb(225,150,40)" fill-opacity="0.6"/>
<path d="M215.91 282.3L216.36 272.39L216.66 272.39L217.11 282.3Z" fill="rgb(225,150,40)" fill-opacity="0.6"/>
<path d="M219.32 282.3L219.77 279.36L220.07 279.36L220.52 282.3Z" fill="rgb(217,83,25)" fill-opacity="0.6"/>
<path d="M220.22 282.3L220.67 275.81L220.97 275.81L221.42 282.3Z" fill="rgb(225,150,40)" fill-opacity="0.6"/>
<path d="M221.03 282.3L221.48 275.94L221.78 275.94L222.23 282.3Z" fill="rgb(217,83,25)" fill-opacity="0.6"/>
<path d="M224.44 282.3L224.89 271.53L225.19 271.53L225.64 282.3Z" fill="rgb(217,83,25)" fill-opacity="0.6"/>
<path d="M225.34 282.3L225.79 277.6L226.09 277.6L226.54 282.3Z" fill="rgb(217,83,25)" fill-opacity="0.6"/>
<path d="M226.15 282.3L226.6 275.14L226.9 275.14L227.35 282.3Z" fill="rgb(200,120,30)" fill-opacity="0.6"/>
<path d="M229.56 282.3L230.01 275.62L230.31 275.62L230.76 282.3Z" fill="rgb(237,177,32)" fill-opacity="0.6"/>
<path d="M230.46 282.3L230.91 272.19L231.21 272.19L231.66 282.3Z" fill="rgb(225,150,40)" fill-opacity="0.6"/>
<path d="M231.26 282.3L231.71 276.42L232.01 276.42L232.46 282.3Z" fill="rgb(225,150,40)" fill-opacity="0.6"/>
<path d="M233.97 282.3L234.42 276.46L234.72 276.46L235.17 282.3Z" fill="rgb(200,120,30)" fill-opacity="0.6"/>
<path d="M234.88 282.3L235.33 272.39L235.63 272.39L236.08 282.3Z" fill="rgb(217,83,25)" fill-opacity="0.6"/>
<path d="M235.68 282.3L236.13 278.35L236.43 278.35L236.88 282.3Z" fill="rgb(217,83,25)" fill-opacity="0.6"/>
<path d="M238.69 282.3L239.14 279.54L239.44 279.54L239.89 282.3Z" fill="rgb(200,120,30)" fill-opacity="0.6"/>
<path d="M239.59 282.3L240.04 272.01L240.34 272.01L240.79 282.3Z" fill="rgb(237,177,32)" fill-opacity="0.6"/>
<path d="M240.4 282.3L240.85 273.11L241.15 273.11L241.6 282.3Z" fill="rgb(237,177,32)" fill-opacity="0.6"/>
<path d="M242.9 282.3L243.35 275.36L243.65 275.36L244.1 282.3Z" fill="rgb(237,177,32)" fill-opacity="0.6"/>
<path d="M243.81 282.3L244.26 270.21L244.56 270.21L245.01 282.3Z" fill="rgb(237,177,32)" fill-opacity="0.6"/>
<path d="M244.61 282.3L245.06 275.63L245.36 275.63L245.81 282.3Z" fill="rgb(200,120,30)" fill-opacity="0.6"/>
<path d="M247.02 282.3L247.47 278.53L247.77 278.53L248.22 282.3Z" fill="rgb(200,120,30)" fill-opacity="0.6"/>
<path d="M247.92 282.3L248.37 270.17L248.67 270.17L249.12 282.3Z" fill="rgb(217,83,25)" fill-opacity="0.6"/>
<path d="M248.72 282.3L249.17 277.06L249.47 277.06L249.92 282.3Z" fill="rgb(225,150,40)" fill-opacity="0.6"/>
<path d="M251.23 282.3L251.68 270.09L251.98 270.09L252.43 282.3Z" fill="rgb(217,83,25)" fill-opacity="0.6"/>
<path d="M252.14 282.3L252.59 277.63L252.89 277.63L253.34 282.3Z" fill="rgb(200,120,30)" fill-opacity="0.6"/>
<path d="M252.94 282.3L253.39 270.11L253.69 270.11L254.14 282.3Z" fill="rgb(217,83,25)" fill-opacity="0.6"/>
<path d="M254.85 282.3L255.3 279.24L255.6 279.24L256.05 282.3Z" fill="rgb(237,177,32)" fill-opacity="0.6"/>
<path d="M255.75 282.3L256.2 277.6L256.5 277.6L256.95 282.3Z" fill="rgb(225,150,40)" fill-opacity="0.6"/>
<path d="M256.55 282.3L257 279.55L257.3 279.55L257.75 282.3Z" fill="rgb(225,150,40)" fill-opacity="0.6"/>
<path d="M258.56 282.3L259.01 271.7L259.31 271.7L259.76 282.3Z" fill="rgb(200,120,30)" fill-opacity="0.6"/>
<path d="M259.46 282.3L259.91 278.94L260.21 278.94L260.66 282.3Z" fill="rgb(217,83,25)" fill-opacity="0.6"/>
<path d="M260.27 282.3L260.72 277.64L261.02 277.64L261.47 282.3Z" fill="rgb(237,177,32)" fill-opacity="0.6"/>
<path d="M264.98 282.3L265.43 279.49L265.73 279.49L266.18 282.3Z" fill="rgb(225,150,40)" fill-opacity="0.6"/>
<path d="M265.72 282.3L266.17 276.08L266.47 276.08L266.92 282.3Z" fill="rgb(200,120,30)" fill-opacity="0.6"/>
<path d="M266.49 282.3L266.94 278.42L267.24 278.42L267.69 282.3Z" fill="rgb(200,120,30)" fill-opacity="0.6"/>
<path d="M267.41 282.3L267.86 271.68L268.16 271.68L268.61 282.3Z" fill="rgb(237,177,32)" fill-opacity="0.6"/>
<path d="M268.15 282.3L268.6 271.35L268.9 271.35L269.35 282.3Z" fill="rgb(237,177,32)" fill-opacity="0.6"/>
<path d="M268.91 282.3L269.36 273.64L269.66 273.64L270.11 282.3Z" fill="rgb(225,150,40)" fill-opacity="0.6"/>
<path d="M269.7 282.3L270.15 270.95L270.45 270.95L270.9 282.3Z" fill="rgb(237,177,32)" fill-opacity="0.6"/>
<path d="M270.32 282.3L270.77 272.7L271.07 272.7L271.52 282.3Z" fill="rgb(237,177,32)" fill-opacity="0.6"/>
<path d="M271.08 282.3L271.53 272.57L271.83 272.57L272.28 282.3Z" fill="rgb(237,177,32)" fill-opacity="0.6"/>
<path d="M271.89 282.3L272.34 273.07L272.64 273.07L273.09 282.3Z" fill="rgb(200,120,30)" fill-opacity="0.6"/>
<path d="M272.76 282.3L273.21 271.2L273.51 271.2L273.96 282.3Z" fill="rgb(217,83,25)" fill-opacity="0.6"/>
<path d="M273.35 282.3L273.8 275.61L274.1 275.61L274.55 282.3Z" fill="rgb(217,83,25)" fill-opacity="0.6"/>
<path d="M274.02 282.3L274.47 278.6L274.77 278.6L275.22 282.3Z" fill="rgb(225,150,40)" fill-opacity="0.6"/>
<path d="M274.61 282.3L275.06 277.36L275.36 277.36L275.81 282.3Z" fill="rgb(200,120,30)" fill-opacity="0.6"/>
<path d="M275.48 282.3L275.93 277.18L276.23 277.18L276.68 282.3Z" fill="rgb(200,120,30)" fill-opacity="0.6"/>
<path d="M276.31 282.3L276.76 276.83L277.06 276.83L277.51 282.3Z" fill="rgb(237,177,32)" fill-opacity="0.6"/>
<path d="M276.88 282.3L277.33 270.75L277.63 270.75L278.08 282.3Z" fill="rgb(217,83,25)" fill-opacity="0.6"/>
<path d="M277.83 282.3L278.28 278.43L278.58 278.43L279.03 282.3Z" fill="rgb(200,120,30)" fill-opacity="0.6"/>
<path d="M278.77 282.3L279.22 274.29L279.52 274.29L279.97 282.3Z" fill="rgb(217,83,25)" fill-opacity="0.6"/>
<path d="M279.58 282.3L280.03 276.96L280.33 276.96L280.78 282.3Z" fill="rgb(237,177,32)" fill-opacity="0.6"/>
<path d="M280.38 282.3L280.83 272.47L281.13 272.47L281.58 282.3Z" fill="rgb(217,83,25)" fill-opacity="0.6"/>
<path d="M281 282.3L281.45 277.07L281.75 277.07L282.2 282.3Z" fill="rgb(200,120,30)" fill-opacity="0.6"/>
<path d="M281.56 282.3L282.01 277.26L282.31 277.26L282.76 282.3Z" fill="rgb(217,83,25)" fill-opacity="0.6"/>
<path d="M282.32 282.3L282.77 277.95L283.07 277.95L283.52 282.3Z" fill="rgb(225,150,40)" fill-opacity="0.6"/>
<path d="M282.9 282.3L283.35 274.56L283.65 274.56L284.1 282.3Z" fill="rgb(237,177,32)" fill-opacity="0.6"/>
<path d="M283.52 282.3L283.97 278.76L284.27 278.76L284.72 282.3Z" fill="rgb(237,177,32)" fill-opacity="0.6"/>
<path d="M284.17 282.3L284.62 271.12L284.92 271.12L285.37 282.3Z" fill="rgb(225,150,40)" fill-opacity="0.6"/>
<path d="M284.74 282.3L285.19 273.35L285.49 273.35L285.94 282.3Z" fill="rgb(237,177,32)" fill-opacity="0.6"/>
<path d="M285.47 282.3L285.92 274L286.22 274L286.67 282.3Z" fill="rgb(217,83,25)" fill-opacity="0.6"/>
<path d="M286.2 282.3L286.65 275.1L286.95 275.1L287.4 282.3Z" fill="rgb(225,150,40)" fill-opacity="0.6"/>
<rect x="264.65" y="275.02" width="0.8" height="6.92" fill="rgb(0,114,189)" fill-opacity="0.4"/>
<rect x="216.9" y="276.4" width="0.8" height="5.53" fill="rgb(0,114,189)" fill-opacity="0.4"/>
<rect x="249.28" y="276" width="0.8" height="5.93" fill="rgb(0,114,189)" fill-opacity="0.4"/>
<rect x="237.81" y="274.86" width="0.8" height="7.07" fill="rgb(0,114,189)" fill-opacity="0.4"/>
<rect x="220.69" y="276.79" width="0.8" height="5.15" fill="rgb(0,114,189)" fill-opacity="0.4"/>
<rect x="268.66" y="268.05" width="1" height="12.05" fill="rgb(126,47,142)" fill-opacity="0.35"/>
<rect x="268.67" y="269.3" width="1" height="10.8" fill="rgb(126,47,142)" fill-opacity="0.35"/>
<rect x="272.28" y="267.96" width="1" height="12.14" fill="rgb(126,47,142)" fill-opacity="0.35"/>
<rect x="243.92" y="269.42" width="1" height="10.68" fill="rgb(126,47,142)" fill-opacity="0.35"/>
<rect x="279.18" y="268.24" width="1" height="11.86" fill="rgb(126,47,142)" fill-opacity="0.35"/>
<rect x="248.12" y="268.75" width="1" height="11.35" fill="rgb(126,47,142)" fill-opacity="0.35"/>
<rect x="276.79" y="270.14" width="1" height="9.96" fill="rgb(126,47,142)" fill-opacity="0.35"/>
<rect x="261.47" y="271.35" width="1" height="8.75" fill="rgb(126,47,142)" fill-opacity="0.35"/>
<line x1="213.8" y1="281.6" x2="356.2" y2="281.6" stroke="rgb(185,170,90)" stroke-width="0.9"/>
</g>
<rect x="213.8" y="172.3" width="142.4" height="110" fill="none" stroke="#8e8e8e" stroke-width="0.85"/>
<g stroke="#999" stroke-width="0.7"><line x1="225.14" y1="282.3" x2="225.14" y2="280.9"/><line x1="225.14" y1="172.3" x2="225.14" y2="173.7"/><line x1="252.64" y1="282.3" x2="252.64" y2="280.9"/><line x1="252.64" y1="172.3" x2="252.64" y2="173.7"/><line x1="279.43" y1="282.3" x2="279.43" y2="280.9"/><line x1="279.43" y1="172.3" x2="279.43" y2="173.7"/><line x1="306.53" y1="282.3" x2="306.53" y2="280.9"/><line x1="306.53" y1="172.3" x2="306.53" y2="173.7"/><line x1="334.42" y1="282.3" x2="334.42" y2="280.9"/><line x1="334.42" y1="172.3" x2="334.42" y2="173.7"/><line x1="213.8" y1="282.3" x2="215.2" y2="282.3"/><line x1="356.2" y1="282.3" x2="354.8" y2="282.3"/><line x1="213.8" y1="245.63" x2="215.2" y2="245.63"/><line x1="356.2" y1="245.63" x2="354.8" y2="245.63"/><line x1="213.8" y1="208.97" x2="215.2" y2="208.97"/><line x1="356.2" y1="208.97" x2="354.8" y2="208.97"/><line x1="213.8" y1="172.3" x2="215.2" y2="172.3"/><line x1="356.2" y1="172.3" x2="354.8" y2="172.3"/></g>
<g font-family="Liberation Serif, serif" font-size="5.8" fill="#3a3a3a" stroke="#3a3a3a" stroke-width="0.08"><text x="225.14" y="290.1" text-anchor="middle">1.305</text><text x="252.64" y="290.1" text-anchor="middle">1.31</text><text x="279.43" y="290.1" text-anchor="middle">1.315</text><text x="306.53" y="290.1" text-anchor="middle">1.32</text><text x="334.42" y="290.1" text-anchor="middle">1.325</text><text x="211.6" y="284.2" text-anchor="end">0</text><text x="211.6" y="247.53" text-anchor="end">50</text><text x="211.6" y="210.87" text-anchor="end">100</text><text x="211.6" y="174.2" text-anchor="end">150</text></g>
<text x="344.2" y="297.2" font-family="Liberation Serif, serif" font-size="6" fill="#3a3a3a" stroke="#3a3a3a" stroke-width="0.08">×10<tspan dy="-2.6" font-size="4.2">4</tspan></text>
<g font-family="Liberation Serif, serif" fill="#3a3a3a" stroke="#3a3a3a" stroke-width="0.04"><text x="254.95" y="298.4" font-size="7.25">Wavenumber</text><text x="297.4" y="298.4" font-size="7.5" font-style="italic">/cm</text><text x="309" y="295.3" font-size="5.2">−1</text></g>
<text transform="translate(200.2 226.8) rotate(-90)" text-anchor="middle" font-family="Liberation Serif, serif" font-size="7" fill="#2a2a2a" stroke="#2a2a2a" stroke-width="0.07">Relative Error (RE) /%</text>
<text x="284.1" y="166.5" text-anchor="middle" font-family="Liberation Sans, Arial, sans-serif" font-size="8.2" fill="#111" stroke="#111" stroke-width="0.12">(e) O<tspan dy="3.0" font-size="6.2">2</tspan><tspan dy="-3.0">-A Band FWHM error 60%</tspan></text>
<g font-family="Liberation Serif, serif" font-size="5.78" fill="#000" stroke="#000" stroke-width="0.03"><line x1="276.1" y1="181.2" x2="293.5" y2="181.2" stroke="rgb(140,196,234)" stroke-width="1"/><text x="295.5" y="183.5">1% wavenumber error</text><line x1="276.1" y1="188.3" x2="293.5" y2="188.3" stroke="rgb(243,166,142)" stroke-width="1"/><text x="295.5" y="190.6">5% wavenumber error</text><line x1="276.1" y1="195.4" x2="293.5" y2="195.4" stroke="rgb(250,220,160)" stroke-width="1"/><text x="295.5" y="197.7">10% wavenumber error</text><line x1="276.1" y1="202.5" x2="293.5" y2="202.5" stroke="rgb(208,176,223)" stroke-width="1"/><text x="295.5" y="204.8">30% wavenumber error</text><line x1="276.1" y1="209.6" x2="293.5" y2="209.6" stroke="rgb(198,222,175)" stroke-width="1"/><text x="295.5" y="211.9">60% wavenumber error</text></g>
</g>
</svg></body></html>
